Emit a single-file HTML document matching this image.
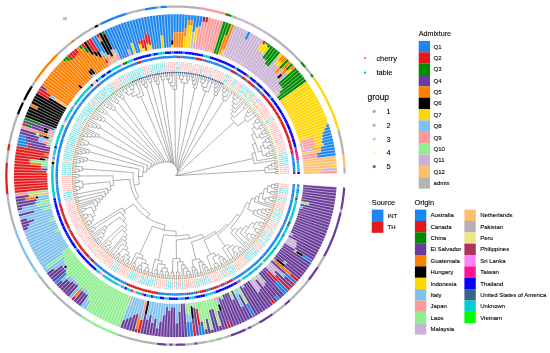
<!DOCTYPE html>
<html><head><meta charset="utf-8"><title>Circular tree with admixture</title>
<style>html,body{margin:0;padding:0;background:#fff;overflow:hidden}svg{display:block}.lg text{stroke:#000;stroke-width:.1px}</style></head>
<body>
<svg width="550" height="353" viewBox="0 0 550 353" font-family="Liberation Sans, sans-serif">
<rect width="550" height="353" fill="#fff"/>
<path fill="#FDBF6F" d="M303.69 174.03L319.67 173.83L319.61 171.13L303.64 171.63ZM303.64 171.66L324.27 171.01L324.16 168.23L303.54 169.26ZM303.54 169.29L331.15 167.91L330.98 165.01L303.4 166.89ZM303.4 166.92L336.62 164.65L336.39 161.64L303.22 164.53ZM303.22 164.55L336.39 161.67L336.1 158.67L302.99 162.17ZM302.99 162.19L336.11 158.69L335.76 155.7L302.72 159.81ZM302.05 155.14L312.9 153.38L312.46 150.81L301.64 152.78ZM301.2 150.47L304.47 149.81L303.96 147.41L300.71 148.12ZM299.61 143.53L301.22 143.12L300.59 140.77L298.99 141.22ZM275.28 95.15L277.87 93.06L276.31 91.16L273.76 93.3ZM241.45 65.71L243.16 62.86L241.04 61.61L239.38 64.5ZM224.51 57.19L225.27 55.34L223.02 54.43L222.29 56.29ZM222.31 56.3L224.74 50.1L222.39 49.2L220.07 55.45ZM220.09 55.46L220.67 53.89L218.39 53.07L217.84 54.64ZM211.08 52.49L211.82 49.93L209.47 49.27L208.77 51.84ZM118.7 60.72L115.02 53.25L112.74 54.41L116.57 61.8ZM114.49 62.9L112.11 58.51L109.93 59.71L112.39 64.06ZM67.93 105.91L55.35 97.76L53.92 100.02L66.64 107.94ZM46.04 192.32L28.53 194.57L28.91 197.32L46.37 194.74ZM145.04 300.18L144.65 301.8L147.01 302.35L147.38 300.73ZM271.98 260.07L273.23 261.17L274.82 259.32L273.54 258.25Z"/>
<path fill="#CAB2D6" d="M319.67 173.83L323 173.78L322.94 171.03L319.61 171.13ZM324.27 171.01L336.92 170.62L336.8 167.6L324.16 168.23ZM301.65 152.8L311.48 151.02L310.99 148.48L301.2 150.45ZM300.72 148.15L303.32 147.58L302.77 145.19L300.18 145.81ZM300.18 145.83L302.78 145.21L302.18 142.84L299.61 143.51ZM276.75 97.01L280.69 93.95L279.15 92L275.26 95.13ZM277.87 93.06L283.05 88.88L281.41 86.89L276.31 91.16ZM273.77 93.32L281.43 86.9L279.75 84.94L272.21 91.5ZM272.23 91.52L279.77 84.96L278.05 83.03L270.64 89.72ZM270.66 89.74L287.96 74.12L286.04 72.04L269.03 87.98ZM269.05 87.99L278.77 78.89L276.94 76.97L267.4 86.26ZM267.41 86.28L284.12 70.03L282.13 68.02L265.73 84.58ZM265.74 84.59L276.29 73.95L274.37 72.08L264.03 82.92ZM264.04 82.94L278.99 67.29L276.95 65.37L262.29 81.3ZM262.31 81.32L276.97 65.39L274.89 63.51L260.53 79.71ZM260.55 79.73L279.33 58.55L277.12 56.63L258.74 78.15ZM258.76 78.17L268.49 66.77L266.44 65.05L256.93 76.63ZM256.94 76.64L266.46 65.07L264.38 63.39L255.08 75.14ZM255.1 75.15L266.47 60.8L264.31 59.12L253.21 73.68ZM253.22 73.7L264.33 59.13L262.13 57.49L251.31 72.26ZM251.32 72.28L264.13 54.82L261.85 53.19L249.38 70.88ZM249.4 70.89L262.84 51.84L260.51 50.23L247.43 69.53ZM247.45 69.54L259.59 51.63L257.26 50.08L245.45 68.22ZM245.47 68.23L263.65 40.33L261.1 38.7L243.45 66.94ZM243.47 66.95L261.13 38.72L258.55 37.14L241.43 65.7ZM243.16 62.86L258.58 37.16L255.98 35.63L241.04 61.61ZM239.4 64.51L256 35.64L253.37 34.16L237.31 63.34ZM237.34 63.35L253.4 34.18L250.74 32.75L235.23 62.21ZM235.25 62.22L246.89 40.13L244.34 38.82L233.12 61.13ZM233.14 61.14L248.11 31.39L245.4 30.06L230.99 60.08ZM231.01 60.09L245.43 30.07L242.69 28.79L228.84 59.07ZM228.86 59.08L242.72 28.8L239.97 27.57L226.67 58.11ZM226.69 58.12L239.99 27.59L237.21 26.41L224.49 57.18ZM225.27 55.34L237.24 26.42L234.44 25.29L223.02 54.43ZM204.19 50.7L205.09 46.81L202.68 46.28L201.85 50.19ZM201.88 50.19L202.56 46.93L200.15 46.45L199.53 49.72ZM194.87 48.92L195.88 42.34L193.39 41.98L192.5 48.58ZM192.53 48.59L194.74 32.08L192.05 31.75L190.15 48.29ZM131.79 55.13L129.52 48.87L127.16 49.75L129.54 55.97ZM52.26 140.34L44.26 138.04L43.58 140.5L51.62 142.65ZM131.43 296.04L128 305.42L130.43 306.28L133.69 296.84ZM249.09 280.63L257.69 292.9L259.87 291.34L251.04 279.23ZM251.02 279.25L258.86 290.01L260.99 288.43L252.94 277.82ZM254.8 276.38L263.04 286.85L265.1 285.19L256.67 274.88ZM258.76 277.47L264.03 283.92L266.04 282.25L260.65 275.9ZM265.47 266.97L274.82 276.46L276.69 274.59L267.16 265.28ZM267.15 265.29L274.29 272.28L276.08 270.42L268.81 263.56ZM268.79 263.58L280.91 275L282.75 273.01L270.42 261.82ZM284.64 242.91L294.56 249.02L295.91 246.78L285.88 240.86ZM285.87 240.88L295.9 246.81L297.21 244.54L287.07 238.8ZM287.06 238.82L295.75 243.74L297 241.49L288.22 236.73Z"/>
<path fill="#FB9A99" d="M323 173.78L336.99 173.61L336.92 170.59L322.94 171.03ZM302.72 159.83L317.59 157.99L317.24 155.33L302.4 157.46ZM302.41 157.48L317.24 155.36L316.84 152.71L302.04 155.11ZM311.48 151.02L321.31 149.24L320.79 146.52L310.99 148.48ZM304.47 149.81L313.28 148.05L312.74 145.48L303.96 147.41ZM303.32 147.58L315.03 145L314.43 142.4L302.77 145.19ZM302.78 145.21L315.08 142.27L314.43 139.67L302.18 142.84ZM301.22 143.12L314.12 139.78L313.42 137.19L300.59 140.77ZM213.36 53.17L223.19 21.35L220.3 20.49L211.06 52.48ZM211.82 49.93L220.33 20.5L217.42 19.68L209.47 49.27ZM208.8 51.85L217.45 19.69L214.52 18.94L206.48 51.25ZM206.5 51.25L214.55 18.94L211.62 18.24L204.17 50.7ZM205.09 46.81L211.65 18.25L208.7 17.6L202.68 46.28ZM202.56 46.93L207.7 22.49L204.83 21.92L200.15 46.45ZM199.55 49.73L204.86 21.92L201.98 21.4L197.19 49.3ZM197.22 49.3L201.17 26.33L198.37 25.88L194.85 48.92ZM120.84 59.69L118 53.66L115.73 54.76L118.68 60.73ZM115.02 53.25L112.8 48.78L110.44 49.97L112.74 54.41ZM115.06 58.83L113.53 55.87L111.3 57.05L112.88 59.98ZM112.11 58.51L109.74 54.11L107.48 55.36L109.93 59.71ZM112.41 64.05L109.96 59.7L107.8 60.94L110.34 65.25ZM110.36 65.23L108.67 62.36L106.56 63.63L108.31 66.47ZM52.08 130.17L48.96 129.02L48.11 131.39L51.26 132.48ZM54.41 133.55L48.12 131.37L47.31 133.75L53.64 135.82ZM53.65 135.8L50.21 134.68L49.47 137.02L52.93 138.08ZM39.2 131.08L22 125.45L21.09 128.33L38.39 133.63ZM48.41 141.77L43.58 140.48L42.95 142.95L47.8 144.15ZM51.04 144.92L46.19 143.72L45.61 146.15L50.48 147.25ZM28.21 191.85L17.29 193.05L17.64 196.01L28.54 194.6ZM48.35 192.02L46.04 192.32L46.37 194.74L48.68 194.4ZM144.65 301.8L141.88 313.12L144.45 313.72L147.01 302.35ZM192.15 302.76L192.37 304.41L194.77 304.08L194.52 302.43ZM212.99 298.24L213.97 301.43L216.31 300.69L215.28 297.52ZM215.26 297.53L216.08 300.06L218.4 299.28L217.53 296.77Z"/>
<path fill="#FFD700" d="M331.15 167.91L336.8 167.63L336.62 164.62L330.98 165.01ZM312.9 153.38L321.11 152.05L320.65 149.33L312.46 150.81ZM313.28 148.05L324.06 145.89L323.48 143.12L312.74 145.48ZM315.03 145L322.18 143.43L321.55 140.7L314.43 142.4ZM315.08 142.27L322.86 140.41L322.17 137.67L314.43 139.67ZM314.12 139.78L322.82 137.53L322.08 134.78L313.42 137.19ZM299 141.24L323.38 134.45L322.58 131.69L298.33 138.94ZM298.34 138.96L325.14 130.96L324.28 128.17L297.63 136.67ZM297.64 136.7L326.83 127.39L325.9 124.57L296.89 134.42ZM296.9 134.44L328.43 123.74L327.43 120.89L296.11 132.18ZM296.11 132.2L327.44 120.92L326.39 118.09L295.28 129.96ZM295.29 129.98L326.4 118.11L325.3 115.3L294.41 127.75ZM294.42 127.77L325.31 115.33L324.16 112.54L293.51 125.55ZM293.52 125.58L324.17 112.57L322.97 109.8L292.56 123.38ZM292.57 123.4L322.98 109.83L321.72 107.08L291.57 121.22ZM291.58 121.24L321.74 107.11L320.43 104.39L290.55 119.08ZM290.56 119.11L320.44 104.42L319.09 101.72L289.48 116.96ZM289.49 116.99L319.1 101.75L317.69 99.08L288.37 114.87ZM288.39 114.89L317.71 99.1L316.25 96.46L287.23 112.79ZM287.24 112.81L316.27 96.48L314.76 93.87L286.05 110.73ZM286.06 110.75L314.78 93.89L313.22 91.3L284.83 108.7ZM284.84 108.72L313.24 91.33L311.64 88.77L283.57 106.68ZM283.58 106.7L311.66 88.8L310.01 86.27L282.27 104.7ZM282.29 104.72L310.03 86.29L308.33 83.79L280.94 102.73ZM280.96 102.75L308.35 83.82L306.61 81.35L279.58 100.79ZM287.96 74.12L291.67 70.77L289.69 68.62L286.04 72.04ZM278.99 67.29L282.44 63.67L280.33 61.69L276.95 65.37ZM276.97 65.39L280.35 61.71L278.2 59.77L274.89 63.51ZM279.33 58.55L282.64 54.81L280.37 52.83L277.12 56.63ZM264.13 54.82L269.05 48.11L266.65 46.39L261.85 53.19ZM262.84 51.84L267.63 45.04L265.18 43.34L260.51 50.23ZM259.59 51.63L264.27 44.74L261.8 43.1L257.26 50.08ZM195.88 42.34L198.15 27.53L195.37 27.13L193.39 41.98ZM190.17 48.29L192.76 25.8L189.96 25.5L187.79 48.04ZM187.81 48.04L189.99 25.5L187.18 25.26L185.43 47.83ZM185.45 47.84L186.35 36.22L183.75 36.04L183.06 47.67ZM173.6 47.46L173.56 44.8L171.11 44.86L171.2 47.52ZM164.12 47.96L163 35.35L160.38 35.61L161.74 48.19ZM152.37 49.55L151.47 44.64L149.03 45.11L150.02 50.01ZM150.04 50L148.72 43.48L146.26 44L147.7 50.5ZM145.41 51.03L144.63 47.79L142.25 48.39L143.09 51.61ZM143.11 51.61L141.01 43.55L138.54 44.22L140.8 52.24ZM136.28 53.6L132.71 42.5L130.23 43.32L134 54.35ZM295.15 252.47L295.99 253.01L297.41 250.75L296.56 250.22Z"/>
<path fill="#1C86EE" d="M317.59 157.99L335.77 155.73L335.37 152.73L317.24 155.33ZM317.24 155.36L335.37 152.76L334.91 149.78L316.84 152.71ZM321.11 152.05L334.92 149.81L334.41 146.83L320.65 149.33ZM321.31 149.24L334.41 146.86L333.85 143.9L320.79 146.52ZM324.06 145.89L333.85 143.93L333.23 140.97L323.48 143.12ZM322.18 143.43L333.24 141L332.56 138.06L321.55 140.7ZM322.86 140.41L332.57 138.09L331.84 135.16L322.17 137.67ZM322.82 137.53L331.85 135.19L331.07 132.27L322.08 134.78ZM323.38 134.45L331.07 132.3L330.24 129.4L322.58 131.69ZM325.14 130.96L330.25 129.43L329.35 126.55L324.28 128.17ZM326.83 127.39L329.36 126.58L328.42 123.71L325.9 124.57ZM246.89 40.13L250.77 32.76L248.08 31.38L244.34 38.82ZM201.17 26.33L202.86 16.48L199.88 16L198.37 25.88ZM198.15 27.53L199.91 16.01L196.92 15.58L195.37 27.13ZM194.74 32.08L196.95 15.58L193.95 15.21L192.05 31.75ZM193.34 20.84L193.98 15.21L190.98 14.89L190.44 20.53ZM190.47 20.53L191.01 14.9L188 14.63L187.57 20.28ZM187 27.92L188.03 14.64L185.02 14.43L184.24 27.73ZM183.99 32.38L185.05 14.43L182.04 14.28L181.31 32.25ZM181.34 32.25L182.07 14.28L179.05 14.19L178.66 32.17ZM178.68 32.17L179.08 14.19L176.06 14.15L176 32.13ZM176.03 32.13L176.09 14.15L173.07 14.17L173.34 32.15ZM173.49 40.14L173.1 14.17L170.09 14.24L170.96 40.2ZM171.23 47.52L170.12 14.24L167.1 14.37L168.83 47.62ZM168.86 47.62L167.13 14.37L164.12 14.55L166.46 47.77ZM166.49 47.77L164.15 14.55L161.14 14.79L164.1 47.96ZM163 35.35L161.17 14.79L158.16 15.08L160.38 35.61ZM161.76 48.19L158.19 15.08L155.2 15.43L159.38 48.47ZM159.41 48.46L155.23 15.43L152.23 15.83L157.03 48.79ZM157.05 48.78L152.26 15.83L149.28 16.29L154.69 49.15ZM154.71 49.15L149.31 16.29L146.34 16.8L152.35 49.56ZM149.67 34.81L146.37 16.8L143.4 17.37L147.04 35.32ZM146.74 33.68L143.43 17.37L140.48 17.99L144.09 34.25ZM145.2 39.12L140.51 17.99L137.57 18.67L142.65 39.71ZM142.68 39.7L137.6 18.66L134.67 19.4L140.14 40.34ZM140.17 40.33L134.7 19.39L131.78 20.18L137.64 41.02ZM140.82 52.23L131.81 20.17L128.92 21.01L138.52 52.9ZM138.54 52.89L128.94 21.01L126.06 21.9L136.26 53.6ZM132.71 42.5L126.09 21.89L123.22 22.84L130.23 43.32ZM134.03 54.34L123.25 22.83L120.41 23.84L131.77 55.14ZM129.52 48.87L120.43 23.83L117.61 24.88L127.16 49.75ZM129.57 55.96L117.63 24.87L114.83 25.98L127.34 56.84ZM126.73 55.29L114.85 25.97L112.07 27.13L124.49 56.22ZM125.17 57.74L112.09 27.12L109.33 28.33L122.97 58.7ZM123 58.69L109.36 28.32L106.62 29.58L120.82 59.7ZM115.87 49.14L106.64 29.56L103.92 30.88L113.52 50.28ZM105.86 52.45L96.03 35.06L93.41 36.57L103.57 53.77ZM101.9 50.89L93.44 36.55L90.85 38.11L99.58 52.29ZM25.89 135.76L19.45 134.04L18.7 136.97L25.17 138.56ZM25.82 138.7L18.71 136.94L18.01 139.88L25.16 141.5ZM28.41 142.21L18.02 139.85L17.38 142.8L27.81 144.96ZM27.82 144.94L17.38 142.77L16.8 145.73L27.27 147.7ZM65.37 272.29L54.11 282.17L56.12 284.42L67.2 274.33ZM186.44 321.76L187.56 336.7L190.57 336.45L189.17 321.53ZM189.2 322.19L190.54 336.45L193.54 336.14L191.94 321.91ZM197.95 325.49L199.44 335.37L202.42 334.89L200.75 325.04ZM201 326.69L202.39 334.9L205.36 334.37L203.82 326.18ZM245.79 304.2L252.18 315.89L254.79 314.43L248.18 302.87ZM274.57 296.81L277.73 300.68L280.05 298.74L276.81 294.94ZM274.39 283.75L284.51 294.81L286.72 292.75L276.4 281.89ZM276.38 281.91L286.7 292.77L288.87 290.67L278.35 280ZM283.96 274.15L295.05 284.23L297.06 281.98L285.78 272.11ZM301.59 256.61L311.4 262.91L313.01 260.35L303.08 254.24Z"/>
<path fill="#008B00" d="M279.59 100.81L306.63 81.37L304.84 78.94L278.17 98.88ZM278.19 98.9L304.86 78.96L303.03 76.56L276.73 96.99ZM280.69 93.95L303.05 76.59L301.18 74.22L279.15 92ZM283.05 88.88L301.19 74.24L299.28 71.91L281.41 86.89ZM281.43 86.9L299.3 71.94L297.34 69.64L279.75 84.94ZM279.77 84.96L297.36 69.66L295.35 67.4L278.05 83.03ZM287.28 70.92L293.35 65.23L291.27 63.04L285.3 68.85ZM280.98 69.22L289.18 60.94L287.02 58.84L278.97 67.27ZM268.49 66.77L280.39 52.85L278.08 50.91L266.44 65.05ZM266.46 65.07L278.1 50.93L275.75 49.03L264.38 63.39ZM266.47 60.8L275.77 49.05L273.39 47.2L264.31 59.12ZM264.33 59.13L273.41 47.22L271 45.41L262.13 57.49ZM269.05 48.11L271.02 45.43L268.57 43.66L266.65 46.39ZM267.63 45.04L268.59 43.68L266.11 41.96L265.18 43.34ZM227.28 36.1L231.68 24.24L228.84 23.21L224.66 35.16ZM217.86 54.65L228.87 23.22L226.01 22.25L215.59 53.88ZM215.62 53.89L226.04 22.26L223.16 21.34L213.33 53.16ZM105.43 33.85L103.95 30.86L101.26 32.23L102.79 35.18ZM89.46 51.75L85.66 46.28L83.25 47.99L87.15 53.38ZM83.28 47.97L80.94 44.73L78.51 46.52L80.91 49.71ZM73.63 59.04L71.44 56.53L69.23 58.5L71.47 60.97ZM70.37 59.71L67.01 56.01L64.8 58.06L68.22 61.7ZM66.64 59.98L64.82 58.04L62.64 60.13L64.5 62.04ZM42.09 123.66L25.02 117.01L23.95 119.83L41.14 126.16ZM31.76 125.68L26.1 123.71L25.16 126.51L30.85 128.37ZM17.84 201.91L16.2 202.19L16.72 205.16L18.36 204.86Z"/>
<path fill="#FF7F00" d="M291.67 70.77L295.37 67.43L293.33 65.2L289.69 68.62ZM282.42 75.47L287.28 70.92L285.3 68.85L280.52 73.49ZM284.12 70.03L291.29 63.06L289.16 60.92L282.13 68.02ZM276.29 73.95L280.98 69.22L278.97 67.27L274.37 72.08ZM282.44 63.67L287.04 58.86L284.84 56.79L280.33 61.69ZM280.35 61.71L284.86 56.81L282.62 54.79L278.2 59.77ZM224.74 50.1L234.47 25.3L231.65 24.23L222.39 49.2ZM220.67 53.89L227.28 36.1L224.66 35.16L218.39 53.07ZM192.76 25.8L193.34 20.84L190.44 20.53L189.96 25.5ZM189.99 25.5L190.47 20.53L187.57 20.28L187.18 25.26ZM186.35 36.22L187 27.92L184.24 27.73L183.75 36.04ZM183.08 47.67L183.99 32.38L181.31 32.25L180.69 47.56ZM180.71 47.56L181.34 32.25L178.66 32.17L178.32 47.48ZM178.34 47.48L178.68 32.17L176 32.13L175.95 47.45ZM175.97 47.45L176.03 32.13L173.34 32.15L173.57 47.46ZM102.6 40.93L100.23 36.54L97.64 37.97L100.1 42.32ZM109.96 59.7L108.32 56.8L106.11 58.08L107.8 60.94ZM106.98 59.5L104.44 55.19L102.2 56.54L104.82 60.8ZM108.33 66.46L102.22 56.53L100.01 57.92L106.3 67.73ZM106.32 67.72L98.23 55.1L95.99 56.57L104.31 69.03ZM104.33 69.02L94.17 53.78L91.9 55.33L102.35 70.37ZM102.37 70.35L89.46 51.75L87.15 53.38L100.42 71.74ZM100.44 71.72L83.28 47.97L80.91 49.71L98.51 73.15ZM98.53 73.13L78.53 46.5L76.13 48.34L96.62 74.59ZM91.52 68.01L79.23 52.26L76.94 54.08L89.52 69.6ZM89.96 70.1L77.38 54.58L75.14 56.43L88 71.72ZM92.96 77.56L75.8 57.18L73.61 59.06L91.14 79.12ZM91.15 79.1L73.63 59.04L71.47 60.97L89.36 80.7ZM89.38 80.68L70.37 59.71L68.22 61.7L87.62 82.31ZM87.64 82.29L66.64 59.98L64.5 62.04L85.91 83.95ZM85.93 83.93L62.66 60.11L60.52 62.24L84.23 85.62ZM84.25 85.61L60.54 62.22L58.44 64.39L82.58 87.33ZM79.7 84.56L58.46 64.36L56.4 66.57L78.01 86.36ZM80.98 89.04L56.42 66.55L54.41 68.79L79.37 90.83ZM79.39 90.81L54.42 68.77L52.45 71.05L77.82 92.62ZM77.84 92.6L52.47 71.03L50.53 73.35L76.3 94.44ZM76.32 94.42L50.55 73.32L48.66 75.68L74.82 96.29ZM74.83 96.27L48.68 75.65L46.83 78.04L73.36 98.17ZM73.38 98.15L46.85 78.02L45.05 80.44L71.95 100.07ZM71.96 100.05L45.07 80.42L43.31 82.87L70.57 102ZM70.58 101.98L43.33 82.85L41.62 85.33L69.22 103.95ZM69.24 103.94L47.15 89.03L45.56 91.45L67.91 105.93ZM38.53 107.08L31.08 103.36L29.76 106.07L37.27 109.66ZM47.8 133.89L39.2 131.08L38.39 133.63L47.04 136.28ZM49.11 154.21L44.84 153.49L44.45 155.93L48.73 156.58ZM41.24 162.99L30.29 161.96L30.06 164.68L41.02 165.5ZM35.83 196.27L25.29 197.83L25.73 200.63L36.24 198.88ZM80.19 288.24L73.73 295.86L76 297.74L82.31 290ZM138.49 315.69L135.09 328.57L137.95 329.3L141.11 316.36ZM273.23 261.17L289.52 275.42L291.37 273.27L274.82 259.32ZM291.68 235.88L292.57 236.34L293.68 234.14L292.79 233.7Z"/>
<path fill="#000000" d="M278.77 78.89L282.42 75.47L280.52 73.49L276.94 76.97ZM173.56 44.8L173.49 40.14L170.96 40.2L171.11 44.86ZM112.8 48.78L105.43 33.85L102.79 35.18L110.44 49.97ZM113.53 55.87L101.28 32.21L98.62 33.63L111.3 57.05ZM109.74 54.11L102.6 40.93L100.1 42.32L107.48 55.36ZM102.22 56.53L98.73 50.86L96.41 52.31L100.01 57.92ZM98.23 55.1L95.54 50.9L93.22 52.41L95.99 56.57ZM94.17 53.78L85.85 41.32L83.35 43.02L91.9 55.33ZM95.62 73.26L91.52 68.01L89.52 69.6L93.72 74.77ZM93.11 73.98L89.96 70.1L88 71.72L91.22 75.54ZM82.59 87.31L79.7 84.56L78.01 86.36L80.96 89.06ZM66.65 107.92L49.69 97.36L48.25 99.72L65.41 109.96ZM65.42 109.94L36.83 92.87L35.3 95.48L64.21 112.01ZM64.22 111.99L35.32 95.45L33.84 98.09L63.05 114.08ZM63.06 114.06L33.86 98.06L32.43 100.72L61.93 116.17ZM61.94 116.15L32.45 100.7L31.07 103.38L60.85 118.28ZM60.86 118.26L38.53 107.08L37.27 109.66L59.81 120.42ZM59.82 120.39L29.77 106.04L28.5 108.78L58.81 122.57ZM58.82 122.54L28.51 108.75L27.28 111.51L57.84 124.73ZM57.85 124.71L27.3 111.48L26.12 114.26L56.92 126.92ZM56.93 126.9L26.13 114.23L25.01 117.04L56.04 129.12ZM48.96 129.02L44.27 127.29L43.39 129.75L48.11 131.39ZM48.12 131.37L44.34 130.05L43.51 132.51L47.31 133.75ZM49.11 136.89L44.34 135.43L43.61 137.88L48.41 139.26ZM45.1 158.47L39.48 157.73L39.17 160.27L44.8 160.91ZM37.8 195.98L35.83 196.27L36.24 198.88L38.21 198.55ZM65.75 264.99L63.68 266.67L65.4 268.75L67.44 267.03ZM147.35 300.72L144.43 313.72L147.01 314.27L149.7 301.23ZM190.17 306.36L191.58 318.93L194.25 318.61L192.61 306.06ZM217.63 304.81L219.7 311.14L222.22 310.29L220.04 304ZM276.07 260.42L283.71 266.85L285.4 264.82L277.64 258.52ZM295.99 253.01L301.59 256.61L303.08 254.24L297.41 250.75Z"/>
<path fill="#E31A1C" d="M264.27 44.74L266.14 41.98L263.62 40.31L261.8 43.1ZM207.7 22.49L208.73 17.61L205.77 17.01L204.83 21.92ZM151.47 44.64L149.67 34.81L147.04 35.32L149.03 45.11ZM148.72 43.48L146.74 33.68L144.09 34.25L146.26 44ZM147.72 50.5L145.2 39.12L142.65 39.71L145.39 51.04ZM144.63 47.79L142.68 39.7L140.14 40.34L142.25 48.39ZM141.01 43.55L140.17 40.33L137.64 41.02L138.54 44.22ZM100.23 36.54L98.64 33.61L96 35.07L97.64 37.97ZM108.67 62.36L106.98 59.5L104.82 60.8L106.56 63.63ZM98.73 50.86L90.88 38.09L88.32 39.7L96.41 52.31ZM95.54 50.9L88.35 39.68L85.82 41.34L93.22 52.41ZM85.66 46.28L83.38 43L80.91 44.75L83.25 47.99ZM79.23 52.26L76.16 48.32L73.8 50.2L76.94 54.08ZM77.38 54.58L73.82 50.18L71.49 52.1L75.14 56.43ZM75.8 57.18L71.51 52.08L69.22 54.05L73.61 59.06ZM71.44 56.53L69.25 54.03L66.99 56.03L69.23 58.5ZM51.16 95.05L39.98 87.8L38.37 90.35L49.68 97.38ZM49.69 97.36L38.38 90.32L36.81 92.9L48.25 99.72ZM26.1 123.71L22.96 122.62L21.99 125.48L25.16 126.51ZM31.01 142.8L28.41 142.21L27.81 144.96L30.42 145.51ZM30.42 145.48L27.82 144.94L27.27 147.7L29.89 148.2ZM49.52 151.87L16.8 145.7L16.27 148.67L49.1 154.23ZM44.84 153.49L16.27 148.64L15.8 151.62L44.45 155.93ZM48.73 156.55L15.8 151.59L15.38 154.58L48.4 158.92ZM39.48 157.73L15.38 154.55L15.02 157.55L39.17 160.27ZM29.91 159.2L15.02 157.52L14.71 160.52L29.63 161.92ZM30.29 161.96L14.71 160.49L14.46 163.5L30.06 164.68ZM41.02 165.48L14.46 163.47L14.26 166.48L40.86 167.99ZM41.52 168.01L14.26 166.45L14.12 169.47L41.4 170.51ZM46.4 170.68L14.12 169.44L14.03 172.45L46.33 173.09ZM47.33 173.09L14.03 172.42L14 175.44L47.3 175.48ZM47.3 175.46L14 175.41L14.02 178.43L47.32 177.86ZM47.32 177.83L14.02 178.4L14.1 181.42L47.38 180.23ZM47.38 180.2L14.1 181.39L14.24 184.4L47.49 182.6ZM47.49 182.57L14.24 184.37L14.43 187.39L47.64 184.97ZM47.64 184.94L14.42 187.36L14.67 190.36L47.83 187.33ZM47.83 187.31L14.67 190.33L14.97 193.34L48.07 189.69ZM73.73 295.86L71.15 298.91L73.47 300.84L76 297.74ZM140.3 319.59L137.13 332.53L140.07 333.22L142.99 320.22ZM192.21 324.56L193.51 336.14L196.51 335.78L194.99 324.22ZM195.49 309.02L197.95 325.49L200.75 325.04L197.98 308.62ZM226.01 321.31L228.42 328.24L231.26 327.22L228.73 320.34ZM269.41 299.6L273.03 304.37L275.42 302.53L271.71 297.82ZM267.21 272.25L276.38 281.91L278.35 280L269 270.51ZM277.16 278.83L288.84 290.7L290.97 288.56L279.07 276.92ZM288.66 282.31L293.02 286.42L295.07 284.21L290.64 280.18ZM289.52 275.42L297.04 282L299.01 279.71L291.37 273.27Z"/>
<path fill="#6A3D9A" d="M204.86 21.92L205.8 17.02L202.83 16.48L201.98 21.4ZM127.36 56.83L126.73 55.29L124.49 56.22L125.15 57.75ZM47.15 89.03L41.63 85.31L39.97 87.82L45.56 91.45ZM54.5 128.5L42.09 123.66L41.14 126.16L53.64 130.77ZM44.27 127.29L23.96 119.8L22.95 122.65L43.39 129.75ZM44.34 130.05L31.76 125.68L30.85 128.37L43.51 132.51ZM44.34 135.43L39.56 133.96L38.81 136.51L43.61 137.88ZM36.38 132.99L21.1 128.3L20.24 131.19L35.61 135.59ZM39.45 136.67L20.25 131.16L19.44 134.07L38.75 139.22ZM38.76 139.19L25.89 135.76L25.17 138.56L38.1 141.75ZM46.19 143.72L25.82 138.7L25.16 141.5L45.61 146.15ZM50.49 147.23L31.01 142.8L30.42 145.51L49.98 149.57ZM49.99 149.55L30.42 145.48L29.89 148.2L49.52 151.9ZM47.51 168.35L41.52 168.01L41.4 170.51L47.39 170.74ZM28.53 194.57L15.32 196.28L15.74 199.27L28.91 197.32ZM25.29 197.83L15.73 199.24L16.2 202.22L25.73 200.63ZM36.56 198.8L17.84 201.91L18.36 204.86L37.02 201.39ZM35.38 201.67L16.71 205.13L17.29 208.09L35.89 204.28ZM22.18 207.06L17.29 208.06L17.92 211.02L22.79 209.92ZM34.12 210.11L18.59 213.9L19.34 216.82L34.79 212.75ZM26.52 217.86L20.12 219.68L20.97 222.57L27.34 220.64ZM33.7 218.68L20.96 222.54L21.86 225.42L34.53 221.32ZM28.82 223.14L21.85 225.4L22.81 228.26L29.74 225.87ZM27.52 226.6L22.8 228.23L23.81 231.08L28.5 229.36ZM53.21 267.89L46.56 272.9L48.4 275.29L54.96 270.16ZM61.49 265L48.39 275.27L50.27 277.63L63.18 267.12ZM63.16 267.09L50.25 277.61L52.18 279.93L64.89 269.18ZM64.87 269.16L52.16 279.91L54.13 282.19L66.64 271.21ZM61.03 279.91L56.1 284.4L58.15 286.61L62.99 282.03ZM66.6 278.58L58.13 286.59L60.23 288.76L68.55 280.6ZM68.53 280.58L60.21 288.74L62.34 290.88L70.51 282.56ZM72.12 280.88L62.32 290.86L64.49 292.95L74.11 282.79ZM74.09 282.77L64.47 292.93L66.68 294.99L76.11 284.65ZM76.76 283.89L66.66 294.97L68.91 296.98L78.8 285.72ZM81.87 290.5L73.45 300.82L75.81 302.71L84.03 292.23ZM84.01 292.21L75.78 302.69L78.17 304.53L86.2 293.9ZM86.18 293.88L78.15 304.51L80.58 306.31L88.4 295.53ZM122.85 319.49L119.99 327.31L122.83 328.32L125.54 320.45ZM126.39 317.92L122.8 328.31L125.66 329.27L129.05 318.82ZM129.75 316.59L125.64 329.26L128.52 330.16L132.39 317.42ZM133.33 314.23L128.49 330.16L131.38 331.01L135.93 314.99ZM136.36 313.38L131.35 331L134.26 331.8L138.94 314.09ZM135.09 328.57L134.24 331.79L137.16 332.53L137.95 329.3ZM144.43 313.72L140.04 333.21L142.99 333.84L147.01 314.27ZM145.98 319.16L142.96 333.84L145.93 334.42L148.67 319.69ZM149.56 314.77L145.9 334.41L148.87 334.94L152.16 315.23ZM150.93 322.45L148.84 334.93L151.82 335.4L153.68 322.89ZM154.33 318.27L151.79 335.4L154.78 335.82L157 318.64ZM155.78 327.89L154.75 335.81L157.75 336.17L158.63 328.23ZM159.37 321.27L157.72 336.17L160.72 336.47L162.09 321.55ZM162.68 314.92L160.69 336.47L163.7 336.72L165.28 315.13ZM165.87 306.83L163.67 336.72L166.68 336.91L168.32 306.98ZM168.11 310.31L166.65 336.91L169.67 337.04L170.63 310.42ZM170.73 307.09L169.64 337.04L172.66 337.12L173.18 307.16ZM173.16 307.16L172.63 337.12L175.64 337.15L175.62 307.18ZM175.6 323.16L175.61 337.15L178.63 337.12L178.36 323.14ZM178.11 311.48L178.6 337.12L181.62 337.03L180.65 311.41ZM180.33 303.76L181.59 337.04L184.61 336.89L182.73 303.65ZM182.7 303.65L184.58 336.89L187.59 336.7L185.1 303.49ZM191.58 318.93L192.21 324.56L194.99 324.22L194.25 318.61ZM192.8 307.72L196.48 335.78L199.47 335.36L195.26 307.37ZM200.17 321.76L201 326.69L203.82 326.18L202.9 321.28ZM204.41 329.46L205.33 334.37L208.29 333.79L207.28 328.9ZM205.22 319.12L208.26 333.79L211.21 333.15L207.9 318.54ZM210.45 329.91L211.18 333.16L214.12 332.46L213.32 329.23ZM208.52 309.84L214.09 332.47L217.01 331.72L211.02 309.2ZM211 309.2L216.99 331.73L219.9 330.93L213.49 308.52ZM218.49 326.13L219.87 330.94L222.76 330.08L221.3 325.3ZM216.89 310.98L222.73 330.09L225.61 329.18L219.41 310.19ZM219.7 311.14L225.58 329.19L228.44 328.23L222.22 310.29ZM218.05 298.35L226.01 321.31L228.73 320.34L220.34 297.53ZM221.12 299.73L231.23 327.23L234.05 326.16L223.43 298.85ZM221.96 295.14L234.02 326.17L236.83 325.05L224.18 294.25ZM224.16 294.26L236.8 325.06L239.58 323.89L226.37 293.33ZM226.35 293.34L239.55 323.9L242.31 322.68L228.54 292.36ZM231.96 299.95L242.29 322.69L245.02 321.42L234.27 298.88ZM230.67 291.37L245 321.43L247.71 320.11L232.82 290.32ZM241.28 307.31L247.68 320.12L250.37 318.75L243.73 306.06ZM238 295.15L250.34 318.76L253 317.34L240.22 293.97ZM252.18 315.89L252.98 317.35L255.61 315.88L254.79 314.43ZM239.07 286.98L255.59 315.89L258.19 314.37L241.14 285.77ZM242.49 288.07L258.17 314.39L260.75 312.82L244.58 286.8ZM243.15 284.55L260.72 312.83L263.27 311.22L245.17 283.26ZM245.15 283.28L263.25 311.23L265.76 309.57L247.15 281.96ZM247.13 281.97L265.74 309.59L268.23 307.88L249.11 280.61ZM257.69 292.9L268.2 307.89L270.66 306.14L259.87 291.34ZM258.86 290.01L270.63 306.16L273.06 304.35L260.99 288.43ZM254.93 280.49L269.41 299.6L271.71 297.82L256.88 278.98ZM263.04 286.85L275.4 302.55L277.75 300.66L265.1 285.19ZM264.03 283.92L274.57 296.81L276.81 294.94L266.04 282.25ZM258.47 273.38L280.03 298.76L282.31 296.79L260.29 271.81ZM260.27 271.83L282.29 296.81L284.53 294.79L262.05 270.22ZM262.03 270.24L274.39 283.75L276.4 281.89L263.79 268.61ZM263.77 268.62L267.21 272.25L269 270.51L265.49 266.96ZM274.82 276.46L277.16 278.83L279.07 276.92L276.69 274.59ZM274.29 272.28L290.95 288.58L293.04 286.4L276.08 270.42ZM283.82 277.74L288.66 282.31L290.64 280.18L285.7 275.7ZM270.4 261.84L283.96 274.15L285.78 272.11L272 260.05ZM273.53 258.27L276.07 260.42L277.64 258.52L275.05 256.42ZM283.71 266.85L298.99 279.73L300.91 277.4L285.4 264.82ZM275.04 256.44L282.8 262.74L284.4 260.72L276.53 254.57ZM285.38 264.84L300.89 277.43L302.77 275.07L287.03 262.77ZM276.52 254.59L302.76 275.09L304.59 272.69L277.97 252.68ZM277.96 252.7L304.57 272.72L306.37 270.29L279.38 250.77ZM279.37 250.79L306.35 270.31L308.09 267.85L280.75 248.84ZM280.74 248.86L308.08 267.88L309.78 265.38L282.09 246.88ZM282.08 246.9L309.76 265.41L311.42 262.88L283.39 244.89ZM283.38 244.91L293.75 251.57L295.14 249.35L284.65 242.89ZM294.56 249.02L312.99 260.38L314.55 257.79L295.91 246.78ZM295.9 246.81L314.53 257.82L316.05 255.21L297.21 244.54ZM295.75 243.74L316.03 255.23L317.49 252.59L297 241.49ZM288.2 236.75L317.48 252.62L318.89 249.95L289.33 234.63ZM292.57 236.34L318.88 249.98L320.24 247.28L293.68 234.14ZM290.39 232.53L320.23 247.31L321.54 244.59L291.43 230.38ZM291.42 230.4L321.53 244.62L322.8 241.88L292.42 228.22ZM292.41 228.24L322.78 241.91L324 239.14L293.38 226.05ZM293.37 226.07L323.98 239.17L325.15 236.38L294.29 223.86ZM294.28 223.88L325.13 236.41L326.24 233.6L295.16 221.65ZM295.15 221.68L326.23 233.63L327.29 230.8L295.99 219.43ZM295.98 219.45L327.28 230.83L328.28 227.99L296.78 217.19ZM296.77 217.22L328.28 228.01L329.23 225.15L297.53 214.94ZM297.52 214.97L329.22 225.18L330.12 222.3L298.24 212.68ZM298.23 212.7L330.11 222.33L330.95 219.43L298.9 210.4ZM298.89 210.42L330.95 219.46L331.74 216.54L299.52 208.11ZM302.09 208.81L331.73 216.57L332.47 213.65L302.69 206.44ZM300.1 205.83L332.46 213.67L333.14 210.73L300.64 203.5ZM308.76 205.33L333.14 210.76L333.77 207.81L309.29 202.84ZM301.13 201.2L333.76 207.84L334.33 204.88L301.58 198.85ZM301.58 198.87L334.33 204.91L334.85 201.93L301.99 196.51ZM301.99 196.54L334.84 201.96L335.31 198.98L302.36 194.17ZM302.35 194.19L335.3 199.01L335.71 196.02L302.68 191.82ZM302.67 191.84L335.71 196.05L336.06 193.05L302.95 189.46ZM302.95 189.49L336.06 193.08L336.35 190.08L303.19 187.1ZM303.19 187.13L336.35 190.11L336.59 187.1L303.38 184.74Z"/>
<path fill="#7EC0EE" d="M118 53.66L115.87 49.14L113.52 50.28L115.73 54.76ZM116.59 61.79L115.06 58.83L112.88 59.98L114.47 62.91ZM108.32 56.8L105.86 52.45L103.57 53.77L106.11 58.08ZM104.44 55.19L101.9 50.89L99.58 52.29L102.2 56.54ZM96.64 74.57L95.62 73.26L93.72 74.77L94.77 76.06ZM94.78 76.05L93.11 73.98L91.22 75.54L92.94 77.58ZM55.35 97.76L51.16 95.05L49.68 97.38L53.92 100.02ZM56.05 129.1L54.5 128.5L53.64 130.77L55.2 131.34ZM55.21 131.32L52.08 130.17L51.26 132.48L54.4 133.57ZM50.21 134.68L47.8 133.89L47.04 136.28L49.47 137.02ZM44.26 138.04L39.45 136.67L38.75 139.22L43.58 140.5ZM43.58 140.48L38.76 139.19L38.1 141.75L42.95 142.95ZM48.4 158.9L45.1 158.47L44.8 160.91L48.11 161.28ZM32.23 159.46L29.91 159.2L29.63 161.92L31.95 162.14ZM47.67 165.98L41.02 165.48L40.86 167.99L47.51 168.37ZM17.29 193.05L14.97 193.31L15.33 196.31L17.64 196.01ZM48.67 194.37L37.8 195.98L38.21 198.55L49.05 196.74ZM49.04 196.72L36.56 198.8L37.02 201.39L49.46 199.08ZM40.29 200.75L35.38 201.67L35.89 204.28L40.78 203.28ZM36.86 204.05L22.18 207.06L22.79 209.92L37.41 206.64ZM50.41 203.7L17.91 210.99L18.6 213.93L50.95 206.03ZM42.21 208.14L34.12 210.11L34.79 212.75L42.84 210.63ZM51.53 208.31L19.33 216.79L20.13 219.71L52.16 210.62ZM52.16 210.6L26.52 217.86L27.34 220.64L52.83 212.9ZM52.82 212.88L33.7 218.68L34.53 221.32L53.54 215.16ZM53.53 215.14L28.82 223.14L29.74 225.87L54.29 217.41ZM49.56 219.02L27.52 226.6L28.5 229.36L50.39 221.36ZM55.08 219.63L23.8 231.05L24.86 233.87L55.92 221.87ZM55.91 221.85L24.85 233.85L25.96 236.65L56.8 224.07ZM56.79 224.05L25.95 236.62L27.12 239.41L57.71 226.26ZM57.7 226.24L27.11 239.38L28.32 242.14L58.67 228.43ZM55.02 230.06L28.31 242.12L29.58 244.85L56.06 232.3ZM59.66 230.56L29.57 244.83L30.88 247.54L60.7 232.72ZM60.69 232.7L30.87 247.52L32.24 250.21L61.78 234.83ZM61.77 234.81L32.23 250.18L33.64 252.84L62.89 236.93ZM62.88 236.91L33.63 252.82L35.1 255.46L64.05 239ZM64.03 238.98L35.08 255.43L36.6 258.04L65.24 241.05ZM65.23 241.03L36.58 258.02L38.15 260.6L66.47 243.08ZM66.45 243.06L38.13 260.57L39.74 263.12L67.73 245.09ZM67.72 245.07L39.72 263.1L41.38 265.62L69.04 247.07ZM62.11 251.69L41.37 265.6L43.07 268.09L63.55 253.79ZM45.78 266.16L43.05 268.06L44.8 270.52L47.5 268.57ZM63.65 256.81L44.79 270.5L46.58 272.92L65.19 258.88ZM63.84 259.87L53.21 267.89L54.96 270.16L65.44 261.94ZM64.11 262.95L61.49 265L63.18 267.12L65.76 265.01ZM63.68 266.67L63.16 267.09L64.89 269.18L65.4 268.75ZM66.15 268.08L64.87 269.16L66.64 271.21L67.89 270.11ZM64.72 276.55L61.03 279.91L62.99 282.03L66.62 278.6ZM70.23 275.15L66.6 278.58L68.55 280.6L72.11 277.1ZM72.09 277.08L68.53 280.58L70.51 282.56L74.01 279ZM73.99 278.98L72.12 280.88L74.11 282.79L75.94 280.86ZM75.92 280.84L74.09 282.77L76.11 284.65L77.9 282.68ZM78.33 282.17L76.76 283.89L78.8 285.72L80.34 283.97ZM77.68 286.95L68.89 296.96L71.17 298.93L79.78 288.76ZM81.91 286.2L80.19 288.24L82.31 290L83.99 287.93ZM83.97 287.92L81.87 290.5L84.03 292.23L86.08 289.61ZM86.06 289.59L84.01 292.21L86.2 293.9L88.21 291.24ZM87.18 292.55L86.18 293.88L88.4 295.53L89.38 294.18ZM86.42 298.21L80.55 306.29L83.01 308.04L88.73 299.85ZM88.71 299.84L82.98 308.03L85.47 309.73L91.04 301.44ZM128 305.42L122.85 319.49L125.54 320.45L130.43 306.28ZM133.67 296.83L126.39 317.92L129.05 318.82L135.94 297.59ZM135.92 297.59L129.75 316.59L132.39 317.42L138.2 298.3ZM138.18 298.3L133.33 314.23L135.93 314.99L140.48 298.97ZM140.46 298.97L136.36 313.38L138.94 314.09L142.77 299.6ZM142.74 299.59L138.49 315.69L141.11 316.36L145.07 300.19ZM141.88 313.12L140.3 319.59L142.99 320.22L144.45 313.72ZM149.67 301.22L145.98 319.16L148.67 319.69L152.02 301.68ZM152 301.68L149.56 314.77L152.16 315.23L154.36 302.09ZM154.34 302.09L150.93 322.45L153.68 322.89L156.7 302.46ZM156.68 302.46L154.33 318.27L157 318.64L159.05 302.79ZM159.03 302.79L155.78 327.89L158.63 328.23L161.41 303.07ZM161.39 303.07L159.37 321.27L162.09 321.55L163.77 303.31ZM163.75 303.31L162.68 314.92L165.28 315.13L166.13 303.51ZM166.11 303.51L165.87 306.83L168.32 306.98L168.5 303.66ZM168.48 303.66L168.11 310.31L170.63 310.42L170.87 303.77ZM170.85 303.77L170.73 307.09L173.18 307.16L173.24 303.83ZM173.22 303.83L173.16 307.16L175.62 307.18L175.61 303.85ZM175.59 303.85L175.6 323.16L178.36 323.14L177.99 303.83ZM177.96 303.83L178.11 311.48L180.65 311.41L180.36 303.76ZM185.82 313.45L186.44 321.76L189.17 321.53L188.39 313.24ZM188.52 314.9L189.2 322.19L191.94 321.91L191.12 314.63ZM216.08 300.06L217.63 304.81L220.04 304L218.4 299.28ZM234.58 293.91L241.28 307.31L243.73 306.06L236.78 292.78ZM234.91 289.25L238 295.15L240.22 293.97L237.02 288.12ZM241.12 285.78L242.49 288.07L244.58 286.8L243.17 284.54ZM280.91 275L283.82 277.74L285.7 275.7L282.75 273.01ZM282.8 262.74L285.38 264.84L287.03 262.77L284.4 260.72ZM293.75 251.57L295.15 252.47L296.56 250.22L295.14 249.35ZM289.32 234.65L291.68 235.88L292.79 233.7L290.4 232.51ZM299.52 208.13L302.09 208.81L302.69 206.44L300.1 205.81Z"/>
<path fill="#90EE90" d="M52.93 138.06L49.11 136.89L48.41 139.26L52.25 140.36ZM39.56 133.96L36.38 132.99L35.61 135.59L38.81 136.51ZM51.63 142.62L48.41 141.77L47.8 144.15L51.03 144.94ZM48.11 161.26L32.23 159.46L31.95 162.14L47.86 163.64ZM47.87 163.62L41.24 162.99L41.02 165.5L47.66 166ZM47.39 170.72L46.4 170.68L46.33 173.09L47.33 173.11ZM48.07 189.67L28.21 191.85L28.54 194.6L48.35 192.05ZM49.45 199.05L40.29 200.75L40.78 203.28L49.91 201.4ZM49.91 201.38L36.86 204.05L37.41 206.64L50.41 203.72ZM50.95 206.01L42.21 208.14L42.84 210.63L51.54 208.33ZM54.29 217.39L49.56 219.02L50.39 221.36L55.09 219.65ZM58.66 228.41L55.02 230.06L56.06 232.3L59.67 230.59ZM69.02 247.05L62.11 251.69L63.55 253.79L70.38 249.03ZM70.36 249.01L45.78 266.16L47.5 268.57L71.75 250.96ZM71.74 250.94L63.65 256.81L65.19 258.88L73.16 252.87ZM73.15 252.85L63.84 259.87L65.44 261.94L74.61 254.75ZM74.6 254.73L64.11 262.95L65.76 265.01L76.09 256.6ZM76.08 256.58L65.75 264.99L67.44 267.03L77.61 258.43ZM77.59 258.41L66.15 268.08L67.89 270.11L79.15 260.22ZM79.14 260.21L65.37 272.29L67.2 274.33L80.74 261.99ZM80.72 261.98L64.72 276.55L66.62 278.6L82.35 263.73ZM82.33 263.71L70.23 275.15L72.11 277.1L84 265.44ZM83.98 265.42L72.09 277.08L74.01 279L85.67 267.12ZM85.66 267.1L73.99 278.98L75.94 280.86L87.38 268.76ZM87.36 268.75L75.92 280.84L77.9 282.68L89.12 270.38ZM89.1 270.36L78.33 282.17L80.34 283.97L90.89 271.96ZM90.87 271.95L77.68 286.95L79.78 288.76L92.68 273.51ZM92.67 273.5L81.91 286.2L83.99 287.93L94.51 275.03ZM94.49 275.01L83.97 287.92L86.08 289.61L96.36 276.51ZM96.34 276.49L86.06 289.59L88.21 291.24L98.24 277.96ZM98.22 277.94L87.18 292.55L89.38 294.18L100.15 279.37ZM100.13 279.35L86.42 298.21L88.73 299.85L102.08 280.74ZM102.06 280.73L88.71 299.84L91.04 301.44L104.04 282.08ZM104.02 282.07L85.45 309.71L87.97 311.37L106.02 283.39ZM106 283.38L87.95 311.36L90.5 312.97L108.02 284.66ZM108 284.64L90.47 312.95L93.05 314.52L110.05 285.89ZM110.03 285.87L93.03 314.5L95.64 316.02L112.1 287.08ZM112.08 287.07L95.61 316.01L98.25 317.48L114.18 288.23ZM114.16 288.22L98.22 317.46L100.89 318.88L116.27 289.35ZM116.25 289.34L100.86 318.87L103.55 320.24L118.39 290.42ZM118.36 290.41L103.52 320.22L106.24 321.54L120.52 291.46ZM120.5 291.45L106.21 321.53L108.95 322.8L122.67 292.46ZM122.65 292.45L108.92 322.79L111.68 324.01L124.84 293.42ZM124.82 293.41L111.66 323.99L114.44 325.16L127.03 294.33ZM127.01 294.32L114.41 325.15L117.22 326.27L129.23 295.21ZM129.21 295.2L117.19 326.26L120.01 327.32L131.45 296.05ZM185.07 303.49L185.82 313.45L188.39 313.24L187.46 303.29ZM187.44 303.29L188.52 314.9L191.12 314.63L189.82 303.05ZM189.8 303.05L190.17 306.36L192.61 306.06L192.17 302.76ZM192.37 304.41L192.8 307.72L195.26 307.37L194.77 304.08ZM194.5 302.43L195.49 309.02L197.98 308.62L196.87 302.06ZM196.84 302.06L200.17 321.76L202.9 321.28L199.2 301.64ZM199.18 301.64L204.41 329.46L207.28 328.9L201.53 301.18ZM201.51 301.18L205.22 319.12L207.9 318.54L203.85 300.68ZM203.82 300.68L210.45 329.91L213.32 329.23L206.16 300.13ZM206.13 300.14L208.52 309.84L211.02 309.2L208.45 299.54ZM208.43 299.55L211 309.2L213.49 308.52L210.74 298.91ZM210.72 298.92L218.49 326.13L221.3 325.3L213.02 298.24ZM213.97 301.43L216.89 310.98L219.41 310.19L216.31 300.69ZM217.5 296.77L218.05 298.35L220.34 297.53L219.76 295.97ZM219.74 295.98L221.12 299.73L223.43 298.85L221.98 295.13ZM228.52 292.37L231.96 299.95L234.27 298.88L230.69 291.36ZM232.8 290.33L234.58 293.91L236.78 292.78L234.93 289.24ZM237 288.13L245.79 304.2L248.18 302.87L239.09 286.96ZM252.92 277.83L254.93 280.49L256.88 278.98L254.82 276.37ZM256.65 274.9L258.76 277.47L260.65 275.9L258.49 273.36ZM300.63 203.52L308.76 205.33L309.29 202.84L301.13 201.18Z"/>
<path d="M303.39 174.02L337.29 173.59M303.34 171.65L337.22 170.59M303.24 169.29L337.1 167.6M303.1 166.93L336.92 164.61M302.92 164.57L336.69 161.63M302.69 162.21L336.4 158.65M302.42 159.86L336.06 155.67M302.11 157.51L335.66 152.71M301.75 155.17L335.21 149.75M301.35 152.84L334.71 146.8M300.91 150.52L334.15 143.85M300.42 148.2L333.53 140.92M299.89 145.89L332.86 138.01M299.32 143.6L332.14 135.1M298.7 141.31L331.36 132.21M298.05 139.04L330.53 129.33M297.35 136.77L329.64 126.47M296.61 134.53L328.71 123.63M295.83 132.29L327.72 120.8M295 130.07L326.68 117.99M294.14 127.87L325.59 115.21M293.24 125.68L324.44 112.44M292.29 123.51L323.25 109.69M291.31 121.36L322 106.97M290.28 119.23L320.7 104.27M289.22 117.11L319.36 101.6M288.12 115.02L317.96 98.95M286.97 112.94L316.52 96.32M285.79 110.89L315.03 93.73M284.58 108.86L313.49 91.16M283.32 106.86L311.9 88.62M282.03 104.87L310.27 86.11M280.7 102.91L308.59 83.63M279.34 100.98L306.86 81.19M277.94 99.07L305.09 78.77M276.51 97.19L303.28 76.39M275.04 95.33L301.42 74.04M273.53 93.5L299.52 71.73M272 91.7L297.57 69.45M270.43 89.93L295.59 67.21M268.82 88.19L293.56 65.01M267.19 86.48L291.49 62.84M265.52 84.8L289.38 60.72M263.83 83.15L287.24 58.63M262.1 81.53L285.05 56.58M260.34 79.94L282.83 54.57M258.56 78.39L280.57 52.61M256.74 76.87L278.28 50.69M254.9 75.38L275.95 48.81M253.03 73.93L273.58 46.97M251.14 72.51L271.19 45.18M249.22 71.13L268.75 43.43M247.27 69.78L266.29 41.72M245.3 68.47L263.8 40.07M243.3 67.2L261.27 38.46M241.28 65.96L258.72 36.89M239.24 64.77L256.14 35.38M237.18 63.61L253.53 33.91M235.1 62.48L250.89 32.49M232.99 61.4L248.23 31.12M230.87 60.36L245.54 29.8M228.73 59.35L242.83 28.53M226.56 58.39L240.1 27.3M224.39 57.46L237.34 26.14M222.19 56.58L234.57 25.02M219.98 55.73L231.77 23.95M217.75 54.93L228.95 22.93M215.51 54.17L226.12 21.97M213.26 53.45L223.26 21.06M210.99 52.77L220.39 20.2M208.71 52.14L217.51 19.4M206.42 51.54L214.61 18.65M204.12 50.99L211.7 17.95M201.8 50.48L208.78 17.31M199.48 50.02L205.84 16.72M197.15 49.6L202.89 16.19M194.82 49.22L199.94 15.71M192.48 48.88L196.97 15.28M190.13 48.59L194 14.91M187.77 48.34L191.03 14.6M185.41 48.13L188.04 14.34M183.05 47.97L185.06 14.13M180.69 47.86L182.06 13.98M178.32 47.78L179.07 13.89M175.96 47.75L176.08 13.85M173.59 47.76L173.08 13.87M171.22 47.82L170.09 13.94M168.86 47.92L167.1 14.07M166.5 48.07L164.11 14.25M164.14 48.26L161.13 14.49M161.78 48.49L158.15 14.78M159.43 48.76L155.17 15.13M157.09 49.08L152.21 15.54M154.75 49.44L149.25 15.99M152.42 49.85L146.3 16.51M150.09 50.3L143.36 17.07M147.78 50.79L140.43 17.7M145.47 51.33L137.51 18.37M143.18 51.9L134.61 19.1M140.89 52.52L131.72 19.89M138.62 53.18L128.84 20.72M136.36 53.89L125.98 21.61M134.11 54.63L123.14 22.56M131.88 55.42L120.32 23.55M129.66 56.25L117.51 24.6M127.46 57.11L114.73 25.7M125.28 58.02L111.96 26.85M123.11 58.97L109.22 28.05M120.96 59.96L106.5 29.3M118.83 60.99L103.8 30.6M116.71 62.06L101.13 31.95M114.62 63.17L98.49 33.35M112.55 64.31L95.87 34.8M110.5 65.5L93.27 36.3M108.47 66.72L90.71 37.85M106.47 67.98L88.17 39.44M104.49 69.27L85.67 41.08M102.53 70.61L83.19 42.76M100.6 71.97L80.75 44.49M98.7 73.38L78.34 46.27M96.82 74.82L75.96 48.09M94.96 76.29L73.62 49.95M93.14 77.8L71.31 51.86M91.34 79.34L69.04 53.81M89.58 80.91L66.8 55.8M87.84 82.52L64.6 57.83M86.13 84.16L62.44 59.91M84.45 85.83L60.32 62.02M82.8 87.53L58.23 64.17M81.19 89.26L56.19 66.36M79.61 91.02L54.19 68.58M78.06 92.81L52.23 70.85M76.54 94.62L50.31 73.15M75.06 96.47L48.44 75.48M73.61 98.34L46.6 77.85M72.2 100.24L44.82 80.25M70.82 102.16L43.07 82.69M69.48 104.11L41.38 85.15M68.17 106.09L39.72 87.65M66.9 108.08L38.12 90.18M65.67 110.11L36.56 92.73M64.48 112.15L35.05 95.32M63.32 114.21L33.59 97.93M62.2 116.3L32.17 100.57M61.12 118.41L30.81 103.24M60.08 120.53L29.49 105.93M59.08 122.68L28.23 108.64M58.12 124.84L27.01 111.38M57.2 127.02L25.85 114.13M56.32 129.22L24.74 116.91M55.49 131.43L23.68 119.71M54.69 133.66L22.67 122.53M53.93 135.9L21.71 125.37M53.22 138.16L20.81 128.22M52.54 140.43L19.96 131.1M51.91 142.71L19.16 133.98M51.33 145L18.41 136.88M50.78 147.31L17.72 139.8M50.28 149.62L17.09 142.72M49.82 151.94L16.5 145.66M49.4 154.27L15.98 148.61M49.03 156.61L15.5 151.56M48.69 158.95L15.08 154.53M48.41 161.3L14.72 157.5M48.16 163.66L14.41 160.48M47.96 166.01L14.16 163.46M47.81 168.38L13.96 166.45M47.69 170.74L13.82 169.44M47.63 173.11L13.73 172.43M47.6 175.47L13.7 175.43M47.62 177.84L13.72 178.42M47.68 180.21L13.8 181.41M47.79 182.57L13.94 184.4M47.94 184.93L14.13 187.39M48.13 187.29L14.37 190.38M48.37 189.65L14.67 193.36M48.65 192L15.03 196.33M48.97 194.34L15.44 199.29M49.34 196.68L15.9 202.25M49.75 199.01L16.42 205.2M50.21 201.33L17 208.14M50.7 203.65L17.62 211.07M51.24 205.95L18.31 213.98M51.82 208.25L19.04 216.88M52.45 210.53L19.83 219.77M53.11 212.8L20.68 222.65M53.82 215.06L21.57 225.5M54.57 217.3L22.52 228.34M55.36 219.53L23.52 231.16M56.2 221.75L24.58 233.97M57.07 223.95L25.68 236.75M57.98 226.13L26.84 239.51M58.94 228.3L28.04 242.25M59.93 230.45L29.3 244.97M60.97 232.57L30.61 247.66M62.04 234.68L31.97 250.33M63.15 236.77L33.37 252.98M64.3 238.84L34.83 255.59M65.49 240.89L36.33 258.18M66.72 242.91L37.88 260.74M67.98 244.92L39.48 263.27M69.28 246.89L41.13 265.78M70.62 248.85L42.82 268.25M71.99 250.77L44.55 270.69M73.4 252.68L46.33 273.09M74.84 254.55L48.16 275.47M76.32 256.4L50.03 277.81M77.83 258.22L51.94 280.11M79.37 260.02L53.89 282.38M80.95 261.78L55.89 284.61M82.56 263.52L57.93 286.81M84.2 265.22L60 288.96M85.88 266.9L62.12 291.08M87.58 268.54L64.28 293.16M89.31 270.15L66.47 295.2M91.08 271.73L68.7 297.19M92.87 273.27L70.97 299.15M94.69 274.79L73.27 301.06M96.54 276.26L75.61 302.93M98.41 277.71L77.98 304.76M100.31 279.12L80.39 306.54M102.24 280.49L82.83 308.28M104.19 281.83L85.3 309.97M106.17 283.13L87.8 311.62M108.17 284.39L90.33 313.22M110.2 285.62L92.89 314.77M112.24 286.81L95.48 316.28M114.31 287.96L98.09 317.73M116.4 289.08L100.73 319.14M118.51 290.15L103.4 320.5M120.64 291.19L106.1 321.81M122.78 292.18L108.81 323.07M124.95 293.14L111.55 324.28M127.13 294.05L114.31 325.43M129.33 294.93L117.09 326.54M131.55 295.76L119.9 327.6M133.78 296.55L122.72 328.6M136.02 297.3L125.56 329.55M138.28 298.01L128.41 330.45M140.55 298.68L131.29 331.29M142.83 299.31L134.17 332.08M145.13 299.89L137.08 332.82M147.43 300.43L139.99 333.51M149.74 300.93L142.92 334.14M152.07 301.39L145.86 334.71M154.4 301.8L148.8 335.23M156.74 302.17L151.76 335.7M159.08 302.49L154.73 336.11M161.43 302.77L157.7 336.47M163.78 303.01L160.68 336.77M166.14 303.21L163.66 337.02M168.51 303.36L166.65 337.21M170.87 303.47L169.64 337.34M173.24 303.53L172.64 337.42M175.6 303.55L175.63 337.45M177.97 303.53L178.62 337.42M180.34 303.46L181.62 337.33M182.7 303.35L184.61 337.19M185.06 303.19L187.6 337M187.42 302.99L190.58 336.75M189.77 302.75L193.56 336.44M192.12 302.47L196.53 336.08M194.47 302.14L199.49 335.66M196.8 301.76L202.45 335.19M199.13 301.35L205.4 334.66M201.46 300.89L208.34 334.08M203.77 300.39L211.26 333.45M206.07 299.84L214.18 332.76M208.37 299.26L217.08 332.02M210.65 298.63L219.96 331.22M212.92 297.95L222.83 330.37M215.17 297.24L225.69 329.47M217.42 296.49L228.53 328.51M219.65 295.69L231.35 327.51M221.86 294.85L234.15 326.45M224.06 293.97L236.93 325.34M226.24 293.06L239.69 324.17M228.4 292.1L242.42 322.96M230.55 291.1L245.14 321.7M232.68 290.06L247.83 320.38M234.78 288.98L250.5 319.02M236.87 287.86L253.14 317.61M238.94 286.71L255.75 316.15M240.98 285.52L258.34 314.64M243 284.29L260.89 313.08M245 283.02L263.42 311.48M246.98 281.71L265.92 309.83M248.93 280.37L268.39 308.13M250.85 279L270.82 306.39M252.75 277.58L273.23 304.6M254.62 276.14L275.6 302.77M256.47 274.66L277.93 300.9M258.29 273.14L280.23 298.98M260.08 271.59L282.5 297.02M261.84 270.01L284.72 295.02M263.57 268.4L286.91 292.98M265.27 266.75L289.07 290.9M266.94 265.08L291.18 288.78M268.58 263.37L293.25 286.62M270.19 261.63L295.29 284.42M271.76 259.86L297.28 282.18M273.3 258.07L299.23 279.91M274.81 256.24L301.14 277.61M276.29 254.39L303 275.26M277.73 252.51L304.82 272.89M279.13 250.61L306.6 270.48M280.5 248.68L308.33 268.03M281.83 246.72L310.02 265.56M283.13 244.74L311.66 263.06M284.39 242.74L313.25 260.52M285.61 240.71L314.8 257.96M286.8 238.66L316.3 255.37M287.95 236.59L317.75 252.75M289.06 234.5L319.15 250.1M290.12 232.39L320.51 247.43M291.16 230.26L321.81 244.73M292.15 228.11L323.06 242.02M293.1 225.94L324.27 239.27M294.01 223.76L325.42 236.51M294.88 221.56L326.52 233.73M295.71 219.34L327.57 230.92M296.49 217.11L328.56 228.1M297.24 214.86L329.51 225.26M297.95 212.6L330.4 222.4M298.61 210.33L331.24 219.52M299.23 208.05L332.02 216.63M299.81 205.75L332.75 213.73M300.34 203.45L333.43 210.81M300.84 201.13L334.06 207.89M301.29 198.81L334.63 204.95M301.69 196.48L335.14 202M302.06 194.14L335.6 199.04M302.38 191.79L336.01 196.07M302.65 189.44L336.36 193.1M302.89 187.09L336.65 190.12M303.08 184.73L336.89 187.13" stroke="#fff" stroke-width="1" opacity="0.5" fill="none"/>
<path fill="#B3B3B3" d="M343.49 173.51L345.74 173.48L345.67 170.33L343.42 170.4ZM343.42 170.4L345.67 170.33L345.54 167.18L343.29 167.29ZM342.21 154.91L344.45 154.63L344.03 151.51L341.8 151.83ZM341.8 151.83L344.03 151.51L343.55 148.39L341.33 148.75ZM341.33 148.75L343.55 148.39L343.02 145.29L340.81 145.69ZM340.81 145.69L343.02 145.29L342.43 142.19L340.22 142.64ZM340.22 142.64L342.43 142.19L341.78 139.11L339.59 139.59ZM339.59 139.59L341.78 139.11L341.08 136.04L338.89 136.56ZM338.89 136.56L341.08 136.04L340.32 132.98L338.14 133.55ZM338.14 133.55L340.32 132.98L339.5 129.94L337.33 130.54ZM310.06 75.06L311.86 73.71L309.95 71.21L308.17 72.59ZM308.17 72.59L309.95 71.21L307.99 68.74L306.24 70.15ZM306.24 70.15L307.99 68.74L305.99 66.3L304.27 67.75ZM300.19 63.06L301.86 61.55L299.72 59.23L298.08 60.77ZM298.08 60.77L299.72 59.23L297.55 56.95L295.94 58.52ZM295.94 58.52L297.55 56.95L295.33 54.71L293.75 56.31ZM293.75 56.31L295.33 54.71L293.07 52.52L291.52 54.14ZM291.52 54.14L293.07 52.52L290.77 50.36L289.25 52.02ZM289.25 52.02L290.77 50.36L288.44 48.25L286.94 49.94ZM286.94 49.94L288.44 48.25L286.06 46.18L284.6 47.89ZM284.6 47.89L286.06 46.18L283.65 44.16L282.22 45.9ZM282.22 45.9L283.65 44.16L281.19 42.18L279.8 43.94ZM279.8 43.94L281.19 42.18L278.71 40.25L277.34 42.04ZM277.34 42.04L278.71 40.25L276.18 38.36L274.85 40.18ZM274.85 40.18L276.18 38.36L273.62 36.52L272.33 38.36ZM272.33 38.36L273.62 36.52L271.03 34.73L269.77 36.59ZM269.77 36.59L271.03 34.73L268.41 32.99L267.18 34.87ZM253.78 27L254.83 25.01L252.03 23.57L251.02 25.58ZM236.83 19.24L237.65 17.15L234.71 16.03L233.92 18.14ZM233.92 18.14L234.71 16.03L231.74 14.96L231 17.08ZM203.94 10.08L204.32 7.86L201.21 7.35L200.87 9.58ZM200.87 9.58L201.21 7.35L198.1 6.91L197.8 9.14ZM197.8 9.14L198.1 6.91L194.97 6.52L194.71 8.75ZM194.71 8.75L194.97 6.52L191.84 6.19L191.62 8.43ZM191.62 8.43L191.84 6.19L188.7 5.91L188.52 8.16ZM188.52 8.16L188.7 5.91L185.55 5.7L185.42 7.94ZM185.42 7.94L185.55 5.7L182.41 5.54L182.32 7.79ZM182.32 7.79L182.41 5.54L179.26 5.44L179.21 7.69ZM179.21 7.69L179.26 5.44L176.11 5.4L176.1 7.65ZM176.1 7.65L176.11 5.4L172.96 5.42L172.99 7.67ZM172.99 7.67L172.96 5.42L169.81 5.5L169.88 7.74ZM169.88 7.74L169.81 5.5L166.66 5.63L166.78 7.88ZM160.58 8.31L160.38 6.07L157.24 6.38L157.48 8.62ZM145.18 10.41L144.77 8.2L141.68 8.79L142.13 11ZM142.13 11L141.68 8.79L138.6 9.45L139.08 11.64ZM139.08 11.64L138.6 9.45L135.53 10.16L136.06 12.35ZM136.06 12.35L135.53 10.16L132.47 10.93L133.04 13.1ZM133.04 13.1L132.47 10.93L129.43 11.75L130.04 13.92ZM130.04 13.92L129.43 11.75L126.41 12.63L127.05 14.79ZM101.06 25.04L100.06 23.03L97.25 24.45L98.28 26.45ZM95.54 27.9L94.46 25.92L91.71 27.45L92.81 29.41ZM92.81 29.41L91.71 27.45L88.98 29.02L90.12 30.96ZM90.12 30.96L88.98 29.02L86.28 30.65L87.46 32.57ZM87.46 32.57L86.28 30.65L83.61 32.33L84.83 34.22ZM84.83 34.22L83.61 32.33L80.98 34.05L82.23 35.92ZM82.23 35.92L80.98 34.05L78.37 35.82L79.66 37.67ZM79.66 37.67L78.37 35.82L75.8 37.65L77.12 39.47ZM77.12 39.47L75.8 37.65L73.26 39.51L74.62 41.31ZM72.15 43.2L70.76 41.43L68.3 43.39L69.71 45.14ZM69.71 45.14L68.3 43.39L65.87 45.4L67.32 47.12ZM67.32 47.12L65.87 45.4L63.48 47.45L64.96 49.14ZM64.96 49.14L63.48 47.45L61.12 49.54L62.64 51.21ZM62.64 51.21L61.12 49.54L58.81 51.68L60.35 53.32ZM60.35 53.32L58.81 51.68L56.54 53.86L58.11 55.47ZM36.24 81.68L34.37 80.43L32.63 83.05L34.52 84.28ZM34.52 84.28L32.63 83.05L30.94 85.71L32.85 86.9ZM25.26 100.46L23.25 99.45L21.87 102.28L23.9 103.25ZM18.96 114.66L16.86 113.85L15.75 116.79L17.86 117.57ZM17.86 117.57L15.75 116.79L14.69 119.76L16.81 120.5ZM16.81 120.5L14.69 119.76L13.68 122.74L15.82 123.44ZM15.82 123.44L13.68 122.74L12.73 125.75L14.88 126.41ZM14.88 126.41L12.73 125.75L11.83 128.77L14 129.39ZM14 129.39L11.83 128.77L10.99 131.81L13.17 132.38ZM13.17 132.38L10.99 131.81L10.21 134.86L12.39 135.4ZM12.39 135.4L10.21 134.86L9.48 137.92L11.68 138.42ZM11.68 138.42L9.48 137.92L8.81 141L11.02 141.46ZM11.02 141.46L8.81 141L8.2 144.09L10.41 144.51ZM9.37 150.64L7.15 150.3L6.71 153.42L8.94 153.72ZM8.94 153.72L6.71 153.42L6.32 156.55L8.56 156.8ZM8.56 156.8L6.32 156.55L6 159.68L8.24 159.9ZM8.24 159.9L6 159.68L5.73 162.82L7.98 162.99ZM8.51 194.03L6.27 194.28L6.65 197.41L8.88 197.12ZM8.88 197.12L6.65 197.41L7.08 200.53L9.3 200.2ZM9.3 200.2L7.08 200.53L7.57 203.64L9.79 203.27ZM9.79 203.27L7.57 203.64L8.11 206.74L10.33 206.33ZM10.33 206.33L8.11 206.74L8.72 209.84L10.92 209.38ZM10.92 209.38L8.72 209.84L9.38 212.92L11.57 212.42ZM11.57 212.42L9.38 212.92L10.1 215.98L12.28 215.45ZM12.28 215.45L10.1 215.98L10.87 219.04L13.05 218.47ZM13.05 218.47L10.87 219.04L11.7 222.08L13.87 221.46ZM13.87 221.46L11.7 222.08L12.59 225.1L14.74 224.45ZM14.74 224.45L12.59 225.1L13.53 228.11L15.67 227.41ZM15.67 227.41L13.53 228.11L14.53 231.09L16.66 230.36ZM39.53 274.33L37.71 275.65L39.59 278.18L41.38 276.83ZM41.38 276.83L39.59 278.18L41.51 280.68L43.28 279.29ZM43.28 279.29L41.51 280.68L43.47 283.14L45.22 281.72ZM45.22 281.72L43.47 283.14L45.49 285.57L47.2 284.11ZM47.2 284.11L45.49 285.57L47.54 287.95L49.23 286.47ZM49.23 286.47L47.54 287.95L49.64 290.3L51.31 288.79ZM53.42 291.07L51.79 292.61L53.97 294.88L55.58 293.3ZM55.58 293.3L53.97 294.88L56.2 297.11L57.78 295.5ZM57.78 295.5L56.2 297.11L58.47 299.3L60.01 297.66ZM60.01 297.66L58.47 299.3L60.77 301.44L62.29 299.78ZM62.29 299.78L60.77 301.44L63.12 303.54L64.61 301.85ZM64.61 301.85L63.12 303.54L65.51 305.6L66.96 303.88ZM66.96 303.88L65.51 305.6L67.93 307.61L69.35 305.87ZM69.35 305.87L67.93 307.61L70.39 309.58L71.78 307.81ZM71.78 307.81L70.39 309.58L72.89 311.5L74.24 309.71ZM74.24 309.71L72.89 311.5L75.42 313.38L76.74 311.56ZM76.74 311.56L75.42 313.38L77.99 315.21L79.27 313.36ZM79.27 313.36L77.99 315.21L80.58 316.99L81.84 315.12ZM117.77 333.42L116.99 335.53L119.96 336.59L120.7 334.46ZM120.7 334.46L119.96 336.59L122.95 337.59L123.64 335.45ZM123.64 335.45L122.95 337.59L125.95 338.53L126.61 336.38ZM126.61 336.38L125.95 338.53L128.98 339.42L129.59 337.26ZM129.59 337.26L128.98 339.42L132.02 340.25L132.59 338.08ZM132.59 338.08L132.02 340.25L135.07 341.03L135.6 338.84ZM135.6 338.84L135.07 341.03L138.14 341.75L138.63 339.55ZM138.63 339.55L138.14 341.75L141.22 342.41L141.67 340.21ZM141.67 340.21L141.22 342.41L144.31 343.02L144.72 340.81ZM144.72 340.81L144.31 343.02L147.41 343.57L147.78 341.35ZM147.78 341.35L147.41 343.57L150.52 344.06L150.85 341.83ZM150.85 341.83L150.52 344.06L153.64 344.49L153.93 342.26ZM153.93 342.26L153.64 344.49L156.77 344.87L157.02 342.63ZM166.31 343.4L166.19 345.65L169.34 345.79L169.42 343.54ZM172.53 343.62L172.49 345.87L175.64 345.9L175.63 343.65ZM184.96 343.38L185.08 345.63L188.23 345.42L188.06 343.18ZM188.06 343.18L188.23 345.42L191.37 345.16L191.16 342.92ZM191.16 342.92L191.37 345.16L194.5 344.84L194.25 342.6ZM197.34 342.22L197.63 344.46L200.75 344.02L200.41 341.79ZM200.41 341.79L200.75 344.02L203.86 343.52L203.48 341.3ZM203.48 341.3L203.86 343.52L206.96 342.97L206.54 340.76ZM209.59 340.15L210.05 342.36L213.13 341.69L212.63 339.49ZM215.66 338.78L216.2 340.96L219.25 340.18L218.67 338.01ZM218.67 338.01L219.25 340.18L222.29 339.35L221.67 337.18ZM224.65 336.3L225.31 338.45L228.31 337.5L227.61 335.36ZM227.61 335.36L228.31 337.5L231.3 336.5L230.56 334.37ZM244.99 328.61L245.92 330.65L248.78 329.32L247.81 327.29ZM250.6 325.93L251.61 327.94L254.41 326.51L253.37 324.51ZM253.37 324.51L254.41 326.51L257.19 325.02L256.11 323.05ZM256.11 323.05L257.19 325.02L259.94 323.48L258.82 321.53ZM271.95 313.21L273.24 315.05L275.8 313.22L274.48 311.4ZM274.48 311.4L275.8 313.22L278.33 311.34L276.97 309.54ZM276.97 309.54L278.33 311.34L280.82 309.41L279.43 307.64ZM279.43 307.64L280.82 309.41L283.28 307.44L281.86 305.7ZM281.86 305.7L283.28 307.44L285.7 305.42L284.24 303.71ZM288.91 299.6L290.43 301.26L292.73 299.11L291.18 297.48ZM291.18 297.48L292.73 299.11L295 296.92L293.42 295.31ZM293.42 295.31L295 296.92L297.22 294.69L295.61 293.11ZM295.61 293.11L297.22 294.69L299.4 292.41L297.76 290.87ZM297.76 290.87L299.4 292.41L301.54 290.1L299.88 288.59ZM299.88 288.59L301.54 290.1L303.64 287.75L301.94 286.27ZM301.94 286.27L303.64 287.75L305.69 285.36L303.97 283.91ZM303.97 283.91L305.69 285.36L307.7 282.93L305.95 281.51ZM305.95 281.51L307.7 282.93L309.66 280.46L307.89 279.08ZM316.88 266.41L318.77 267.62L320.45 264.95L318.53 263.77ZM318.53 263.77L320.45 264.95L322.08 262.26L320.14 261.11ZM320.14 261.11L322.08 262.26L323.65 259.53L321.7 258.42ZM321.7 258.42L323.65 259.53L325.18 256.77L323.2 255.7ZM339.48 212.16L341.68 212.65L342.34 209.57L340.13 209.12Z"/>
<path fill="#FDBF6F" d="M343.29 167.29L345.54 167.18L345.35 164.04L343.11 164.19ZM343.11 164.19L345.35 164.04L345.11 160.9L342.87 161.09ZM342.87 161.09L345.11 160.9L344.81 157.76L342.57 158ZM342.57 158L344.81 157.76L344.45 154.63L342.21 154.91Z"/>
<path fill="#FFD700" d="M337.33 130.54L339.5 129.94L338.62 126.91L336.47 127.56ZM336.47 127.56L338.62 126.91L337.7 123.9L335.55 124.59ZM335.55 124.59L337.7 123.9L336.71 120.91L334.58 121.63ZM334.58 121.63L336.71 120.91L335.67 117.94L333.55 118.7ZM333.55 118.7L335.67 117.94L334.57 114.98L332.47 115.78ZM332.47 115.78L334.57 114.98L333.42 112.05L331.34 112.89ZM331.34 112.89L333.42 112.05L332.22 109.14L330.15 110.02ZM330.15 110.02L332.22 109.14L330.96 106.25L328.91 107.17ZM328.91 107.17L330.96 106.25L329.65 103.38L327.61 104.34ZM327.61 104.34L329.65 103.38L328.29 100.54L326.27 101.54ZM326.27 101.54L328.29 100.54L326.87 97.73L324.87 98.76ZM324.87 98.76L326.87 97.73L325.4 94.94L323.42 96.01ZM323.42 96.01L325.4 94.94L323.89 92.18L321.92 93.28ZM321.92 93.28L323.89 92.18L322.32 89.45L320.37 90.59ZM320.37 90.59L322.32 89.45L320.69 86.75L318.78 87.92ZM318.78 87.92L320.69 86.75L319.02 84.08L317.13 85.29ZM317.13 85.29L319.02 84.08L317.31 81.44L315.43 82.68ZM315.43 82.68L317.31 81.44L315.54 78.83L313.69 80.11ZM313.69 80.11L315.54 78.83L313.72 76.25L311.9 77.57Z"/>
<path fill="#008B00" d="M311.9 77.57L313.72 76.25L311.86 73.71L310.06 75.06ZM304.27 67.75L305.99 66.3L303.95 63.91L302.25 65.38ZM302.25 65.38L303.95 63.91L301.86 61.55L300.19 63.06ZM231 17.08L231.74 14.96L228.76 13.94L228.06 16.08ZM228.06 16.08L228.76 13.94L225.76 12.99L225.09 15.14Z"/>
<path fill="#CAB2D6" d="M267.18 34.87L268.41 32.99L265.75 31.29L264.56 33.2ZM264.56 33.2L265.75 31.29L263.07 29.65L261.91 31.58ZM261.91 31.58L263.07 29.65L260.35 28.05L259.23 30ZM259.23 30L260.35 28.05L257.6 26.51L256.52 28.48ZM256.52 28.48L257.6 26.51L254.83 25.01L253.78 27ZM251.02 25.58L252.03 23.57L249.2 22.18L248.23 24.21ZM248.23 24.21L249.2 22.18L246.35 20.84L245.41 22.89ZM245.41 22.89L246.35 20.84L243.47 19.56L242.57 21.62ZM242.57 21.62L243.47 19.56L240.57 18.33L239.71 20.41ZM239.71 20.41L240.57 18.33L237.65 17.15L236.83 19.24Z"/>
<path fill="#FB9A99" d="M225.09 15.14L225.76 12.99L222.74 12.08L222.11 14.25ZM222.11 14.25L222.74 12.08L219.7 11.24L219.12 13.41ZM219.12 13.41L219.7 11.24L216.65 10.45L216.11 12.63ZM216.11 12.63L216.65 10.45L213.59 9.72L213.09 11.91ZM213.09 11.91L213.59 9.72L210.51 9.04L210.05 11.24ZM210.05 11.24L210.51 9.04L207.42 8.42L207 10.63ZM207 10.63L207.42 8.42L204.32 7.86L203.94 10.08Z"/>
<path fill="#1C86EE" d="M166.78 7.88L166.66 5.63L163.52 5.82L163.67 8.07ZM163.67 8.07L163.52 5.82L160.38 6.07L160.58 8.31ZM157.48 8.62L157.24 6.38L154.11 6.75L154.39 8.98ZM154.39 8.98L154.11 6.75L150.99 7.17L151.31 9.4ZM151.31 9.4L150.99 7.17L147.88 7.66L148.24 9.88ZM148.24 9.88L147.88 7.66L144.77 8.2L145.18 10.41ZM127.05 14.79L126.41 12.63L123.4 13.57L124.09 15.71ZM124.09 15.71L123.4 13.57L120.41 14.56L121.14 16.69ZM121.14 16.69L120.41 14.56L117.44 15.61L118.2 17.72ZM118.2 17.72L117.44 15.61L114.48 16.71L115.29 18.81ZM115.29 18.81L114.48 16.71L111.55 17.87L112.4 19.95ZM112.4 19.95L111.55 17.87L108.65 19.08L109.53 21.15ZM109.53 21.15L108.65 19.08L105.76 20.34L106.68 22.39ZM106.68 22.39L105.76 20.34L102.9 21.66L103.86 23.69ZM103.86 23.69L102.9 21.66L100.06 23.03L101.06 25.04Z"/>
<path fill="#000000" d="M98.28 26.45L97.25 24.45L94.46 25.92L95.54 27.9ZM32.85 86.9L30.94 85.71L29.3 88.4L31.24 89.56ZM31.24 89.56L29.3 88.4L27.72 91.12L29.67 92.24ZM29.67 92.24L27.72 91.12L26.18 93.87L28.15 94.95ZM28.15 94.95L26.18 93.87L24.69 96.65L26.68 97.69ZM26.68 97.69L24.69 96.65L23.25 99.45L25.26 100.46ZM23.9 103.25L21.87 102.28L20.54 105.14L22.59 106.07ZM22.59 106.07L20.54 105.14L19.26 108.02L21.32 108.91ZM21.32 108.91L19.26 108.02L18.03 110.92L20.12 111.78ZM20.12 111.78L18.03 110.92L16.86 113.85L18.96 114.66Z"/>
<path fill="#FF7F00" d="M74.62 41.31L73.26 39.51L70.76 41.43L72.15 43.2ZM58.11 55.47L56.54 53.86L54.3 56.08L55.9 57.66ZM55.9 57.66L54.3 56.08L52.11 58.35L53.74 59.9ZM53.74 59.9L52.11 58.35L49.96 60.65L51.62 62.17ZM51.62 62.17L49.96 60.65L47.85 62.99L49.54 64.48ZM49.54 64.48L47.85 62.99L45.79 65.37L47.51 66.83ZM47.51 66.83L45.79 65.37L43.77 67.79L45.51 69.22ZM45.51 69.22L43.77 67.79L41.8 70.25L43.57 71.64ZM43.57 71.64L41.8 70.25L39.87 72.74L41.66 74.1ZM41.66 74.1L39.87 72.74L37.99 75.27L39.81 76.6ZM39.81 76.6L37.99 75.27L36.16 77.83L38 79.12ZM38 79.12L36.16 77.83L34.37 80.43L36.24 81.68Z"/>
<path fill="#E31A1C" d="M10.41 144.51L8.2 144.09L7.65 147.19L9.86 147.57ZM9.86 147.57L7.65 147.19L7.15 150.3L9.37 150.64ZM7.98 162.99L5.73 162.82L5.53 165.97L7.77 166.1ZM7.77 166.1L5.53 165.97L5.38 169.11L7.62 169.2ZM7.62 169.2L5.38 169.11L5.28 172.26L7.53 172.31ZM7.53 172.31L5.28 172.26L5.25 175.41L7.5 175.42ZM7.5 175.42L5.25 175.41L5.27 178.56L7.52 178.53ZM7.52 178.53L5.27 178.56L5.36 181.71L7.61 181.63ZM7.61 181.63L5.36 181.71L5.5 184.86L7.75 184.74ZM7.75 184.74L5.5 184.86L5.7 188.01L7.94 187.84ZM7.94 187.84L5.7 188.01L5.96 191.15L8.2 190.94ZM8.2 190.94L5.96 191.15L6.27 194.28L8.51 194.03Z"/>
<path fill="#7EC0EE" d="M16.66 230.36L14.53 231.09L15.58 234.06L17.7 233.29ZM17.7 233.29L15.58 234.06L16.69 237.01L18.79 236.2ZM18.79 236.2L16.69 237.01L17.86 239.94L19.94 239.09ZM19.94 239.09L17.86 239.94L19.07 242.85L21.14 241.96ZM21.14 241.96L19.07 242.85L20.34 245.73L22.39 244.8ZM22.39 244.8L20.34 245.73L21.67 248.59L23.7 247.63ZM23.7 247.63L21.67 248.59L23.04 251.42L25.06 250.42ZM25.06 250.42L23.04 251.42L24.47 254.23L26.47 253.19ZM26.47 253.19L24.47 254.23L25.95 257.01L27.93 255.94ZM27.93 255.94L25.95 257.01L27.48 259.77L29.44 258.66ZM29.44 258.66L27.48 259.77L29.06 262.49L31 261.34ZM31 261.34L29.06 262.49L30.7 265.19L32.61 264ZM32.61 264L30.7 265.19L32.38 267.85L34.27 266.63ZM34.27 266.63L32.38 267.85L34.11 270.48L35.98 269.23ZM35.98 269.23L34.11 270.48L35.89 273.08L37.73 271.8Z"/>
<path fill="#90EE90" d="M37.73 271.8L35.89 273.08L37.71 275.65L39.53 274.33ZM51.31 288.79L49.64 290.3L51.79 292.61L53.42 291.07ZM81.84 315.12L80.58 316.99L83.22 318.72L84.44 316.83ZM84.44 316.83L83.22 318.72L85.88 320.4L87.06 318.49ZM87.06 318.49L85.88 320.4L88.57 322.04L89.72 320.1ZM89.72 320.1L88.57 322.04L91.3 323.62L92.41 321.66ZM92.41 321.66L91.3 323.62L94.05 325.15L95.13 323.18ZM95.13 323.18L94.05 325.15L96.83 326.63L97.87 324.64ZM97.87 324.64L96.83 326.63L99.64 328.06L100.64 326.05ZM100.64 326.05L99.64 328.06L102.47 329.44L103.44 327.41ZM103.44 327.41L102.47 329.44L105.33 330.77L106.26 328.72ZM106.26 328.72L105.33 330.77L108.21 332.04L109.1 329.97ZM109.1 329.97L108.21 332.04L111.12 333.26L111.97 331.17ZM111.97 331.17L111.12 333.26L114.04 334.42L114.86 332.32ZM114.86 332.32L114.04 334.42L116.99 335.53L117.77 333.42ZM206.54 340.76L206.96 342.97L210.05 342.36L209.59 340.15ZM212.63 339.49L213.13 341.69L216.2 340.96L215.66 338.78ZM221.67 337.18L222.29 339.35L225.31 338.45L224.65 336.3Z"/>
<path fill="#6A3D9A" d="M157.02 342.63L156.77 344.87L159.91 345.18L160.11 342.94ZM160.11 342.94L159.91 345.18L163.05 345.44L163.21 343.2ZM163.21 343.2L163.05 345.44L166.19 345.65L166.31 343.4ZM169.42 343.54L169.34 345.79L172.49 345.87L172.53 343.62ZM175.63 343.65L175.64 345.9L178.79 345.87L178.74 343.62ZM178.74 343.62L178.79 345.87L181.94 345.78L181.85 343.53ZM181.85 343.53L181.94 345.78L185.08 345.63L184.96 343.38ZM194.25 342.6L194.5 344.84L197.63 344.46L197.34 342.22ZM230.56 334.37L231.3 336.5L234.26 335.44L233.49 333.33ZM233.49 333.33L234.26 335.44L237.21 334.32L236.39 332.23ZM236.39 332.23L237.21 334.32L240.14 333.15L239.28 331.07ZM239.28 331.07L240.14 333.15L243.04 331.93L242.15 329.86ZM242.15 329.86L243.04 331.93L245.92 330.65L244.99 328.61ZM247.81 327.29L248.78 329.32L251.61 327.94L250.6 325.93ZM258.82 321.53L259.94 323.48L262.66 321.9L261.51 319.96ZM261.51 319.96L262.66 321.9L265.35 320.26L264.17 318.35ZM264.17 318.35L265.35 320.26L268.01 318.57L266.79 316.68ZM266.79 316.68L268.01 318.57L270.64 316.83L269.38 314.97ZM269.38 314.97L270.64 316.83L273.24 315.05L271.95 313.21ZM284.24 303.71L285.7 305.42L288.08 303.36L286.6 301.67ZM286.6 301.67L288.08 303.36L290.43 301.26L288.91 299.6ZM307.89 279.08L309.66 280.46L311.58 277.96L309.78 276.61ZM309.78 276.61L311.58 277.96L313.45 275.43L311.62 274.11ZM311.62 274.11L313.45 275.43L315.27 272.86L313.42 271.57ZM313.42 271.57L315.27 272.86L317.04 270.26L315.17 269.01ZM315.17 269.01L317.04 270.26L318.77 267.62L316.88 266.41ZM323.2 255.7L325.18 256.77L326.66 253.99L324.66 252.95ZM324.66 252.95L326.66 253.99L328.08 251.18L326.06 250.18ZM326.06 250.18L328.08 251.18L329.45 248.34L327.42 247.38ZM327.42 247.38L329.45 248.34L330.77 245.48L328.72 244.56ZM328.72 244.56L330.77 245.48L332.04 242.6L329.97 241.71ZM329.97 241.71L332.04 242.6L333.25 239.69L331.16 238.84ZM331.16 238.84L333.25 239.69L334.41 236.76L332.31 235.95ZM332.31 235.95L334.41 236.76L335.51 233.81L333.39 233.04ZM333.39 233.04L335.51 233.81L336.56 230.84L334.43 230.11ZM334.43 230.11L336.56 230.84L337.55 227.85L335.41 227.16ZM335.41 227.16L337.55 227.85L338.49 224.84L336.34 224.19ZM336.34 224.19L338.49 224.84L339.37 221.81L337.21 221.2ZM337.21 221.2L339.37 221.81L340.2 218.77L338.02 218.2ZM338.02 218.2L340.2 218.77L340.97 215.72L338.78 215.19ZM338.78 215.19L340.97 215.72L341.68 212.65L339.48 212.16ZM340.13 209.12L342.34 209.57L342.94 206.48L340.72 206.07ZM340.72 206.07L342.94 206.48L343.48 203.37L341.26 203.01ZM341.26 203.01L343.48 203.37L343.96 200.26L341.74 199.93ZM341.74 199.93L343.96 200.26L344.39 197.14L342.16 196.85ZM342.16 196.85L344.39 197.14L344.76 194.01L342.52 193.77ZM342.52 193.77L344.76 194.01L345.07 190.87L342.83 190.67ZM342.83 190.67L345.07 190.87L345.32 187.73L343.08 187.57Z"/>
<path fill="#0000FF" d="M297.39 174.03L299.89 174L299.84 171.83L297.34 171.91ZM294.04 147.22L296.47 146.64L295.95 144.54L293.53 145.17ZM293.49 145.03L295.91 144.41L295.35 142.32L292.94 142.99ZM292.91 142.86L295.31 142.18L294.71 140.1L292.32 140.82ZM292.28 140.69L294.67 139.97L294.04 137.9L291.65 138.66ZM291.61 138.53L293.99 137.77L293.32 135.72L290.95 136.52ZM290.91 136.39L293.27 135.59L292.56 133.54L290.21 134.39ZM290.16 134.26L292.51 133.41L291.76 131.39L289.42 132.27ZM289.37 132.15L291.71 131.26L290.92 129.24L288.6 130.17ZM288.55 130.05L290.87 129.11L290.04 127.11L287.74 128.09ZM287.69 127.96L289.99 126.99L289.12 125L286.84 126.02ZM286.78 125.9L289.07 124.88L288.17 122.91L285.9 123.97ZM285.84 123.85L288.11 122.78L287.17 120.83L284.93 121.93ZM284.87 121.81L287.11 120.71L286.14 118.78L283.91 119.92ZM283.85 119.8L286.07 118.65L285.07 116.74L282.86 117.92ZM282.8 117.8L285 116.62L283.96 114.72L281.78 115.95ZM281.71 115.83L283.89 114.6L282.81 112.72L280.65 113.99ZM280.59 113.87L282.74 112.61L281.63 110.75L279.5 112.05ZM279.43 111.94L281.56 110.63L280.41 108.8L278.3 110.14ZM278.23 110.03L280.34 108.68L279.15 106.87L277.07 108.25ZM277 108.14L279.08 106.75L277.86 104.96L275.81 106.38ZM275.73 106.27L277.79 104.85L276.54 103.08L274.51 104.54ZM274.43 104.43L276.46 102.97L275.18 101.22L273.17 102.72ZM273.09 102.61L275.1 101.11L273.78 99.39L271.81 100.92ZM271.73 100.81L273.7 99.28L272.36 97.58L270.41 99.15ZM268.89 97.31L270.81 95.7L269.4 94.05L267.51 95.69ZM267.42 95.59L269.31 93.95L267.87 92.33L266.02 94ZM265.93 93.9L267.78 92.23L266.32 90.63L264.49 92.34ZM264.4 92.24L266.22 90.53L264.73 88.97L262.94 90.71ZM261.25 89.01L263.01 87.23L261.46 85.73L259.73 87.53ZM259.63 87.44L261.36 85.63L259.78 84.15L258.09 85.99ZM257.99 85.9L259.68 84.06L258.07 82.61L256.41 84.48ZM254.61 82.91L256.23 81.01L254.57 79.62L252.98 81.55ZM252.88 81.46L254.47 79.53L252.78 78.17L251.23 80.13ZM251.12 80.04L252.67 78.08L250.97 76.76L249.45 78.74ZM245.7 75.99L247.14 73.95L245.36 72.72L243.96 74.79ZM243.85 74.71L245.25 72.64L243.45 71.44L242.08 73.54ZM241.97 73.47L243.33 71.37L241.51 70.21L240.18 72.32ZM240.06 72.25L241.39 70.13L239.54 69L238.26 71.15ZM238.14 71.08L239.42 68.93L237.56 67.84L236.31 70ZM234.23 68.83L235.43 66.64L233.53 65.61L232.36 67.82ZM232.24 67.76L233.4 65.55L231.48 64.56L230.36 66.79ZM230.23 66.73L231.36 64.5L229.42 63.54L228.33 65.79ZM228.21 65.74L229.29 63.48L227.33 62.56L226.29 64.83ZM226.17 64.78L227.21 62.5L225.23 61.62L224.23 63.91ZM224.11 63.86L225.1 61.57L223.11 60.72L222.15 63.03ZM222.03 62.98L222.98 60.67L220.98 59.86L220.06 62.19ZM219.94 62.14L220.85 59.81L218.83 59.04L217.96 61.38ZM217.83 61.34L218.7 58.99L216.66 58.26L215.83 60.62ZM215.71 60.57L216.53 58.21L214.48 57.52L213.7 59.89ZM213.57 59.85L214.35 57.47L212.29 56.81L211.55 59.2ZM211.42 59.16L212.16 56.77L210.08 56.15L209.39 58.56ZM202.71 56.82L203.27 54.39L201.15 53.92L200.64 56.37ZM200.5 56.34L201.02 53.9L198.89 53.47L198.42 55.92ZM198.29 55.9L198.76 53.44L196.63 53.06L196.21 55.52ZM196.07 55.5L196.49 53.03L194.36 52.69L193.98 55.16ZM193.84 55.14L194.22 52.67L192.08 52.36L191.75 54.84ZM191.61 54.82L191.94 52.34L189.79 52.07L189.51 54.56ZM189.37 54.54L189.66 52.06L187.51 51.83L187.26 54.32ZM187.13 54.31L187.37 51.82L185.21 51.63L185.02 54.12ZM182.63 53.96L182.78 51.46L180.62 51.36L180.51 53.85ZM180.38 53.85L180.48 51.35L178.32 51.28L178.26 53.78ZM178.12 53.78L178.18 51.28L176.01 51.25L176 53.75ZM175.87 53.75L175.88 51.25L173.71 51.26L173.75 53.76ZM171.36 53.82L171.27 51.32L169.11 51.41L169.24 53.91ZM169.1 53.92L168.97 51.42L166.81 51.55L166.99 54.05ZM166.85 54.06L166.67 51.56L164.52 51.74L164.74 54.23ZM157.88 55.03L157.52 52.56L155.38 52.89L155.79 55.35ZM155.65 55.38L155.25 52.91L153.12 53.28L153.57 55.74ZM151.22 56.19L150.72 53.74L148.6 54.19L149.14 56.63ZM149.01 56.66L148.47 54.22L146.36 54.71L146.95 57.14ZM146.81 57.17L146.23 54.74L144.13 55.27L144.76 57.69ZM144.63 57.72L143.99 55.31L141.9 55.87L142.58 58.28ZM142.45 58.32L141.77 55.91L139.69 56.51L140.41 58.91ZM140.28 58.95L139.56 56.55L137.5 57.2L138.26 59.58ZM138.13 59.62L137.36 57.24L135.31 57.92L136.12 60.29ZM135.99 60.33L135.18 57.97L133.14 58.68L133.99 61.04ZM111.56 71.86L110.25 69.74L108.42 70.89L109.77 72.99ZM109.65 73.07L108.3 70.96L106.49 72.15L107.88 74.23ZM105.9 75.57L104.47 73.52L102.71 74.77L104.17 76.8ZM104.06 76.88L102.6 74.85L100.85 76.14L102.35 78.14ZM98.69 80.99L97.11 79.05L95.45 80.43L97.05 82.34ZM93.56 85.4L91.88 83.55L90.29 85.02L92 86.84ZM57.13 146.51L54.71 145.91L54.21 148.02L56.65 148.57ZM55.66 197.98L53.21 198.44L53.62 200.56L56.07 200.06ZM56.1 200.19L53.65 200.7L54.1 202.81L56.54 202.27ZM56.57 202.4L54.13 202.95L54.63 205.06L57.05 204.46ZM57.09 204.6L54.66 205.19L55.19 207.29L57.61 206.65ZM57.64 206.78L55.23 207.42L55.8 209.51L58.2 208.83ZM58.24 208.96L55.83 209.64L56.44 211.72L58.84 210.99ZM58.88 211.12L56.48 211.85L57.13 213.91L59.51 213.14ZM59.55 213.27L57.17 214.05L57.86 216.1L60.22 215.28ZM60.27 215.41L57.9 216.23L58.63 218.27L60.98 217.41ZM61.02 217.54L58.68 218.4L59.44 220.42L61.77 219.52ZM61.82 219.65L59.49 220.55L60.28 222.56L62.6 221.62ZM62.65 221.75L60.34 222.69L61.17 224.69L63.47 223.7ZM63.52 223.83L61.23 224.81L62.1 226.79L64.38 225.77ZM64.43 225.89L62.16 226.92L63.07 228.88L65.33 227.81ZM65.38 227.94L63.12 229.01L64.07 230.96L66.31 229.84ZM66.37 229.97L64.13 231.08L65.11 233.01L67.33 231.86ZM67.39 231.98L65.18 233.13L66.19 235.04L68.39 233.85ZM68.45 233.97L66.26 235.16L67.31 237.05L69.48 235.82ZM69.55 235.94L67.38 237.17L68.47 239.04L70.62 237.77ZM70.69 237.89L68.54 239.16L69.66 241.01L71.78 239.7ZM71.85 239.82L69.73 241.13L70.88 242.96L72.99 241.61ZM73.06 241.72L70.96 243.08L72.15 244.89L74.22 243.49ZM74.3 243.61L72.22 245L73.45 246.79L75.5 245.36ZM75.57 245.47L73.53 246.9L74.78 248.66L76.8 247.2ZM78.23 249.12L76.23 250.62L77.55 252.34L79.52 250.8ZM79.6 250.91L77.64 252.45L78.99 254.14L80.93 252.56ZM81.01 252.67L79.07 254.25L80.46 255.91L82.37 254.3ZM82.45 254.4L80.55 256.02L81.96 257.66L83.84 256.01ZM83.93 256.11L82.05 257.76L83.49 259.37L85.34 257.69ZM85.43 257.79L83.58 259.48L85.06 261.06L86.87 259.35ZM86.97 259.44L85.15 261.16L86.65 262.72L88.44 260.97ZM88.53 261.07L86.75 262.82L88.28 264.35L90.03 262.57ZM90.13 262.66L88.38 264.45L89.93 265.95L91.65 264.13ZM91.75 264.23L90.04 266.04L91.62 267.52L93.31 265.67ZM93.41 265.76L91.72 267.61L93.33 269.05L94.99 267.18ZM95.09 267.27L93.44 269.14L95.08 270.56L96.69 268.65ZM125.32 286.74L124.29 289.02L126.27 289.89L127.26 287.6ZM144.43 293.52L143.79 295.94L145.89 296.47L146.49 294.05ZM151.02 295.07L150.52 297.52L152.64 297.93L153.1 295.47ZM159.92 296.55L159.6 299.03L161.75 299.29L162.02 296.8ZM162.16 296.82L161.88 299.3L164.04 299.52L164.27 297.03ZM168.9 297.37L168.77 299.87L170.93 299.97L171.02 297.47ZM171.15 297.47L171.07 299.97L173.23 300.03L173.27 297.53ZM173.41 297.53L173.37 300.03L175.53 300.05L175.53 297.55ZM175.67 297.55L175.67 300.05L177.83 300.03L177.79 297.53ZM184.68 297.2L184.87 299.7L187.02 299.52L186.79 297.03ZM186.93 297.01L187.16 299.5L189.31 299.28L189.04 296.8ZM195.87 295.84L196.29 298.3L198.42 297.92L197.96 295.46ZM198.09 295.44L198.56 297.89L200.68 297.48L200.17 295.03ZM200.31 295L200.81 297.45L202.93 296.99L202.38 294.55ZM202.51 294.52L203.06 296.96L205.17 296.46L204.57 294.03ZM215.51 290.8L216.34 293.16L218.37 292.43L217.51 290.08ZM217.64 290.04L218.5 292.38L220.53 291.62L219.62 289.28ZM219.75 289.24L220.66 291.57L222.67 290.76L221.72 288.45ZM221.84 288.4L222.79 290.71L224.79 289.87L223.8 287.57ZM223.92 287.52L224.91 289.81L226.89 288.94L225.86 286.66ZM225.98 286.61L227.02 288.88L228.98 287.97L227.91 285.71ZM228.03 285.65L229.1 287.91L231.05 286.96L229.93 284.72ZM230.05 284.66L231.17 286.9L233.1 285.91L231.94 283.7ZM232.06 283.63L233.22 285.85L235.13 284.83L233.93 282.63ZM234.05 282.57L235.25 284.76L237.14 283.71L235.9 281.53Z"/>
<path fill="#00CED1" d="M297.34 171.77L299.84 171.69L299.75 169.53L297.25 169.65ZM297.25 169.52L299.74 169.39L299.61 167.23L297.12 167.4ZM297.11 167.27L299.61 167.1L299.44 164.94L296.95 165.15ZM296.94 165.02L299.43 164.8L299.22 162.65L296.73 162.91ZM236.19 69.93L237.44 67.77L235.55 66.71L234.35 68.89ZM209.26 58.52L209.95 56.12L207.87 55.53L207.22 57.95ZM207.09 57.91L207.73 55.5L205.64 54.96L205.03 57.38ZM204.9 57.35L205.5 54.92L203.4 54.42L202.84 56.86ZM164.6 54.24L164.38 51.75L162.23 51.96L162.49 54.45ZM162.36 54.46L162.09 51.98L159.94 52.23L160.25 54.71ZM160.12 54.72L159.8 52.24L157.66 52.54L158.02 55.01ZM153.43 55.76L152.98 53.31L150.85 53.72L151.35 56.17ZM133.86 61.08L133.01 58.73L130.98 59.49L131.88 61.82ZM131.75 61.87L130.85 59.54L128.84 60.33L129.78 62.65ZM129.65 62.7L128.71 60.38L126.71 61.22L127.69 63.52ZM121.42 66.4L120.31 64.16L118.38 65.14L119.53 67.36ZM119.41 67.42L118.26 65.2L116.35 66.21L117.54 68.41ZM117.42 68.48L116.23 66.28L114.33 67.33L115.56 69.5ZM115.45 69.57L114.21 67.39L112.34 68.48L113.61 70.63ZM113.49 70.7L112.22 68.55L110.37 69.66L111.68 71.79ZM107.76 74.3L106.38 72.22L104.59 73.44L106.01 75.5ZM102.25 78.22L100.74 76.22L99.02 77.53L100.56 79.51ZM100.45 79.59L98.92 77.62L97.22 78.97L98.8 80.91ZM91.9 86.93L90.19 85.11L88.62 86.61L90.37 88.4ZM90.27 88.5L88.52 86.71L86.99 88.23L88.77 89.99ZM88.67 90.09L86.89 88.33L85.39 89.89L87.2 91.61ZM87.11 91.71L85.29 89.99L83.82 91.57L85.66 93.26ZM85.57 93.36L83.72 91.67L82.28 93.28L84.15 94.94ZM84.06 95.04L82.19 93.38L80.77 95.02L82.67 96.64ZM82.58 96.74L80.68 95.12L79.29 96.79L81.23 98.37ZM81.14 98.48L79.2 96.89L77.85 98.58L79.81 100.13ZM79.73 100.24L77.76 98.69L76.44 100.4L78.43 101.91ZM78.35 102.02L76.36 100.51L75.06 102.25L77.08 103.72ZM77 103.83L74.98 102.36L73.72 104.12L75.77 105.56ZM74.41 107.52L72.34 106.13L71.15 107.93L73.24 109.29ZM73.17 109.41L71.07 108.05L69.91 109.88L72.03 111.2ZM71.96 111.31L69.84 109.99L68.71 111.84L70.86 113.12ZM70.79 113.24L68.64 111.96L67.55 113.83L69.72 115.07ZM69.65 115.19L67.48 113.95L66.42 115.84L68.62 117.04ZM68.55 117.16L66.36 115.96L65.34 117.86L67.55 119.03ZM67.49 119.15L65.27 117.99L64.29 119.91L66.52 121.03ZM64.52 125.23L62.24 124.19L61.36 126.17L63.66 127.16ZM63.6 127.29L61.31 126.3L60.47 128.29L62.78 129.24ZM62.73 129.37L60.42 128.42L59.61 130.43L61.94 131.34ZM61.89 131.46L59.56 130.56L58.79 132.58L61.14 133.44ZM61.09 133.57L58.75 132.71L58.02 134.75L60.38 135.57ZM60.33 135.7L57.97 134.88L57.28 136.93L59.66 137.71ZM59.61 137.83L57.24 137.06L56.58 139.12L58.97 139.86ZM58.93 139.98L56.54 139.25L55.93 141.33L58.33 142.02ZM58.29 142.15L55.89 141.46L55.31 143.55L57.73 144.19ZM57.69 144.32L55.28 143.68L54.74 145.78L57.17 146.38ZM56.62 148.7L54.18 148.15L53.72 150.26L56.16 150.78ZM56.14 150.91L53.69 150.4L53.27 152.52L55.73 152.99ZM55.7 153.12L53.24 152.66L52.86 154.79L55.33 155.21ZM54.13 164.29L51.64 164.05L51.46 166.21L53.95 166.4ZM53.94 166.53L51.45 166.35L51.31 168.51L53.8 168.65ZM53.79 168.78L51.3 168.64L51.19 170.81L53.69 170.9ZM53.69 171.04L51.19 170.94L51.13 173.11L53.63 173.16ZM53.62 173.29L51.12 173.24L51.1 175.41L53.6 175.41ZM53.6 175.55L51.1 175.55L51.12 177.71L53.62 177.67ZM53.62 177.8L51.12 177.85L51.18 180.01L53.67 179.92ZM53.68 180.06L51.18 180.15L51.28 182.31L53.77 182.18ZM53.78 182.31L51.29 182.45L51.42 184.61L53.92 184.43ZM53.93 184.56L51.43 184.75L51.61 186.9L54.1 186.68ZM54.11 186.81L51.62 187.04L51.84 189.19L54.32 188.92ZM54.34 189.06L51.85 189.33L52.11 191.48L54.59 191.16ZM54.61 191.3L52.13 191.62L52.43 193.76L54.9 193.4ZM54.92 193.53L52.45 193.9L52.78 196.04L55.25 195.63ZM55.27 195.76L52.8 196.17L53.18 198.3L55.64 197.85ZM76.88 247.31L74.86 248.77L76.15 250.51L78.15 249.01ZM96.8 268.74L95.18 270.65L96.85 272.03L98.43 270.09ZM98.53 270.18L96.95 272.12L98.64 273.47L100.19 271.5ZM103.9 274.3L102.43 276.33L104.19 277.58L105.62 275.53ZM105.73 275.61L104.3 277.66L106.09 278.88L107.48 276.81ZM107.6 276.89L106.2 278.96L108.01 280.15L109.37 278.05ZM109.48 278.12L108.13 280.23L109.96 281.38L111.27 279.26ZM111.39 279.33L110.07 281.46L111.92 282.58L113.2 280.43ZM113.32 280.5L112.04 282.65L113.91 283.74L115.15 281.56ZM115.27 281.63L114.03 283.8L115.92 284.86L117.12 282.66ZM117.24 282.73L116.05 284.92L117.96 285.94L119.11 283.72ZM121.24 284.81L120.13 287.05L122.08 287.99L123.15 285.74ZM123.27 285.79L122.2 288.05L124.16 288.96L125.2 286.69ZM127.38 287.65L126.4 289.95L128.39 290.79L129.34 288.47ZM129.46 288.52L128.52 290.84L130.53 291.64L131.43 289.31ZM135.8 290.9L134.98 293.27L137.04 293.95L137.81 291.58ZM137.94 291.62L137.17 294L139.23 294.65L139.96 292.25ZM140.09 292.29L139.36 294.69L141.44 295.3L142.12 292.89ZM146.62 294.08L146.02 296.51L148.13 297L148.68 294.56ZM148.81 294.59L148.27 297.03L150.38 297.49L150.89 295.04ZM153.23 295.5L152.78 297.96L154.91 298.33L155.32 295.87ZM157.68 296.24L157.32 298.71L159.46 299.01L159.78 296.53ZM164.4 297.04L164.17 299.53L166.33 299.71L166.51 297.22ZM166.65 297.23L166.47 299.72L168.63 299.86L168.77 297.36ZM177.92 297.53L177.97 300.03L180.13 299.96L180.04 297.47ZM189.17 296.78L189.45 299.27L191.6 299L191.28 296.52ZM191.41 296.51L191.74 298.99L193.88 298.68L193.51 296.21ZM204.7 294L205.3 296.43L207.4 295.89L206.76 293.47ZM206.89 293.44L207.53 295.85L209.62 295.28L208.93 292.88ZM209.06 292.84L209.75 295.24L211.83 294.63L211.1 292.24ZM211.23 292.2L211.96 294.59L214.02 293.94L213.25 291.56ZM241.8 277.95L243.16 280.04L244.96 278.85L243.57 276.78ZM243.68 276.7L245.08 278.77L246.86 277.55L245.43 275.5ZM245.54 275.42L246.97 277.47L248.73 276.21L247.26 274.19ZM247.37 274.11L248.85 276.13L250.58 274.84L249.07 272.84ZM250.97 271.38L252.51 273.35L254.2 271.99L252.62 270.05ZM252.72 269.97L254.31 271.9L255.97 270.52L254.35 268.61ZM256.16 267.05L257.82 268.92L259.43 267.48L257.74 265.63ZM257.84 265.54L259.53 267.38L261.11 265.91L259.39 264.09ZM259.49 264L261.21 265.81L262.77 264.31L261.01 262.53ZM262.7 260.83L264.49 262.58L265.99 261.02L264.17 259.3ZM264.26 259.2L266.08 260.92L267.55 259.33L265.7 257.65ZM265.79 257.55L267.64 259.23L269.08 257.61L267.2 255.96ZM267.29 255.86L269.17 257.51L270.58 255.86L268.67 254.25ZM268.76 254.15L270.67 255.76L272.05 254.09L270.11 252.52ZM270.2 252.41L272.14 253.98L273.49 252.29L271.52 250.75ZM271.6 250.64L273.57 252.18L274.89 250.47L272.89 248.96ZM274.31 247.04L276.34 248.5L277.59 246.74L275.54 245.31ZM275.61 245.2L277.67 246.62L278.89 244.84L276.81 243.44ZM276.88 243.33L278.96 244.72L280.15 242.91L278.05 241.56ZM278.12 241.44L280.22 242.79L281.38 240.96L279.25 239.65ZM279.32 239.53L281.45 240.84L282.57 238.99L280.41 237.72ZM280.48 237.6L282.64 238.87L283.72 237L281.55 235.77ZM282.7 233.68L284.9 234.87L285.92 232.95L283.7 231.8ZM283.76 231.68L285.98 232.83L286.96 230.9L284.72 229.79ZM284.78 229.67L287.02 230.78L287.96 228.83L285.7 227.76ZM285.76 227.64L288.02 228.7L288.93 226.74L286.65 225.71ZM288.47 221.44L290.79 222.38L291.59 220.37L289.25 219.47ZM289.3 219.34L291.64 220.24L292.39 218.21L290.04 217.35ZM290.09 217.23L292.44 218.08L293.16 216.04L290.8 215.23ZM290.84 215.1L293.21 215.91L293.89 213.86L291.51 213.09ZM291.55 212.96L293.93 213.72L294.57 211.66L292.18 210.93ZM292.22 210.8L294.61 211.53L295.22 209.45L292.81 208.77ZM292.85 208.64L295.26 209.32L295.83 207.23L293.41 206.59ZM293.44 206.46L295.86 207.09L296.39 205L293.96 204.41ZM293.99 204.27L296.42 204.86L296.91 202.75L294.47 202.21ZM294.5 202.08L296.94 202.62L297.39 200.5L294.94 200ZM295.4 197.65L297.86 198.11L298.23 195.97L295.76 195.57ZM295.78 195.43L298.25 195.84L298.58 193.7L296.11 193.34ZM296.7 188.73L299.18 189L299.4 186.84L296.91 186.62Z"/>
<path fill="#1C86EE" d="M296.72 162.77L299.2 162.51L298.96 160.36L296.48 160.67ZM294.54 149.42L296.99 148.88L296.5 146.77L294.07 147.35ZM270.32 99.05L272.27 97.48L270.89 95.8L268.98 97.41ZM184.88 54.11L185.07 51.62L182.92 51.47L182.77 53.97ZM173.61 53.76L173.57 51.26L171.41 51.32L171.49 53.82ZM54.95 157.57L52.48 157.2L52.17 159.34L54.65 159.67ZM155.45 295.89L155.04 298.36L157.18 298.69L157.55 296.22ZM180.18 297.46L180.27 299.96L182.43 299.86L182.29 297.36ZM182.43 297.35L182.57 299.85L184.73 299.71L184.55 297.21ZM193.64 296.19L194.02 298.66L196.15 298.32L195.74 295.86ZM213.38 291.52L214.15 293.89L216.2 293.2L215.39 290.84ZM237.97 280.33L239.25 282.48L241.1 281.35L239.78 279.23ZM249.18 272.76L250.69 274.75L252.4 273.43L250.86 271.47ZM254.46 268.52L256.08 270.43L257.71 269.01L256.06 267.14ZM272.97 248.85L274.97 250.35L276.26 248.61L274.23 247.15ZM281.61 235.65L283.79 236.88L284.84 234.99L282.64 233.79ZM296.13 193.2L298.6 193.56L298.9 191.42L296.42 191.1ZM296.43 190.97L298.91 191.28L299.17 189.13L296.68 188.86ZM296.92 186.48L299.41 186.7L299.58 184.55L297.09 184.37Z"/>
<path fill="#FF1493" d="M296.46 160.53L298.94 160.22L298.65 158.08L296.18 158.43ZM296.16 158.3L298.63 157.94L298.31 155.8L295.84 156.2ZM295.82 156.07L298.28 155.67L297.92 153.53L295.46 153.98ZM295.43 153.84L297.89 153.4L297.49 151.27L295.04 151.76ZM295.01 151.63L297.46 151.14L297.02 149.02L294.57 149.55ZM247.53 77.31L249.01 75.29L247.26 74.03L245.81 76.07ZM131.56 289.36L130.66 291.69L132.68 292.45L133.54 290.1ZM142.25 292.93L141.57 295.33L143.66 295.91L144.3 293.49ZM236.02 281.47L237.26 283.64L239.13 282.55L237.85 280.4Z"/>
<path fill="#36648B" d="M262.84 90.61L264.63 88.87L263.11 87.33L261.35 89.11ZM256.31 84.39L257.97 82.52L256.34 81.09L254.71 83ZM286.7 225.59L288.98 226.61L289.85 224.63L287.55 223.65ZM287.61 223.52L289.91 224.5L290.74 222.51L288.42 221.56Z"/>
<path fill="#00FF00" d="M249.34 78.66L250.86 76.67L249.12 75.38L247.64 77.39Z"/>
<path fill="#008B00" d="M127.57 63.57L126.59 61.27L124.6 62.14L125.63 64.42ZM125.5 64.47L124.48 62.19L122.51 63.1L123.58 65.36Z"/>
<path fill="#FF83FA" d="M123.45 65.42L122.39 63.16L120.44 64.1L121.55 66.34ZM75.69 105.67L73.64 104.23L72.42 106.01L74.49 107.41ZM66.46 121.15L64.22 120.04L63.27 121.98L65.53 123.06ZM55.3 155.34L52.84 154.92L52.5 157.06L54.97 157.44ZM100.3 271.59L98.75 273.55L100.47 274.87L101.98 272.88ZM119.23 283.79L118.08 286L120.01 286.99L121.12 284.75Z"/>
<path fill="#FDBF6F" d="M96.95 82.43L95.34 80.52L93.7 81.93L95.34 83.81ZM95.24 83.9L93.59 82.02L91.98 83.46L93.66 85.31ZM54.63 159.8L52.16 159.48L51.89 161.63L54.38 161.91ZM102.08 272.96L100.58 274.96L102.32 276.25L103.79 274.22ZM133.67 290.15L132.81 292.5L134.85 293.22L135.67 290.86ZM239.89 279.15L241.21 281.28L243.04 280.12L241.68 278.02ZM261.11 262.43L262.86 264.21L264.39 262.68L262.6 260.93Z"/>
<path fill="#EEE685" d="M65.47 123.18L63.21 122.1L62.3 124.07L64.57 125.1Z"/>
<path fill="#000000" d="M54.36 162.04L51.88 161.76L51.65 163.92L54.14 164.15Z"/>
<path fill="#E31A1C" d="M294.97 199.87L297.42 200.37L297.83 198.24L295.37 197.79Z"/>
<path fill="#E31A1C" d="M293.04 174.09L295.54 174.05L295.49 171.97L292.99 172.04ZM291.15 154.62L293.61 154.18L293.22 152.12L290.77 152.61ZM290.75 152.49L293.2 151.99L292.77 149.95L290.32 150.48ZM290.3 150.36L292.74 149.82L292.27 147.78L289.84 148.36ZM289.81 148.24L292.24 147.65L291.74 145.63L289.31 146.25ZM289.28 146.13L291.7 145.5L291.16 143.48L288.75 144.15ZM288.72 144.03L291.12 143.35L290.54 141.35L288.15 142.06ZM288.11 141.94L290.51 141.22L289.89 139.22L287.51 139.98ZM287.47 139.86L289.85 139.1L289.2 137.11L286.83 137.92ZM286.79 137.79L289.15 136.99L288.46 135.02L286.11 135.86ZM286.07 135.74L288.42 134.89L287.69 132.93L285.36 133.82ZM285.31 133.7L287.65 132.81L286.88 130.86L284.56 131.8ZM284.52 131.68L286.83 130.74L286.04 128.81L283.73 129.79ZM283.68 129.67L285.98 128.69L285.15 126.77L282.87 127.79ZM282.81 127.67L285.1 126.65L284.23 124.75L281.96 125.81ZM281.91 125.69L284.17 124.63L283.27 122.75L281.02 123.85ZM280.96 123.73L283.21 122.63L282.27 120.76L280.05 121.91ZM279.99 121.79L282.21 120.65L281.23 118.8L279.03 119.98ZM278.97 119.87L281.17 118.68L280.16 116.85L277.99 118.08ZM277.92 117.96L280.1 116.74L279.06 114.92L276.9 116.19ZM276.84 116.08L278.99 114.81L277.92 113.02L275.78 114.32ZM275.72 114.21L277.85 112.91L276.74 111.13L274.63 112.48ZM274.56 112.37L276.67 111.02L275.53 109.27L273.45 110.65ZM273.37 110.55L275.46 109.16L274.28 107.43L272.23 108.85ZM272.15 108.75L274.21 107.32L273.01 105.62L270.97 107.07ZM270.9 106.97L272.93 105.51L271.69 103.82L269.69 105.32ZM269.61 105.21L271.61 103.72L270.35 102.06L268.37 103.59ZM268.29 103.49L270.27 101.95L268.97 100.31L267.02 101.88ZM266.94 101.78L268.89 100.21L267.56 98.6L265.64 100.2ZM265.56 100.1L267.47 98.49L266.12 96.91L264.23 98.55ZM264.14 98.45L266.03 96.81L264.64 95.24L262.79 96.92ZM262.7 96.82L264.56 95.14L263.14 93.61L261.32 95.32ZM258.19 92.1L259.95 90.33L258.45 88.87L256.73 90.68ZM253.43 87.64L255.09 85.77L253.51 84.4L251.89 86.3ZM251.79 86.22L253.41 84.31L251.81 82.97L250.22 84.9ZM250.12 84.82L251.71 82.89L250.08 81.58L248.53 83.54ZM248.43 83.46L249.98 81.49L248.33 80.21L246.81 82.2ZM244.96 80.82L246.44 78.8L244.75 77.58L243.3 79.63ZM243.2 79.55L244.64 77.51L242.92 76.32L241.52 78.39ZM235.9 74.81L237.19 72.66L235.39 71.61L234.14 73.77ZM234.03 73.71L235.27 71.54L233.45 70.51L232.25 72.7ZM232.13 72.64L233.34 70.45L231.5 69.46L230.33 71.67ZM205.96 62.11L206.61 59.7L204.58 59.18L203.98 61.6ZM201.74 61.07L202.29 58.63L200.25 58.18L199.74 60.63ZM199.61 60.6L200.12 58.15L198.08 57.74L197.61 60.2ZM197.48 60.17L197.95 57.72L195.89 57.34L195.47 59.81ZM180.2 58.19L180.3 55.7L178.22 55.63L178.16 58.13ZM141.54 63.11L140.82 60.72L138.82 61.34L139.59 63.72ZM139.46 63.76L138.7 61.38L136.72 62.04L137.52 64.4ZM99.75 85.76L98.14 83.85L96.56 85.21L98.2 87.09ZM61.31 203.56L58.88 204.16L59.4 206.18L61.81 205.54ZM61.85 205.67L59.43 206.31L59.98 208.32L62.39 207.64ZM62.42 207.77L60.02 208.45L60.61 210.46L63 209.73ZM63.04 209.86L60.64 210.58L61.27 212.58L63.65 211.81ZM63.69 211.93L61.31 212.7L61.97 214.68L64.34 213.87ZM64.38 213.99L62.02 214.81L62.71 216.78L65.06 215.92ZM65.11 216.04L62.76 216.9L63.49 218.86L65.83 217.96ZM65.87 218.08L63.54 218.98L64.31 220.92L66.63 219.98ZM66.68 220.1L64.36 221.05L65.17 222.97L67.47 221.99ZM67.52 222.11L65.22 223.09L66.07 225.01L68.34 223.98ZM68.4 224.1L66.12 225.13L67 227.02L69.26 225.95ZM69.31 226.07L67.05 227.14L67.97 229.02L70.21 227.91ZM71.25 229.97L69.03 231.12L70.01 232.96L72.21 231.77ZM72.27 231.89L70.08 233.08L71.09 234.91L73.27 233.67ZM73.33 233.79L71.16 235.02L72.21 236.83L74.36 235.55ZM74.43 235.67L72.28 236.94L73.36 238.73L75.48 237.42ZM75.55 237.53L73.43 238.84L74.54 240.61L76.64 239.26ZM76.72 239.37L74.61 240.72L75.76 242.47L77.84 241.07ZM77.91 241.18L75.84 242.58L77.02 244.3L79.07 242.87ZM79.14 242.98L77.09 244.41L78.3 246.11L80.33 244.64ZM80.4 244.75L78.38 246.22L79.62 247.9L81.62 246.39ZM81.7 246.5L79.7 248L80.98 249.66L82.94 248.12ZM83.03 248.22L81.06 249.76L82.36 251.39L84.3 249.82ZM84.38 249.92L82.45 251.5L83.78 253.11L85.69 251.49ZM85.77 251.59L83.87 253.21L85.23 254.79L87.11 253.14ZM87.19 253.24L85.32 254.89L86.71 256.45L88.56 254.76ZM88.65 254.86L86.8 256.54L88.22 258.08L90.04 256.36ZM91.64 258.02L89.85 259.77L91.33 261.25L93.08 259.47ZM93.17 259.56L91.42 261.34L92.93 262.79L94.65 260.98ZM127.11 282.78L126.08 285.06L127.99 285.9L128.98 283.6ZM129.1 283.65L128.11 285.95L130.04 286.76L130.99 284.45ZM131.11 284.5L130.16 286.81L132.1 287.58L133.01 285.25ZM133.13 285.3L132.23 287.63L134.18 288.37L135.04 286.02ZM135.16 286.06L134.31 288.41L136.27 289.11L137.09 286.75ZM137.21 286.79L136.4 289.15L138.38 289.82L139.15 287.44ZM139.28 287.48L138.51 289.86L140.5 290.48L141.23 288.09ZM141.35 288.13L140.63 290.52L142.63 291.11L143.32 288.71ZM143.44 288.74L142.76 291.15L144.77 291.7L145.41 289.28ZM145.54 289.32L144.9 291.74L146.93 292.25L147.52 289.82ZM147.65 289.85L147.06 292.28L149.09 292.76L149.64 290.32ZM149.77 290.35L149.22 292.79L151.26 293.23L151.76 290.78ZM151.89 290.81L151.39 293.25L153.44 293.66L153.9 291.2ZM154.03 291.22L153.57 293.68L155.63 294.04L156.04 291.58ZM156.17 291.6L155.76 294.07L157.82 294.39L158.19 291.92ZM186.52 292.68L186.75 295.17L188.83 294.96L188.55 292.47ZM195.15 291.55L195.56 294.01L197.62 293.64L197.16 291.19ZM199.42 290.74L199.93 293.19L201.97 292.75L201.42 290.31ZM201.55 290.28L202.1 292.72L204.13 292.24L203.54 289.81ZM203.66 289.78L204.26 292.2L206.28 291.69L205.64 289.27ZM209.95 288.04L210.68 290.43L212.68 289.8L211.9 287.42ZM212.03 287.38L212.8 289.76L214.78 289.09L213.96 286.73ZM214.09 286.69L214.91 289.05L216.87 288.35L216.01 286ZM216.13 285.95L217 288.3L218.95 287.56L218.05 285.23ZM220.19 284.37L221.14 286.69L223.06 285.88L222.07 283.58ZM222.19 283.53L223.19 285.82L225.1 284.98L224.06 282.7ZM226.15 281.73L227.23 283.98L229.11 283.07L227.99 280.83ZM228.11 280.77L229.23 283.01L231.09 282.06L229.93 279.84ZM230.04 279.78L231.2 281.99L233.04 281.01L231.85 278.82Z"/>
<path fill="#1C86EE" d="M292.99 171.91L295.49 171.83L295.4 169.75L292.91 169.87ZM292.9 169.74L295.4 169.61L295.27 167.53L292.78 167.7ZM292.77 167.57L295.27 167.4L295.1 165.31L292.61 165.53ZM292.6 165.4L295.09 165.18L294.89 163.1L292.41 163.36ZM292.39 163.23L294.88 162.97L294.64 160.89L292.16 161.2ZM292.14 161.07L294.62 160.76L294.35 158.69L291.87 159.05ZM291.85 158.92L294.33 158.56L294.01 156.5L291.54 156.89ZM291.52 156.77L293.99 156.36L293.64 154.31L291.18 154.75ZM261.23 95.22L263.05 93.51L261.61 92L259.81 93.74ZM259.72 93.65L261.52 91.9L260.05 90.42L258.28 92.2ZM256.63 90.59L258.36 88.78L256.83 87.35L255.14 89.19ZM255.04 89.1L256.74 87.26L255.19 85.86L253.53 87.73ZM246.71 82.12L248.22 80.13L246.55 78.88L245.07 80.9ZM241.41 78.31L242.81 76.24L241.07 75.09L239.7 77.18ZM239.59 77.11L240.96 75.02L239.2 73.89L237.87 76.01ZM237.76 75.94L239.08 73.82L237.3 72.73L236.02 74.87ZM230.22 71.61L231.38 69.4L229.52 68.44L228.4 70.67ZM228.28 70.62L229.4 68.38L227.53 67.46L226.45 69.71ZM226.33 69.66L227.41 67.4L225.52 66.52L224.48 68.79ZM224.36 68.74L225.4 66.46L223.49 65.61L222.49 67.9ZM222.37 67.85L223.37 65.56L221.45 64.74L220.49 67.05ZM220.37 67L221.32 64.69L219.39 63.91L218.47 66.24ZM218.35 66.19L219.26 63.86L217.31 63.12L216.44 65.46ZM216.32 65.41L217.19 63.07L215.22 62.36L214.39 64.72ZM214.27 64.68L215.1 62.32L213.12 61.65L212.34 64.02ZM212.21 63.98L212.99 61.6L211 60.97L210.26 63.36ZM210.14 63.32L210.88 60.93L208.87 60.33L208.18 62.73ZM208.05 62.7L208.75 60.3L206.73 59.73L206.08 62.15ZM203.85 61.57L204.45 59.14L202.42 58.66L201.86 61.09ZM195.34 59.79L195.76 57.32L193.7 56.99L193.32 59.46ZM193.19 59.44L193.57 56.97L191.5 56.67L191.17 59.15ZM191.04 59.13L191.37 56.65L189.29 56.4L189.01 58.88ZM188.88 58.86L189.16 56.38L187.09 56.16L186.84 58.65ZM186.71 58.64L186.95 56.15L184.87 55.97L184.68 58.46ZM184.55 58.45L184.74 55.96L182.66 55.81L182.51 58.31ZM182.38 58.3L182.52 55.81L180.44 55.7L180.33 58.2ZM178.03 58.13L178.08 55.63L176 55.6L175.99 58.1ZM175.85 58.1L175.86 55.6L173.77 55.61L173.81 58.11ZM173.68 58.11L173.64 55.61L171.55 55.66L171.64 58.16ZM171.5 58.17L171.42 55.67L169.33 55.76L169.46 58.26ZM169.33 58.26L169.2 55.77L167.12 55.89L167.29 58.39ZM167.16 58.4L166.98 55.9L164.9 56.07L165.12 58.56ZM164.99 58.57L164.77 56.08L162.69 56.29L162.96 58.77ZM162.83 58.79L162.56 56.3L160.48 56.54L160.8 59.02ZM160.67 59.04L160.35 56.56L158.28 56.84L158.64 59.32ZM158.51 59.33L158.15 56.86L156.09 57.18L156.49 59.65ZM156.36 59.67L155.96 57.2L153.9 57.56L154.35 60.02ZM154.22 60.04L153.77 57.58L151.72 57.98L152.21 60.43ZM152.08 60.46L151.59 58.01L149.54 58.44L150.08 60.88ZM149.96 60.91L149.41 58.47L147.38 58.94L147.96 61.37ZM147.84 61.4L147.25 58.97L145.22 59.48L145.85 61.9ZM145.73 61.93L145.09 59.51L143.08 60.06L143.75 62.47ZM143.63 62.5L142.95 60.1L140.95 60.68L141.67 63.07ZM137.4 64.45L136.59 62.08L134.62 62.77L135.47 65.13ZM135.35 65.17L134.49 62.82L132.54 63.55L133.43 65.89ZM133.31 65.93L132.41 63.6L130.47 64.36L131.41 66.68ZM131.29 66.73L130.35 64.41L128.42 65.22L129.4 67.52ZM129.28 67.57L128.3 65.27L126.38 66.11L127.41 68.39ZM127.29 68.44L126.26 66.16L124.37 67.03L125.43 69.3ZM125.31 69.35L124.24 67.09L122.36 68L123.47 70.24ZM123.35 70.3L122.24 68.06L120.38 69L121.53 71.22ZM121.41 71.28L120.26 69.06L118.42 70.04L119.61 72.24ZM119.49 72.3L118.3 70.1L116.47 71.11L117.7 73.29ZM117.59 73.36L116.36 71.18L114.55 72.22L115.82 74.38ZM115.71 74.44L114.43 72.29L112.64 73.37L113.95 75.5ZM113.84 75.57L112.53 73.44L110.76 74.55L112.11 76.66ZM112 76.73L110.65 74.62L108.9 75.77L110.29 77.85ZM110.18 77.92L108.79 75.84L107.07 77.02L108.49 79.07ZM108.38 79.14L106.96 77.09L105.25 78.3L106.72 80.33ZM106.61 80.4L105.14 78.38L103.46 79.61L104.96 81.61ZM104.86 81.69L103.36 79.7L101.7 80.96L103.24 82.94ZM103.13 83.02L101.59 81.05L99.96 82.35L101.53 84.29ZM101.43 84.37L99.86 82.43L98.25 83.76L99.85 85.67ZM98.1 87.17L96.46 85.29L94.9 86.68L96.58 88.53ZM96.48 88.62L94.8 86.77L93.27 88.19L94.98 90.01ZM94.88 90.1L93.17 88.28L91.66 89.73L93.41 91.51ZM93.31 91.61L91.57 89.82L90.09 91.29L91.86 93.05ZM91.77 93.14L89.99 91.39L88.54 92.89L90.35 94.61ZM90.26 94.7L88.45 92.98L87.02 94.51L88.87 96.2ZM88.78 96.3L86.93 94.61L85.54 96.16L87.41 97.82ZM87.32 97.91L85.45 96.26L84.08 97.84L85.98 99.46ZM85.9 99.56L83.99 97.94L82.66 99.54L84.59 101.13ZM84.51 101.23L82.57 99.65L81.26 101.28L83.23 102.82ZM83.15 102.93L81.18 101.38L79.9 103.03L81.89 104.54ZM81.82 104.65L79.82 103.14L78.58 104.81L80.6 106.29ZM80.52 106.39L78.5 104.92L77.28 106.62L79.33 108.06ZM79.25 108.16L77.21 106.73L76.02 108.45L78.09 109.85ZM78.02 109.96L75.95 108.56L74.8 110.3L76.89 111.66ZM76.82 111.77L74.72 110.41L73.6 112.18L75.73 113.5ZM75.66 113.61L73.53 112.29L72.45 114.07L74.59 115.35ZM74.53 115.47L72.38 114.19L71.32 115.99L73.49 117.23ZM73.43 117.34L71.26 116.1L70.24 117.93L72.43 119.13ZM72.37 119.24L70.17 118.04L69.19 119.88L71.4 121.05ZM71.34 121.16L69.13 120L68.17 121.86L70.41 122.98ZM70.35 123.1L68.11 121.98L67.2 123.86L69.45 124.94ZM69.4 125.05L67.14 123.98L66.26 125.87L68.53 126.91ZM68.48 127.03L66.2 125.99L65.36 127.9L67.65 128.89ZM67.6 129.01L65.3 128.02L64.49 129.95L66.8 130.9ZM66.75 131.02L64.44 130.07L63.66 132.01L65.99 132.92ZM65.95 133.04L63.62 132.13L62.88 134.09L65.22 134.95ZM65.18 135.07L62.83 134.21L62.13 136.18L64.49 137ZM64.44 137.12L62.08 136.3L61.41 138.28L63.79 139.06ZM63.75 139.18L61.37 138.41L60.74 140.4L63.13 141.13ZM63.09 141.26L60.7 140.53L60.11 142.53L62.51 143.22ZM62.48 143.34L60.07 142.66L59.52 144.67L61.93 145.31ZM61.9 145.44L59.48 144.8L58.96 146.82L61.39 147.42ZM61.36 147.55L58.93 146.95L58.45 148.98L60.89 149.54ZM60.86 149.66L58.42 149.11L57.98 151.15L60.42 151.66ZM60.4 151.79L57.95 151.28L57.54 153.33L60 153.8ZM59.98 153.92L57.52 153.46L57.15 155.52L59.61 155.94ZM59.59 156.07L57.13 155.65L56.8 157.71L59.27 158.09ZM59.25 158.21L56.78 157.84L56.49 159.91L58.96 160.24ZM58.95 160.37L56.47 160.04L56.22 162.12L58.7 162.4ZM58.68 162.53L56.2 162.25L55.99 164.33L58.47 164.56ZM58.46 164.69L55.97 164.46L55.8 166.54L58.29 166.73ZM58.28 166.86L55.79 166.67L55.65 168.76L58.14 168.9ZM58.14 169.03L55.64 168.89L55.54 170.97L58.04 171.07ZM58.03 171.2L55.54 171.11L55.48 173.2L57.97 173.25ZM57.97 173.38L55.47 173.33L55.45 175.42L57.95 175.42ZM57.95 175.55L55.45 175.55L55.47 177.64L57.97 177.6ZM57.97 177.73L55.47 177.77L55.52 179.86L58.02 179.77ZM58.03 179.9L55.53 179.99L55.62 182.08L58.12 181.94ZM58.13 182.08L55.63 182.21L55.76 184.3L58.26 184.12ZM58.26 184.25L55.77 184.43L55.94 186.51L58.43 186.28ZM58.44 186.41L55.95 186.64L56.16 188.72L58.65 188.45ZM58.66 188.58L56.18 188.85L56.43 190.93L58.91 190.61ZM58.92 190.74L56.44 191.06L56.73 193.13L59.2 192.76ZM59.22 192.89L56.75 193.26L57.07 195.32L59.54 194.91ZM59.56 195.04L57.09 195.45L57.46 197.51L59.92 197.06ZM59.94 197.18L57.48 197.64L57.88 199.69L60.33 199.19ZM60.36 199.32L57.91 199.82L58.35 201.86L60.79 201.32ZM60.82 201.44L58.38 201.99L58.85 204.03L61.28 203.44ZM70.26 228.03L68.03 229.14L68.97 231L71.19 229.85ZM90.13 256.45L88.31 258.17L89.76 259.68L91.54 257.93ZM94.74 261.07L93.02 262.88L94.55 264.3L96.24 262.46ZM96.34 262.55L94.65 264.39L96.21 265.79L97.86 263.91ZM97.96 264L96.31 265.88L97.89 267.24L99.51 265.33ZM99.61 265.42L97.99 267.33L99.6 268.66L101.18 266.72ZM101.28 266.81L99.7 268.74L101.33 270.05L102.88 268.08ZM102.98 268.16L101.44 270.13L103.09 271.4L104.6 269.41ZM104.7 269.49L103.2 271.48L104.88 272.73L106.35 270.71ZM106.45 270.78L104.98 272.81L106.68 274.02L108.12 271.97ZM108.22 272.04L106.79 274.09L108.52 275.27L109.91 273.2ZM110.02 273.27L108.63 275.35L110.37 276.5L111.73 274.4ZM111.84 274.47L110.48 276.57L112.25 277.69L113.57 275.56ZM113.68 275.63L112.36 277.76L114.15 278.84L115.42 276.69ZM115.54 276.76L114.26 278.91L116.07 279.96L117.3 277.78ZM117.42 277.85L116.18 280.02L118.01 281.04L119.2 278.84ZM119.32 278.91L118.12 281.1L119.97 282.08L121.12 279.87ZM121.24 279.93L120.09 282.15L121.95 283.09L123.06 280.86ZM123.18 280.91L122.07 283.15L123.94 284.07L125.02 281.81ZM125.14 281.86L124.06 284.12L125.96 285L126.99 282.72ZM158.32 291.94L157.95 294.41L160.02 294.7L160.34 292.22ZM160.47 292.24L160.15 294.72L162.23 294.96L162.5 292.48ZM162.63 292.49L162.36 294.98L164.44 295.19L164.67 292.7ZM164.8 292.71L164.57 295.2L166.65 295.37L166.84 292.88ZM166.97 292.89L166.78 295.38L168.87 295.52L169.01 293.02ZM169.14 293.03L169 295.52L171.09 295.62L171.18 293.12ZM171.31 293.13L171.22 295.62L173.31 295.68L173.35 293.18ZM173.48 293.18L173.44 295.68L175.53 295.7L175.53 293.2ZM175.66 293.2L175.66 295.7L177.75 295.68L177.7 293.18ZM177.83 293.18L177.88 295.68L179.97 295.62L179.88 293.12ZM180.01 293.11L180.11 295.61L182.19 295.51L182.05 293.02ZM182.18 293.01L182.32 295.51L184.41 295.37L184.22 292.88ZM184.35 292.87L184.54 295.36L186.62 295.18L186.39 292.69ZM188.68 292.46L188.96 294.94L191.04 294.69L190.71 292.21ZM190.84 292.19L191.17 294.67L193.24 294.38L192.87 291.91ZM193 291.89L193.37 294.36L195.43 294.03L195.02 291.57ZM197.29 291.16L197.75 293.62L199.8 293.22L199.29 290.77ZM205.77 289.24L206.41 291.65L208.43 291.1L207.74 288.69ZM207.87 288.66L208.55 291.06L210.56 290.47L209.83 288.08ZM218.17 285.18L219.08 287.51L221.02 286.74L220.07 284.42ZM224.18 282.65L225.22 284.92L227.11 284.04L226.03 281.78ZM231.96 278.75L233.16 280.95L234.98 279.93L233.75 277.76ZM233.86 277.69L235.1 279.86L236.9 278.81L235.63 276.66ZM235.74 276.59L237.02 278.74L238.8 277.65L237.48 275.53ZM237.59 275.46L238.92 277.58L240.68 276.47L239.32 274.37ZM239.43 274.29L240.79 276.39L242.53 275.24L241.14 273.17ZM241.25 273.09L242.64 275.17L244.36 273.98L242.93 271.94ZM243.04 271.86L244.47 273.91L246.17 272.69L244.7 270.67ZM244.81 270.6L246.28 272.61L247.96 271.37L246.45 269.38ZM246.55 269.3L248.06 271.29L249.72 270.01L248.17 268.05ZM248.27 267.97L249.82 269.93L251.45 268.62L249.87 266.69ZM249.97 266.6L251.55 268.54L253.16 267.2L251.54 265.29ZM251.64 265.21L253.26 267.11L254.84 265.75L253.18 263.87ZM253.28 263.79L254.94 265.66L256.49 264.26L254.8 262.42ZM254.9 262.33L256.59 264.17L258.12 262.75L256.4 260.94ZM256.49 260.85L258.21 262.66L259.71 261.21L257.96 259.43ZM258.05 259.33L259.81 261.11L261.28 259.63L259.5 257.89ZM259.59 257.79L261.38 259.54L262.82 258.03L261 256.32ZM261.09 256.22L262.91 257.94L264.33 256.4L262.48 254.72ZM262.57 254.62L264.42 256.3L265.81 254.74L263.93 253.1ZM264.02 253L265.9 254.64L267.26 253.06L265.35 251.45ZM265.43 251.35L267.34 252.96L268.68 251.35L266.74 249.77ZM266.82 249.67L268.76 251.25L270.06 249.61L268.09 248.07ZM268.17 247.97L270.14 249.51L271.41 247.85L269.42 246.35ZM269.49 246.24L271.49 247.74L272.73 246.06L270.71 244.6ZM270.78 244.49L272.81 245.95L274.02 244.25L271.97 242.82ZM272.04 242.71L274.09 244.14L275.27 242.42L273.19 241.03ZM273.27 240.92L275.35 242.31L276.49 240.56L274.39 239.21ZM274.46 239.1L276.56 240.45L277.67 238.68L275.55 237.37ZM275.61 237.25L277.74 238.56L278.82 236.78L276.67 235.5ZM276.74 235.39L278.89 236.66L279.94 234.85L277.76 233.62ZM277.83 233.51L280 234.74L281.01 232.91L278.82 231.72ZM278.88 231.6L281.08 232.79L282.06 230.95L279.84 229.8ZM279.9 229.68L282.12 230.83L283.06 228.97L280.82 227.86ZM280.88 227.74L283.12 228.85L284.03 226.97L281.77 225.9ZM281.82 225.78L284.09 226.85L284.96 224.95L282.68 223.93ZM282.73 223.81L285.01 224.83L285.85 222.92L283.55 221.93ZM283.61 221.81L285.91 222.8L286.71 220.87L284.39 219.93ZM284.44 219.81L286.76 220.74L287.53 218.8L285.19 217.9ZM285.24 217.78L287.57 218.68L288.31 216.72L285.96 215.87ZM286 215.74L288.35 216.6L289.05 214.63L286.68 213.82ZM286.72 213.69L289.09 214.5L289.75 212.52L287.37 211.75ZM287.41 211.63L289.79 212.39L290.41 210.4L288.02 209.68ZM288.06 209.55L290.45 210.27L291.03 208.27L288.63 207.59ZM288.66 207.46L291.07 208.14L291.62 206.12L289.2 205.49ZM289.23 205.36L291.65 205.99L292.16 203.97L289.73 203.38ZM289.76 203.25L292.19 203.84L292.67 201.81L290.23 201.26ZM290.25 201.13L292.7 201.68L293.13 199.63L290.68 199.13ZM290.71 199.01L293.16 199.5L293.55 197.45L291.1 197ZM291.12 196.87L293.58 197.32L293.94 195.26L291.47 194.86ZM291.49 194.73L293.96 195.13L294.28 193.07L291.81 192.71ZM291.82 192.58L294.3 192.94L294.58 190.87L292.1 190.55ZM292.12 190.42L294.6 190.74L294.84 188.66L292.36 188.39ZM292.37 188.26L294.86 188.53L295.06 186.45L292.57 186.23ZM292.58 186.1L295.08 186.32L295.24 184.24L292.75 184.06Z"/>
<g font-size="10" font-weight="bold" opacity="0.85">
<text transform="translate(279.97 173.35) rotate(-1.26) scale(0.18)" y="3.5" fill="#F8766D" textLength="52" lengthAdjust="spacingAndGlyphs">TH0037</text>
<text transform="translate(279.91 171.42) rotate(-2.32) scale(0.18)" y="3.5" fill="#F8766D" textLength="52" lengthAdjust="spacingAndGlyphs">TH0074</text>
<text transform="translate(279.82 169.49) rotate(-3.38) scale(0.18)" y="3.5" fill="#F8766D" textLength="52" lengthAdjust="spacingAndGlyphs">TH0111</text>
<text transform="translate(279.69 167.56) rotate(-4.44) scale(0.18)" y="3.5" fill="#F8766D" textLength="52" lengthAdjust="spacingAndGlyphs">TH0148</text>
<text transform="translate(279.52 165.63) rotate(-5.5) scale(0.18)" y="3.5" fill="#00BFC4" textLength="52" lengthAdjust="spacingAndGlyphs">IN0185</text>
<text transform="translate(279.32 163.71) rotate(-6.56) scale(0.18)" y="3.5" fill="#00BFC4" textLength="52" lengthAdjust="spacingAndGlyphs">IN0222</text>
<text transform="translate(279.08 161.79) rotate(-7.62) scale(0.18)" y="3.5" fill="#00BFC4" textLength="52" lengthAdjust="spacingAndGlyphs">IN0259</text>
<text transform="translate(278.8 159.87) rotate(-8.68) scale(0.18)" y="3.5" fill="#00BFC4" textLength="52" lengthAdjust="spacingAndGlyphs">IN0296</text>
<text transform="translate(278.49 157.97) rotate(-9.74) scale(0.18)" y="3.5" fill="#00BFC4" textLength="52" lengthAdjust="spacingAndGlyphs">IN0333</text>
<text transform="translate(278.15 156.06) rotate(-10.8) scale(0.18)" y="3.5" fill="#00BFC4" textLength="52" lengthAdjust="spacingAndGlyphs">IN0370</text>
<text transform="translate(277.77 154.17) rotate(-11.86) scale(0.18)" y="3.5" fill="#00BFC4" textLength="52" lengthAdjust="spacingAndGlyphs">IN0407</text>
<text transform="translate(277.35 152.28) rotate(-12.92) scale(0.18)" y="3.5" fill="#F8766D" textLength="52" lengthAdjust="spacingAndGlyphs">TH0444</text>
<text transform="translate(276.9 150.4) rotate(-13.98) scale(0.18)" y="3.5" fill="#F8766D" textLength="52" lengthAdjust="spacingAndGlyphs">TH0481</text>
<text transform="translate(276.42 148.53) rotate(-15.04) scale(0.18)" y="3.5" fill="#F8766D" textLength="52" lengthAdjust="spacingAndGlyphs">TH0518</text>
<text transform="translate(275.9 146.66) rotate(-16.1) scale(0.18)" y="3.5" fill="#F8766D" textLength="52" lengthAdjust="spacingAndGlyphs">TH0555</text>
<text transform="translate(275.35 144.81) rotate(-17.16) scale(0.18)" y="3.5" fill="#F8766D" textLength="52" lengthAdjust="spacingAndGlyphs">TH0592</text>
<text transform="translate(274.76 142.97) rotate(-18.23) scale(0.18)" y="3.5" fill="#F8766D" textLength="52" lengthAdjust="spacingAndGlyphs">TH0629</text>
<text transform="translate(274.14 141.14) rotate(-19.29) scale(0.18)" y="3.5" fill="#F8766D" textLength="52" lengthAdjust="spacingAndGlyphs">TH0666</text>
<text transform="translate(273.48 139.32) rotate(-20.35) scale(0.18)" y="3.5" fill="#F8766D" textLength="52" lengthAdjust="spacingAndGlyphs">TH0703</text>
<text transform="translate(272.79 137.51) rotate(-21.41) scale(0.18)" y="3.5" fill="#F8766D" textLength="52" lengthAdjust="spacingAndGlyphs">TH0740</text>
<text transform="translate(272.07 135.72) rotate(-22.47) scale(0.18)" y="3.5" fill="#F8766D" textLength="52" lengthAdjust="spacingAndGlyphs">TH0777</text>
<text transform="translate(271.31 133.94) rotate(-23.53) scale(0.18)" y="3.5" fill="#F8766D" textLength="52" lengthAdjust="spacingAndGlyphs">TH0814</text>
<text transform="translate(270.53 132.17) rotate(-24.59) scale(0.18)" y="3.5" fill="#F8766D" textLength="52" lengthAdjust="spacingAndGlyphs">TH0851</text>
<text transform="translate(269.7 130.42) rotate(-25.65) scale(0.18)" y="3.5" fill="#F8766D" textLength="52" lengthAdjust="spacingAndGlyphs">TH0888</text>
<text transform="translate(268.85 128.68) rotate(-26.71) scale(0.18)" y="3.5" fill="#F8766D" textLength="52" lengthAdjust="spacingAndGlyphs">TH0925</text>
<text transform="translate(267.97 126.96) rotate(-27.77) scale(0.18)" y="3.5" fill="#F8766D" textLength="52" lengthAdjust="spacingAndGlyphs">TH0962</text>
<text transform="translate(267.05 125.26) rotate(-28.83) scale(0.18)" y="3.5" fill="#F8766D" textLength="52" lengthAdjust="spacingAndGlyphs">TH0999</text>
<text transform="translate(266.1 123.58) rotate(-29.89) scale(0.18)" y="3.5" fill="#00BFC4" textLength="52" lengthAdjust="spacingAndGlyphs">IN1036</text>
<text transform="translate(265.12 121.91) rotate(-30.95) scale(0.18)" y="3.5" fill="#00BFC4" textLength="52" lengthAdjust="spacingAndGlyphs">IN1073</text>
<text transform="translate(264.11 120.26) rotate(-32.01) scale(0.18)" y="3.5" fill="#F8766D" textLength="52" lengthAdjust="spacingAndGlyphs">TH1110</text>
<text transform="translate(263.07 118.63) rotate(-33.07) scale(0.18)" y="3.5" fill="#F8766D" textLength="52" lengthAdjust="spacingAndGlyphs">TH1147</text>
<text transform="translate(262 117.02) rotate(-34.13) scale(0.18)" y="3.5" fill="#F8766D" textLength="52" lengthAdjust="spacingAndGlyphs">TH1184</text>
<text transform="translate(260.9 115.43) rotate(-35.19) scale(0.18)" y="3.5" fill="#F8766D" textLength="52" lengthAdjust="spacingAndGlyphs">TH1221</text>
<text transform="translate(259.77 113.86) rotate(-36.25) scale(0.18)" y="3.5" fill="#F8766D" textLength="52" lengthAdjust="spacingAndGlyphs">TH1258</text>
<text transform="translate(258.62 112.31) rotate(-37.31) scale(0.18)" y="3.5" fill="#F8766D" textLength="52" lengthAdjust="spacingAndGlyphs">TH1295</text>
<text transform="translate(257.43 110.78) rotate(-38.37) scale(0.18)" y="3.5" fill="#F8766D" textLength="52" lengthAdjust="spacingAndGlyphs">TH1332</text>
<text transform="translate(256.21 109.28) rotate(-39.43) scale(0.18)" y="3.5" fill="#F8766D" textLength="52" lengthAdjust="spacingAndGlyphs">TH1369</text>
<text transform="translate(254.97 107.79) rotate(-40.49) scale(0.18)" y="3.5" fill="#F8766D" textLength="52" lengthAdjust="spacingAndGlyphs">TH1406</text>
<text transform="translate(253.7 106.34) rotate(-41.55) scale(0.18)" y="3.5" fill="#F8766D" textLength="52" lengthAdjust="spacingAndGlyphs">TH1443</text>
<text transform="translate(252.41 104.9) rotate(-42.61) scale(0.18)" y="3.5" fill="#00BFC4" textLength="52" lengthAdjust="spacingAndGlyphs">IN1480</text>
<text transform="translate(251.09 103.49) rotate(-43.67) scale(0.18)" y="3.5" fill="#F8766D" textLength="52" lengthAdjust="spacingAndGlyphs">TH1517</text>
<text transform="translate(249.74 102.1) rotate(-44.73) scale(0.18)" y="3.5" fill="#F8766D" textLength="52" lengthAdjust="spacingAndGlyphs">TH1554</text>
<text transform="translate(248.36 100.74) rotate(-45.79) scale(0.18)" y="3.5" fill="#00BFC4" textLength="52" lengthAdjust="spacingAndGlyphs">IN1591</text>
<text transform="translate(246.96 99.41) rotate(-46.85) scale(0.18)" y="3.5" fill="#00BFC4" textLength="52" lengthAdjust="spacingAndGlyphs">IN1628</text>
<text transform="translate(245.54 98.1) rotate(-47.91) scale(0.18)" y="3.5" fill="#F8766D" textLength="52" lengthAdjust="spacingAndGlyphs">TH1665</text>
<text transform="translate(244.09 96.81) rotate(-48.97) scale(0.18)" y="3.5" fill="#00BFC4" textLength="52" lengthAdjust="spacingAndGlyphs">IN1702</text>
<text transform="translate(242.62 95.56) rotate(-50.03) scale(0.18)" y="3.5" fill="#00BFC4" textLength="52" lengthAdjust="spacingAndGlyphs">IN1739</text>
<text transform="translate(241.13 94.33) rotate(-51.09) scale(0.18)" y="3.5" fill="#00BFC4" textLength="52" lengthAdjust="spacingAndGlyphs">IN1776</text>
<text transform="translate(239.61 93.13) rotate(-52.15) scale(0.18)" y="3.5" fill="#00BFC4" textLength="52" lengthAdjust="spacingAndGlyphs">IN1813</text>
<text transform="translate(238.08 91.96) rotate(-53.21) scale(0.18)" y="3.5" fill="#00BFC4" textLength="52" lengthAdjust="spacingAndGlyphs">IN1850</text>
<text transform="translate(236.52 90.81) rotate(-54.28) scale(0.18)" y="3.5" fill="#F8766D" textLength="52" lengthAdjust="spacingAndGlyphs">TH1887</text>
<text transform="translate(234.94 89.7) rotate(-55.34) scale(0.18)" y="3.5" fill="#F8766D" textLength="52" lengthAdjust="spacingAndGlyphs">TH1924</text>
<text transform="translate(233.34 88.61) rotate(-56.4) scale(0.18)" y="3.5" fill="#F8766D" textLength="52" lengthAdjust="spacingAndGlyphs">TH1961</text>
<text transform="translate(231.72 87.56) rotate(-57.46) scale(0.18)" y="3.5" fill="#00BFC4" textLength="52" lengthAdjust="spacingAndGlyphs">IN1998</text>
<text transform="translate(230.08 86.53) rotate(-58.52) scale(0.18)" y="3.5" fill="#00BFC4" textLength="52" lengthAdjust="spacingAndGlyphs">IN2035</text>
<text transform="translate(228.42 85.54) rotate(-59.58) scale(0.18)" y="3.5" fill="#F8766D" textLength="52" lengthAdjust="spacingAndGlyphs">TH2072</text>
<text transform="translate(226.74 84.58) rotate(-60.64) scale(0.18)" y="3.5" fill="#F8766D" textLength="52" lengthAdjust="spacingAndGlyphs">TH2109</text>
<text transform="translate(225.05 83.64) rotate(-61.7) scale(0.18)" y="3.5" fill="#00BFC4" textLength="52" lengthAdjust="spacingAndGlyphs">IN2146</text>
<text transform="translate(223.34 82.74) rotate(-62.76) scale(0.18)" y="3.5" fill="#00BFC4" textLength="52" lengthAdjust="spacingAndGlyphs">IN2183</text>
<text transform="translate(221.61 81.87) rotate(-63.82) scale(0.18)" y="3.5" fill="#F8766D" textLength="52" lengthAdjust="spacingAndGlyphs">TH2220</text>
<text transform="translate(219.86 81.03) rotate(-64.88) scale(0.18)" y="3.5" fill="#F8766D" textLength="52" lengthAdjust="spacingAndGlyphs">TH2257</text>
<text transform="translate(218.11 80.23) rotate(-65.94) scale(0.18)" y="3.5" fill="#F8766D" textLength="52" lengthAdjust="spacingAndGlyphs">TH2294</text>
<text transform="translate(216.33 79.46) rotate(-67) scale(0.18)" y="3.5" fill="#F8766D" textLength="52" lengthAdjust="spacingAndGlyphs">TH2331</text>
<text transform="translate(214.55 78.72) rotate(-68.06) scale(0.18)" y="3.5" fill="#F8766D" textLength="52" lengthAdjust="spacingAndGlyphs">TH2368</text>
<text transform="translate(212.75 78.01) rotate(-69.12) scale(0.18)" y="3.5" fill="#F8766D" textLength="52" lengthAdjust="spacingAndGlyphs">TH2405</text>
<text transform="translate(210.93 77.34) rotate(-70.18) scale(0.18)" y="3.5" fill="#F8766D" textLength="52" lengthAdjust="spacingAndGlyphs">TH2442</text>
<text transform="translate(209.11 76.7) rotate(-71.24) scale(0.18)" y="3.5" fill="#00BFC4" textLength="52" lengthAdjust="spacingAndGlyphs">IN2479</text>
<text transform="translate(207.27 76.1) rotate(-72.3) scale(0.18)" y="3.5" fill="#F8766D" textLength="52" lengthAdjust="spacingAndGlyphs">TH2516</text>
<text transform="translate(205.42 75.53) rotate(-73.36) scale(0.18)" y="3.5" fill="#F8766D" textLength="52" lengthAdjust="spacingAndGlyphs">TH2553</text>
<text transform="translate(203.57 74.99) rotate(-74.42) scale(0.18)" y="3.5" fill="#F8766D" textLength="52" lengthAdjust="spacingAndGlyphs">TH2590</text>
<text transform="translate(201.7 74.49) rotate(-75.48) scale(0.18)" y="3.5" fill="#F8766D" textLength="52" lengthAdjust="spacingAndGlyphs">TH2627</text>
<text transform="translate(199.82 74.02) rotate(-76.54) scale(0.18)" y="3.5" fill="#00BFC4" textLength="52" lengthAdjust="spacingAndGlyphs">IN2664</text>
<text transform="translate(197.94 73.59) rotate(-77.6) scale(0.18)" y="3.5" fill="#F8766D" textLength="52" lengthAdjust="spacingAndGlyphs">TH2701</text>
<text transform="translate(196.04 73.19) rotate(-78.66) scale(0.18)" y="3.5" fill="#F8766D" textLength="52" lengthAdjust="spacingAndGlyphs">TH2738</text>
<text transform="translate(194.14 72.83) rotate(-79.72) scale(0.18)" y="3.5" fill="#F8766D" textLength="52" lengthAdjust="spacingAndGlyphs">TH2775</text>
<text transform="translate(192.24 72.5) rotate(-80.78) scale(0.18)" y="3.5" fill="#F8766D" textLength="52" lengthAdjust="spacingAndGlyphs">TH2812</text>
<text transform="translate(190.33 72.21) rotate(-81.84) scale(0.18)" y="3.5" fill="#F8766D" textLength="52" lengthAdjust="spacingAndGlyphs">TH2849</text>
<text transform="translate(188.41 71.95) rotate(-82.9) scale(0.18)" y="3.5" fill="#F8766D" textLength="52" lengthAdjust="spacingAndGlyphs">TH2886</text>
<text transform="translate(186.49 71.73) rotate(-83.96) scale(0.18)" y="3.5" fill="#F8766D" textLength="52" lengthAdjust="spacingAndGlyphs">TH2923</text>
<text transform="translate(184.56 71.54) rotate(-85.02) scale(0.18)" y="3.5" fill="#F8766D" textLength="52" lengthAdjust="spacingAndGlyphs">TH2960</text>
<text transform="translate(182.64 71.39) rotate(-86.08) scale(0.18)" y="3.5" fill="#F8766D" textLength="52" lengthAdjust="spacingAndGlyphs">TH2997</text>
<text transform="translate(180.71 71.28) rotate(-87.14) scale(0.18)" y="3.5" fill="#F8766D" textLength="52" lengthAdjust="spacingAndGlyphs">TH3034</text>
<text transform="translate(178.77 71.2) rotate(-88.2) scale(0.18)" y="3.5" fill="#00BFC4" textLength="52" lengthAdjust="spacingAndGlyphs">IN3071</text>
<text transform="translate(176.84 71.16) rotate(-89.27) scale(0.18)" y="3.5" fill="#00BFC4" textLength="52" lengthAdjust="spacingAndGlyphs">IN3108</text>
<text transform="translate(174.85 61.75) rotate(89.67) scale(0.18)" y="3.5" fill="#F8766D" textLength="52" lengthAdjust="spacingAndGlyphs">TH3145</text>
<text transform="translate(172.75 61.78) rotate(88.61) scale(0.18)" y="3.5" fill="#F8766D" textLength="52" lengthAdjust="spacingAndGlyphs">TH3182</text>
<text transform="translate(170.64 61.85) rotate(87.55) scale(0.18)" y="3.5" fill="#F8766D" textLength="52" lengthAdjust="spacingAndGlyphs">TH3219</text>
<text transform="translate(168.53 61.96) rotate(86.49) scale(0.18)" y="3.5" fill="#F8766D" textLength="52" lengthAdjust="spacingAndGlyphs">TH3256</text>
<text transform="translate(166.43 62.11) rotate(85.43) scale(0.18)" y="3.5" fill="#F8766D" textLength="52" lengthAdjust="spacingAndGlyphs">TH3293</text>
<text transform="translate(164.33 62.3) rotate(84.37) scale(0.18)" y="3.5" fill="#00BFC4" textLength="52" lengthAdjust="spacingAndGlyphs">IN3330</text>
<text transform="translate(162.24 62.52) rotate(83.31) scale(0.18)" y="3.5" fill="#00BFC4" textLength="52" lengthAdjust="spacingAndGlyphs">IN3367</text>
<text transform="translate(160.15 62.79) rotate(82.25) scale(0.18)" y="3.5" fill="#00BFC4" textLength="52" lengthAdjust="spacingAndGlyphs">IN3404</text>
<text transform="translate(158.06 63.09) rotate(81.19) scale(0.18)" y="3.5" fill="#00BFC4" textLength="52" lengthAdjust="spacingAndGlyphs">IN3441</text>
<text transform="translate(155.98 63.44) rotate(80.13) scale(0.18)" y="3.5" fill="#00BFC4" textLength="52" lengthAdjust="spacingAndGlyphs">IN3478</text>
<text transform="translate(153.91 63.82) rotate(79.07) scale(0.18)" y="3.5" fill="#00BFC4" textLength="52" lengthAdjust="spacingAndGlyphs">IN3515</text>
<text transform="translate(151.84 64.23) rotate(78.01) scale(0.18)" y="3.5" fill="#00BFC4" textLength="52" lengthAdjust="spacingAndGlyphs">IN3552</text>
<text transform="translate(149.78 64.69) rotate(76.95) scale(0.18)" y="3.5" fill="#00BFC4" textLength="52" lengthAdjust="spacingAndGlyphs">IN3589</text>
<text transform="translate(147.73 65.19) rotate(75.89) scale(0.18)" y="3.5" fill="#F8766D" textLength="52" lengthAdjust="spacingAndGlyphs">TH3626</text>
<text transform="translate(145.7 65.72) rotate(74.83) scale(0.18)" y="3.5" fill="#F8766D" textLength="52" lengthAdjust="spacingAndGlyphs">TH3663</text>
<text transform="translate(143.67 66.29) rotate(73.77) scale(0.18)" y="3.5" fill="#F8766D" textLength="52" lengthAdjust="spacingAndGlyphs">TH3700</text>
<text transform="translate(141.65 66.9) rotate(72.71) scale(0.18)" y="3.5" fill="#00BFC4" textLength="52" lengthAdjust="spacingAndGlyphs">IN3737</text>
<text transform="translate(139.64 67.54) rotate(71.65) scale(0.18)" y="3.5" fill="#00BFC4" textLength="52" lengthAdjust="spacingAndGlyphs">IN3774</text>
<text transform="translate(137.65 68.22) rotate(70.59) scale(0.18)" y="3.5" fill="#00BFC4" textLength="52" lengthAdjust="spacingAndGlyphs">IN3811</text>
<text transform="translate(135.67 68.94) rotate(69.53) scale(0.18)" y="3.5" fill="#00BFC4" textLength="52" lengthAdjust="spacingAndGlyphs">IN3848</text>
<text transform="translate(133.7 69.7) rotate(68.47) scale(0.18)" y="3.5" fill="#00BFC4" textLength="52" lengthAdjust="spacingAndGlyphs">IN3885</text>
<text transform="translate(131.74 70.49) rotate(67.41) scale(0.18)" y="3.5" fill="#00BFC4" textLength="52" lengthAdjust="spacingAndGlyphs">IN3922</text>
<text transform="translate(129.81 71.32) rotate(66.35) scale(0.18)" y="3.5" fill="#00BFC4" textLength="52" lengthAdjust="spacingAndGlyphs">IN3959</text>
<text transform="translate(127.88 72.18) rotate(65.29) scale(0.18)" y="3.5" fill="#00BFC4" textLength="52" lengthAdjust="spacingAndGlyphs">IN3996</text>
<text transform="translate(125.98 73.08) rotate(64.23) scale(0.18)" y="3.5" fill="#00BFC4" textLength="52" lengthAdjust="spacingAndGlyphs">IN4033</text>
<text transform="translate(124.09 74.01) rotate(63.17) scale(0.18)" y="3.5" fill="#F8766D" textLength="52" lengthAdjust="spacingAndGlyphs">TH4070</text>
<text transform="translate(122.21 74.98) rotate(62.11) scale(0.18)" y="3.5" fill="#00BFC4" textLength="52" lengthAdjust="spacingAndGlyphs">IN4107</text>
<text transform="translate(120.36 75.99) rotate(61.05) scale(0.18)" y="3.5" fill="#00BFC4" textLength="52" lengthAdjust="spacingAndGlyphs">IN4144</text>
<text transform="translate(118.53 77.02) rotate(59.99) scale(0.18)" y="3.5" fill="#00BFC4" textLength="52" lengthAdjust="spacingAndGlyphs">IN4181</text>
<text transform="translate(116.71 78.09) rotate(58.93) scale(0.18)" y="3.5" fill="#F8766D" textLength="52" lengthAdjust="spacingAndGlyphs">TH4218</text>
<text transform="translate(114.92 79.2) rotate(57.87) scale(0.18)" y="3.5" fill="#F8766D" textLength="52" lengthAdjust="spacingAndGlyphs">TH4255</text>
<text transform="translate(113.14 80.34) rotate(56.81) scale(0.18)" y="3.5" fill="#F8766D" textLength="52" lengthAdjust="spacingAndGlyphs">TH4292</text>
<text transform="translate(111.39 81.51) rotate(55.75) scale(0.18)" y="3.5" fill="#F8766D" textLength="52" lengthAdjust="spacingAndGlyphs">TH4329</text>
<text transform="translate(109.66 82.71) rotate(54.68) scale(0.18)" y="3.5" fill="#00BFC4" textLength="52" lengthAdjust="spacingAndGlyphs">IN4366</text>
<text transform="translate(107.95 83.94) rotate(53.62) scale(0.18)" y="3.5" fill="#00BFC4" textLength="52" lengthAdjust="spacingAndGlyphs">IN4403</text>
<text transform="translate(106.26 85.21) rotate(52.56) scale(0.18)" y="3.5" fill="#00BFC4" textLength="52" lengthAdjust="spacingAndGlyphs">IN4440</text>
<text transform="translate(104.6 86.51) rotate(51.5) scale(0.18)" y="3.5" fill="#00BFC4" textLength="52" lengthAdjust="spacingAndGlyphs">IN4477</text>
<text transform="translate(102.96 87.83) rotate(50.44) scale(0.18)" y="3.5" fill="#00BFC4" textLength="52" lengthAdjust="spacingAndGlyphs">IN4514</text>
<text transform="translate(101.35 89.19) rotate(49.38) scale(0.18)" y="3.5" fill="#00BFC4" textLength="52" lengthAdjust="spacingAndGlyphs">IN4551</text>
<text transform="translate(99.76 90.58) rotate(48.32) scale(0.18)" y="3.5" fill="#00BFC4" textLength="52" lengthAdjust="spacingAndGlyphs">IN4588</text>
<text transform="translate(98.2 91.99) rotate(47.26) scale(0.18)" y="3.5" fill="#00BFC4" textLength="52" lengthAdjust="spacingAndGlyphs">IN4625</text>
<text transform="translate(96.67 93.44) rotate(46.2) scale(0.18)" y="3.5" fill="#00BFC4" textLength="52" lengthAdjust="spacingAndGlyphs">IN4662</text>
<text transform="translate(95.16 94.91) rotate(45.14) scale(0.18)" y="3.5" fill="#00BFC4" textLength="52" lengthAdjust="spacingAndGlyphs">IN4699</text>
<text transform="translate(93.68 96.41) rotate(44.08) scale(0.18)" y="3.5" fill="#00BFC4" textLength="52" lengthAdjust="spacingAndGlyphs">IN4736</text>
<text transform="translate(92.23 97.94) rotate(43.02) scale(0.18)" y="3.5" fill="#F8766D" textLength="52" lengthAdjust="spacingAndGlyphs">TH4773</text>
<text transform="translate(90.8 99.49) rotate(41.96) scale(0.18)" y="3.5" fill="#00BFC4" textLength="52" lengthAdjust="spacingAndGlyphs">IN4810</text>
<text transform="translate(89.41 101.07) rotate(40.9) scale(0.18)" y="3.5" fill="#F8766D" textLength="52" lengthAdjust="spacingAndGlyphs">TH4847</text>
<text transform="translate(88.04 102.68) rotate(39.84) scale(0.18)" y="3.5" fill="#00BFC4" textLength="52" lengthAdjust="spacingAndGlyphs">IN4884</text>
<text transform="translate(86.71 104.31) rotate(38.78) scale(0.18)" y="3.5" fill="#00BFC4" textLength="52" lengthAdjust="spacingAndGlyphs">IN4921</text>
<text transform="translate(85.4 105.97) rotate(37.72) scale(0.18)" y="3.5" fill="#00BFC4" textLength="52" lengthAdjust="spacingAndGlyphs">IN4958</text>
<text transform="translate(84.13 107.64) rotate(36.66) scale(0.18)" y="3.5" fill="#00BFC4" textLength="52" lengthAdjust="spacingAndGlyphs">IN4995</text>
<text transform="translate(82.89 109.35) rotate(35.6) scale(0.18)" y="3.5" fill="#00BFC4" textLength="52" lengthAdjust="spacingAndGlyphs">IN5032</text>
<text transform="translate(81.68 111.07) rotate(34.54) scale(0.18)" y="3.5" fill="#00BFC4" textLength="52" lengthAdjust="spacingAndGlyphs">IN5069</text>
<text transform="translate(80.5 112.82) rotate(33.48) scale(0.18)" y="3.5" fill="#00BFC4" textLength="52" lengthAdjust="spacingAndGlyphs">IN5106</text>
<text transform="translate(79.35 114.59) rotate(32.42) scale(0.18)" y="3.5" fill="#00BFC4" textLength="52" lengthAdjust="spacingAndGlyphs">IN5143</text>
<text transform="translate(78.24 116.38) rotate(31.36) scale(0.18)" y="3.5" fill="#00BFC4" textLength="52" lengthAdjust="spacingAndGlyphs">IN5180</text>
<text transform="translate(77.16 118.19) rotate(30.3) scale(0.18)" y="3.5" fill="#00BFC4" textLength="52" lengthAdjust="spacingAndGlyphs">IN5217</text>
<text transform="translate(76.11 120.02) rotate(29.24) scale(0.18)" y="3.5" fill="#00BFC4" textLength="52" lengthAdjust="spacingAndGlyphs">IN5254</text>
<text transform="translate(75.1 121.87) rotate(28.18) scale(0.18)" y="3.5" fill="#F8766D" textLength="52" lengthAdjust="spacingAndGlyphs">TH5291</text>
<text transform="translate(74.12 123.73) rotate(27.12) scale(0.18)" y="3.5" fill="#00BFC4" textLength="52" lengthAdjust="spacingAndGlyphs">IN5328</text>
<text transform="translate(73.18 125.62) rotate(26.06) scale(0.18)" y="3.5" fill="#00BFC4" textLength="52" lengthAdjust="spacingAndGlyphs">IN5365</text>
<text transform="translate(72.27 127.52) rotate(25) scale(0.18)" y="3.5" fill="#00BFC4" textLength="52" lengthAdjust="spacingAndGlyphs">IN5402</text>
<text transform="translate(71.4 129.44) rotate(23.94) scale(0.18)" y="3.5" fill="#00BFC4" textLength="52" lengthAdjust="spacingAndGlyphs">IN5439</text>
<text transform="translate(70.56 131.37) rotate(22.88) scale(0.18)" y="3.5" fill="#00BFC4" textLength="52" lengthAdjust="spacingAndGlyphs">IN5476</text>
<text transform="translate(69.76 133.32) rotate(21.82) scale(0.18)" y="3.5" fill="#00BFC4" textLength="52" lengthAdjust="spacingAndGlyphs">IN5513</text>
<text transform="translate(68.99 135.29) rotate(20.76) scale(0.18)" y="3.5" fill="#00BFC4" textLength="52" lengthAdjust="spacingAndGlyphs">IN5550</text>
<text transform="translate(68.26 137.26) rotate(19.69) scale(0.18)" y="3.5" fill="#00BFC4" textLength="52" lengthAdjust="spacingAndGlyphs">IN5587</text>
<text transform="translate(67.57 139.26) rotate(18.63) scale(0.18)" y="3.5" fill="#00BFC4" textLength="52" lengthAdjust="spacingAndGlyphs">IN5624</text>
<text transform="translate(66.92 141.26) rotate(17.57) scale(0.18)" y="3.5" fill="#00BFC4" textLength="52" lengthAdjust="spacingAndGlyphs">IN5661</text>
<text transform="translate(66.3 143.27) rotate(16.51) scale(0.18)" y="3.5" fill="#00BFC4" textLength="52" lengthAdjust="spacingAndGlyphs">IN5698</text>
<text transform="translate(65.72 145.3) rotate(15.45) scale(0.18)" y="3.5" fill="#00BFC4" textLength="52" lengthAdjust="spacingAndGlyphs">IN5735</text>
<text transform="translate(65.18 147.34) rotate(14.39) scale(0.18)" y="3.5" fill="#00BFC4" textLength="52" lengthAdjust="spacingAndGlyphs">IN5772</text>
<text transform="translate(64.67 149.38) rotate(13.33) scale(0.18)" y="3.5" fill="#00BFC4" textLength="52" lengthAdjust="spacingAndGlyphs">IN5809</text>
<text transform="translate(64.2 151.44) rotate(12.27) scale(0.18)" y="3.5" fill="#00BFC4" textLength="52" lengthAdjust="spacingAndGlyphs">IN5846</text>
<text transform="translate(63.77 153.5) rotate(11.21) scale(0.18)" y="3.5" fill="#00BFC4" textLength="52" lengthAdjust="spacingAndGlyphs">IN5883</text>
<text transform="translate(63.38 155.57) rotate(10.15) scale(0.18)" y="3.5" fill="#00BFC4" textLength="52" lengthAdjust="spacingAndGlyphs">IN5920</text>
<text transform="translate(63.03 157.65) rotate(9.09) scale(0.18)" y="3.5" fill="#00BFC4" textLength="52" lengthAdjust="spacingAndGlyphs">IN5957</text>
<text transform="translate(62.72 159.74) rotate(8.03) scale(0.18)" y="3.5" fill="#F8766D" textLength="52" lengthAdjust="spacingAndGlyphs">TH5994</text>
<text transform="translate(62.44 161.83) rotate(6.97) scale(0.18)" y="3.5" fill="#00BFC4" textLength="52" lengthAdjust="spacingAndGlyphs">IN6031</text>
<text transform="translate(62.21 163.92) rotate(5.91) scale(0.18)" y="3.5" fill="#00BFC4" textLength="52" lengthAdjust="spacingAndGlyphs">IN6068</text>
<text transform="translate(62.01 166.02) rotate(4.85) scale(0.18)" y="3.5" fill="#00BFC4" textLength="52" lengthAdjust="spacingAndGlyphs">IN6105</text>
<text transform="translate(61.85 168.12) rotate(3.79) scale(0.18)" y="3.5" fill="#00BFC4" textLength="52" lengthAdjust="spacingAndGlyphs">IN6142</text>
<text transform="translate(61.73 170.22) rotate(2.73) scale(0.18)" y="3.5" fill="#00BFC4" textLength="52" lengthAdjust="spacingAndGlyphs">IN6179</text>
<text transform="translate(61.65 172.33) rotate(1.67) scale(0.18)" y="3.5" fill="#00BFC4" textLength="52" lengthAdjust="spacingAndGlyphs">IN6216</text>
<text transform="translate(61.61 174.44) rotate(0.61) scale(0.18)" y="3.5" fill="#00BFC4" textLength="52" lengthAdjust="spacingAndGlyphs">IN6253</text>
<text transform="translate(61.6 176.55) rotate(-0.45) scale(0.18)" y="3.5" fill="#F8766D" textLength="52" lengthAdjust="spacingAndGlyphs">TH6290</text>
<text transform="translate(61.64 178.65) rotate(-1.51) scale(0.18)" y="3.5" fill="#F8766D" textLength="52" lengthAdjust="spacingAndGlyphs">TH6327</text>
<text transform="translate(61.71 180.76) rotate(-2.57) scale(0.18)" y="3.5" fill="#F8766D" textLength="52" lengthAdjust="spacingAndGlyphs">TH6364</text>
<text transform="translate(61.83 182.86) rotate(-3.63) scale(0.18)" y="3.5" fill="#F8766D" textLength="52" lengthAdjust="spacingAndGlyphs">TH6401</text>
<text transform="translate(61.98 184.97) rotate(-4.69) scale(0.18)" y="3.5" fill="#F8766D" textLength="52" lengthAdjust="spacingAndGlyphs">TH6438</text>
<text transform="translate(62.17 187.07) rotate(-5.75) scale(0.18)" y="3.5" fill="#F8766D" textLength="52" lengthAdjust="spacingAndGlyphs">TH6475</text>
<text transform="translate(62.4 189.16) rotate(-6.81) scale(0.18)" y="3.5" fill="#F8766D" textLength="52" lengthAdjust="spacingAndGlyphs">TH6512</text>
<text transform="translate(62.67 191.25) rotate(-7.87) scale(0.18)" y="3.5" fill="#F8766D" textLength="52" lengthAdjust="spacingAndGlyphs">TH6549</text>
<text transform="translate(62.98 193.34) rotate(-8.93) scale(0.18)" y="3.5" fill="#00BFC4" textLength="52" lengthAdjust="spacingAndGlyphs">IN6586</text>
<text transform="translate(63.33 195.42) rotate(-9.99) scale(0.18)" y="3.5" fill="#00BFC4" textLength="52" lengthAdjust="spacingAndGlyphs">IN6623</text>
<text transform="translate(63.71 197.49) rotate(-11.05) scale(0.18)" y="3.5" fill="#00BFC4" textLength="52" lengthAdjust="spacingAndGlyphs">IN6660</text>
<text transform="translate(64.14 199.55) rotate(-12.11) scale(0.18)" y="3.5" fill="#00BFC4" textLength="52" lengthAdjust="spacingAndGlyphs">IN6697</text>
<text transform="translate(64.6 201.61) rotate(-13.17) scale(0.18)" y="3.5" fill="#F8766D" textLength="52" lengthAdjust="spacingAndGlyphs">TH6734</text>
<text transform="translate(65.1 203.66) rotate(-14.23) scale(0.18)" y="3.5" fill="#F8766D" textLength="52" lengthAdjust="spacingAndGlyphs">TH6771</text>
<text transform="translate(65.63 205.7) rotate(-15.29) scale(0.18)" y="3.5" fill="#F8766D" textLength="52" lengthAdjust="spacingAndGlyphs">TH6808</text>
<text transform="translate(66.21 207.72) rotate(-16.36) scale(0.18)" y="3.5" fill="#F8766D" textLength="52" lengthAdjust="spacingAndGlyphs">TH6845</text>
<text transform="translate(66.82 209.74) rotate(-17.42) scale(0.18)" y="3.5" fill="#F8766D" textLength="52" lengthAdjust="spacingAndGlyphs">TH6882</text>
<text transform="translate(67.47 211.75) rotate(-18.48) scale(0.18)" y="3.5" fill="#F8766D" textLength="52" lengthAdjust="spacingAndGlyphs">TH6919</text>
<text transform="translate(68.16 213.74) rotate(-19.54) scale(0.18)" y="3.5" fill="#F8766D" textLength="52" lengthAdjust="spacingAndGlyphs">TH6956</text>
<text transform="translate(68.88 215.72) rotate(-20.6) scale(0.18)" y="3.5" fill="#F8766D" textLength="52" lengthAdjust="spacingAndGlyphs">TH6993</text>
<text transform="translate(69.64 217.68) rotate(-21.66) scale(0.18)" y="3.5" fill="#F8766D" textLength="52" lengthAdjust="spacingAndGlyphs">TH7030</text>
<text transform="translate(70.44 219.64) rotate(-22.72) scale(0.18)" y="3.5" fill="#F8766D" textLength="52" lengthAdjust="spacingAndGlyphs">TH7067</text>
<text transform="translate(71.27 221.57) rotate(-23.78) scale(0.18)" y="3.5" fill="#F8766D" textLength="52" lengthAdjust="spacingAndGlyphs">TH7104</text>
<text transform="translate(72.14 223.49) rotate(-24.84) scale(0.18)" y="3.5" fill="#F8766D" textLength="52" lengthAdjust="spacingAndGlyphs">TH7141</text>
<text transform="translate(73.04 225.4) rotate(-25.9) scale(0.18)" y="3.5" fill="#F8766D" textLength="52" lengthAdjust="spacingAndGlyphs">TH7178</text>
<text transform="translate(73.98 227.29) rotate(-26.96) scale(0.18)" y="3.5" fill="#F8766D" textLength="52" lengthAdjust="spacingAndGlyphs">TH7215</text>
<text transform="translate(74.95 229.16) rotate(-28.02) scale(0.18)" y="3.5" fill="#F8766D" textLength="52" lengthAdjust="spacingAndGlyphs">TH7252</text>
<text transform="translate(75.96 231.01) rotate(-29.08) scale(0.18)" y="3.5" fill="#F8766D" textLength="52" lengthAdjust="spacingAndGlyphs">TH7289</text>
<text transform="translate(77 232.84) rotate(-30.14) scale(0.18)" y="3.5" fill="#F8766D" textLength="52" lengthAdjust="spacingAndGlyphs">TH7326</text>
<text transform="translate(78.07 234.65) rotate(-31.2) scale(0.18)" y="3.5" fill="#F8766D" textLength="52" lengthAdjust="spacingAndGlyphs">TH7363</text>
<text transform="translate(79.18 236.45) rotate(-32.26) scale(0.18)" y="3.5" fill="#F8766D" textLength="52" lengthAdjust="spacingAndGlyphs">TH7400</text>
<text transform="translate(80.32 238.22) rotate(-33.32) scale(0.18)" y="3.5" fill="#F8766D" textLength="52" lengthAdjust="spacingAndGlyphs">TH7437</text>
<text transform="translate(81.5 239.97) rotate(-34.38) scale(0.18)" y="3.5" fill="#F8766D" textLength="52" lengthAdjust="spacingAndGlyphs">TH7474</text>
<text transform="translate(82.7 241.7) rotate(-35.44) scale(0.18)" y="3.5" fill="#F8766D" textLength="52" lengthAdjust="spacingAndGlyphs">TH7511</text>
<text transform="translate(83.94 243.4) rotate(-36.5) scale(0.18)" y="3.5" fill="#F8766D" textLength="52" lengthAdjust="spacingAndGlyphs">TH7548</text>
<text transform="translate(85.21 245.08) rotate(-37.56) scale(0.18)" y="3.5" fill="#F8766D" textLength="52" lengthAdjust="spacingAndGlyphs">TH7585</text>
<text transform="translate(86.51 246.74) rotate(-38.62) scale(0.18)" y="3.5" fill="#F8766D" textLength="52" lengthAdjust="spacingAndGlyphs">TH7622</text>
<text transform="translate(87.84 248.38) rotate(-39.68) scale(0.18)" y="3.5" fill="#F8766D" textLength="52" lengthAdjust="spacingAndGlyphs">TH7659</text>
<text transform="translate(89.2 249.99) rotate(-40.74) scale(0.18)" y="3.5" fill="#F8766D" textLength="52" lengthAdjust="spacingAndGlyphs">TH7696</text>
<text transform="translate(90.59 251.57) rotate(-41.8) scale(0.18)" y="3.5" fill="#F8766D" textLength="52" lengthAdjust="spacingAndGlyphs">TH7733</text>
<text transform="translate(92.01 253.13) rotate(-42.86) scale(0.18)" y="3.5" fill="#F8766D" textLength="52" lengthAdjust="spacingAndGlyphs">TH7770</text>
<text transform="translate(93.46 254.66) rotate(-43.92) scale(0.18)" y="3.5" fill="#F8766D" textLength="52" lengthAdjust="spacingAndGlyphs">TH7807</text>
<text transform="translate(94.94 256.17) rotate(-44.98) scale(0.18)" y="3.5" fill="#F8766D" textLength="52" lengthAdjust="spacingAndGlyphs">TH7844</text>
<text transform="translate(96.44 257.64) rotate(-46.04) scale(0.18)" y="3.5" fill="#F8766D" textLength="52" lengthAdjust="spacingAndGlyphs">TH7881</text>
<text transform="translate(97.97 259.09) rotate(-47.1) scale(0.18)" y="3.5" fill="#F8766D" textLength="52" lengthAdjust="spacingAndGlyphs">TH7918</text>
<text transform="translate(99.53 260.51) rotate(-48.16) scale(0.18)" y="3.5" fill="#F8766D" textLength="52" lengthAdjust="spacingAndGlyphs">TH7955</text>
<text transform="translate(101.11 261.9) rotate(-49.22) scale(0.18)" y="3.5" fill="#F8766D" textLength="52" lengthAdjust="spacingAndGlyphs">TH7992</text>
<text transform="translate(102.72 263.27) rotate(-50.28) scale(0.18)" y="3.5" fill="#F8766D" textLength="52" lengthAdjust="spacingAndGlyphs">TH8029</text>
<text transform="translate(104.35 264.6) rotate(-51.35) scale(0.18)" y="3.5" fill="#F8766D" textLength="52" lengthAdjust="spacingAndGlyphs">TH8066</text>
<text transform="translate(106.01 265.9) rotate(-52.41) scale(0.18)" y="3.5" fill="#F8766D" textLength="52" lengthAdjust="spacingAndGlyphs">TH8103</text>
<text transform="translate(107.69 267.17) rotate(-53.47) scale(0.18)" y="3.5" fill="#F8766D" textLength="52" lengthAdjust="spacingAndGlyphs">TH8140</text>
<text transform="translate(109.4 268.41) rotate(-54.53) scale(0.18)" y="3.5" fill="#F8766D" textLength="52" lengthAdjust="spacingAndGlyphs">TH8177</text>
<text transform="translate(111.13 269.62) rotate(-55.59) scale(0.18)" y="3.5" fill="#00BFC4" textLength="52" lengthAdjust="spacingAndGlyphs">IN8214</text>
<text transform="translate(112.88 270.79) rotate(-56.65) scale(0.18)" y="3.5" fill="#00BFC4" textLength="52" lengthAdjust="spacingAndGlyphs">IN8251</text>
<text transform="translate(114.65 271.93) rotate(-57.71) scale(0.18)" y="3.5" fill="#00BFC4" textLength="52" lengthAdjust="spacingAndGlyphs">IN8288</text>
<text transform="translate(116.44 273.04) rotate(-58.77) scale(0.18)" y="3.5" fill="#F8766D" textLength="52" lengthAdjust="spacingAndGlyphs">TH8325</text>
<text transform="translate(118.25 274.12) rotate(-59.83) scale(0.18)" y="3.5" fill="#F8766D" textLength="52" lengthAdjust="spacingAndGlyphs">TH8362</text>
<text transform="translate(120.09 275.16) rotate(-60.89) scale(0.18)" y="3.5" fill="#F8766D" textLength="52" lengthAdjust="spacingAndGlyphs">TH8399</text>
<text transform="translate(121.94 276.17) rotate(-61.95) scale(0.18)" y="3.5" fill="#F8766D" textLength="52" lengthAdjust="spacingAndGlyphs">TH8436</text>
<text transform="translate(123.81 277.14) rotate(-63.01) scale(0.18)" y="3.5" fill="#F8766D" textLength="52" lengthAdjust="spacingAndGlyphs">TH8473</text>
<text transform="translate(125.69 278.08) rotate(-64.07) scale(0.18)" y="3.5" fill="#F8766D" textLength="52" lengthAdjust="spacingAndGlyphs">TH8510</text>
<text transform="translate(127.6 278.99) rotate(-65.13) scale(0.18)" y="3.5" fill="#00BFC4" textLength="52" lengthAdjust="spacingAndGlyphs">IN8547</text>
<text transform="translate(129.52 279.86) rotate(-66.19) scale(0.18)" y="3.5" fill="#00BFC4" textLength="52" lengthAdjust="spacingAndGlyphs">IN8584</text>
<text transform="translate(131.45 280.69) rotate(-67.25) scale(0.18)" y="3.5" fill="#00BFC4" textLength="52" lengthAdjust="spacingAndGlyphs">IN8621</text>
<text transform="translate(133.4 281.49) rotate(-68.31) scale(0.18)" y="3.5" fill="#00BFC4" textLength="52" lengthAdjust="spacingAndGlyphs">IN8658</text>
<text transform="translate(135.37 282.25) rotate(-69.37) scale(0.18)" y="3.5" fill="#F8766D" textLength="52" lengthAdjust="spacingAndGlyphs">TH8695</text>
<text transform="translate(137.35 282.97) rotate(-70.43) scale(0.18)" y="3.5" fill="#F8766D" textLength="52" lengthAdjust="spacingAndGlyphs">TH8732</text>
<text transform="translate(139.34 283.66) rotate(-71.49) scale(0.18)" y="3.5" fill="#00BFC4" textLength="52" lengthAdjust="spacingAndGlyphs">IN8769</text>
<text transform="translate(141.35 284.31) rotate(-72.55) scale(0.18)" y="3.5" fill="#00BFC4" textLength="52" lengthAdjust="spacingAndGlyphs">IN8806</text>
<text transform="translate(143.36 284.92) rotate(-73.61) scale(0.18)" y="3.5" fill="#00BFC4" textLength="52" lengthAdjust="spacingAndGlyphs">IN8843</text>
<text transform="translate(145.39 285.5) rotate(-74.67) scale(0.18)" y="3.5" fill="#00BFC4" textLength="52" lengthAdjust="spacingAndGlyphs">IN8880</text>
<text transform="translate(147.43 286.04) rotate(-75.73) scale(0.18)" y="3.5" fill="#00BFC4" textLength="52" lengthAdjust="spacingAndGlyphs">IN8917</text>
<text transform="translate(149.48 286.54) rotate(-76.79) scale(0.18)" y="3.5" fill="#00BFC4" textLength="52" lengthAdjust="spacingAndGlyphs">IN8954</text>
<text transform="translate(151.53 287) rotate(-77.85) scale(0.18)" y="3.5" fill="#00BFC4" textLength="52" lengthAdjust="spacingAndGlyphs">IN8991</text>
<text transform="translate(153.6 287.42) rotate(-78.91) scale(0.18)" y="3.5" fill="#00BFC4" textLength="52" lengthAdjust="spacingAndGlyphs">IN9028</text>
<text transform="translate(155.67 287.81) rotate(-79.97) scale(0.18)" y="3.5" fill="#F8766D" textLength="52" lengthAdjust="spacingAndGlyphs">TH9065</text>
<text transform="translate(157.75 288.16) rotate(-81.03) scale(0.18)" y="3.5" fill="#F8766D" textLength="52" lengthAdjust="spacingAndGlyphs">TH9102</text>
<text transform="translate(159.83 288.47) rotate(-82.09) scale(0.18)" y="3.5" fill="#F8766D" textLength="52" lengthAdjust="spacingAndGlyphs">TH9139</text>
<text transform="translate(161.92 288.74) rotate(-83.15) scale(0.18)" y="3.5" fill="#F8766D" textLength="52" lengthAdjust="spacingAndGlyphs">TH9176</text>
<text transform="translate(164.02 288.97) rotate(-84.21) scale(0.18)" y="3.5" fill="#F8766D" textLength="52" lengthAdjust="spacingAndGlyphs">TH9213</text>
<text transform="translate(166.12 289.16) rotate(-85.27) scale(0.18)" y="3.5" fill="#00BFC4" textLength="52" lengthAdjust="spacingAndGlyphs">IN9250</text>
<text transform="translate(168.22 289.32) rotate(-86.33) scale(0.18)" y="3.5" fill="#00BFC4" textLength="52" lengthAdjust="spacingAndGlyphs">IN9287</text>
<text transform="translate(170.32 289.43) rotate(-87.4) scale(0.18)" y="3.5" fill="#00BFC4" textLength="52" lengthAdjust="spacingAndGlyphs">IN9324</text>
<text transform="translate(172.43 289.51) rotate(-88.46) scale(0.18)" y="3.5" fill="#00BFC4" textLength="52" lengthAdjust="spacingAndGlyphs">IN9361</text>
<text transform="translate(174.54 289.55) rotate(-89.52) scale(0.18)" y="3.5" fill="#F8766D" textLength="52" lengthAdjust="spacingAndGlyphs">TH9398</text>
<text transform="translate(176.55 280.14) rotate(-270.58) scale(0.18)" y="3.5" fill="#00BFC4" textLength="52" lengthAdjust="spacingAndGlyphs">IN9435</text>
<text transform="translate(178.48 280.11) rotate(-271.64) scale(0.18)" y="3.5" fill="#F8766D" textLength="52" lengthAdjust="spacingAndGlyphs">TH9472</text>
<text transform="translate(180.42 280.03) rotate(-272.7) scale(0.18)" y="3.5" fill="#F8766D" textLength="52" lengthAdjust="spacingAndGlyphs">TH9509</text>
<text transform="translate(182.35 279.93) rotate(-273.76) scale(0.18)" y="3.5" fill="#00BFC4" textLength="52" lengthAdjust="spacingAndGlyphs">IN9546</text>
<text transform="translate(184.28 279.78) rotate(-274.82) scale(0.18)" y="3.5" fill="#F8766D" textLength="52" lengthAdjust="spacingAndGlyphs">TH9583</text>
<text transform="translate(186.2 279.6) rotate(-275.88) scale(0.18)" y="3.5" fill="#F8766D" textLength="52" lengthAdjust="spacingAndGlyphs">TH9620</text>
<text transform="translate(188.12 279.38) rotate(-276.94) scale(0.18)" y="3.5" fill="#F8766D" textLength="52" lengthAdjust="spacingAndGlyphs">TH9657</text>
<text transform="translate(190.04 279.13) rotate(-278) scale(0.18)" y="3.5" fill="#F8766D" textLength="52" lengthAdjust="spacingAndGlyphs">TH9694</text>
<text transform="translate(191.95 278.85) rotate(-279.06) scale(0.18)" y="3.5" fill="#F8766D" textLength="52" lengthAdjust="spacingAndGlyphs">TH9731</text>
<text transform="translate(193.86 278.52) rotate(-280.12) scale(0.18)" y="3.5" fill="#F8766D" textLength="52" lengthAdjust="spacingAndGlyphs">TH9768</text>
<text transform="translate(195.76 278.17) rotate(-281.18) scale(0.18)" y="3.5" fill="#00BFC4" textLength="52" lengthAdjust="spacingAndGlyphs">IN9805</text>
<text transform="translate(197.65 277.77) rotate(-282.24) scale(0.18)" y="3.5" fill="#00BFC4" textLength="52" lengthAdjust="spacingAndGlyphs">IN9842</text>
<text transform="translate(199.54 277.35) rotate(-283.3) scale(0.18)" y="3.5" fill="#F8766D" textLength="52" lengthAdjust="spacingAndGlyphs">TH9879</text>
<text transform="translate(201.42 276.89) rotate(-284.36) scale(0.18)" y="3.5" fill="#00BFC4" textLength="52" lengthAdjust="spacingAndGlyphs">IN9916</text>
<text transform="translate(203.29 276.39) rotate(-285.42) scale(0.18)" y="3.5" fill="#00BFC4" textLength="52" lengthAdjust="spacingAndGlyphs">IN9953</text>
<text transform="translate(205.15 275.86) rotate(-286.48) scale(0.18)" y="3.5" fill="#00BFC4" textLength="52" lengthAdjust="spacingAndGlyphs">IN0017</text>
<text transform="translate(206.99 275.29) rotate(-287.54) scale(0.18)" y="3.5" fill="#00BFC4" textLength="52" lengthAdjust="spacingAndGlyphs">IN0054</text>
<text transform="translate(208.83 274.69) rotate(-288.6) scale(0.18)" y="3.5" fill="#F8766D" textLength="52" lengthAdjust="spacingAndGlyphs">TH0091</text>
<text transform="translate(210.66 274.06) rotate(-289.66) scale(0.18)" y="3.5" fill="#F8766D" textLength="52" lengthAdjust="spacingAndGlyphs">TH0128</text>
<text transform="translate(212.48 273.39) rotate(-290.72) scale(0.18)" y="3.5" fill="#F8766D" textLength="52" lengthAdjust="spacingAndGlyphs">TH0165</text>
<text transform="translate(214.28 272.69) rotate(-291.78) scale(0.18)" y="3.5" fill="#F8766D" textLength="52" lengthAdjust="spacingAndGlyphs">TH0202</text>
<text transform="translate(216.07 271.95) rotate(-292.84) scale(0.18)" y="3.5" fill="#F8766D" textLength="52" lengthAdjust="spacingAndGlyphs">TH0239</text>
<text transform="translate(217.84 271.19) rotate(-293.9) scale(0.18)" y="3.5" fill="#F8766D" textLength="52" lengthAdjust="spacingAndGlyphs">TH0276</text>
<text transform="translate(219.6 270.39) rotate(-294.96) scale(0.18)" y="3.5" fill="#F8766D" textLength="52" lengthAdjust="spacingAndGlyphs">TH0313</text>
<text transform="translate(221.35 269.56) rotate(-296.02) scale(0.18)" y="3.5" fill="#00BFC4" textLength="52" lengthAdjust="spacingAndGlyphs">IN0350</text>
<text transform="translate(223.08 268.69) rotate(-297.08) scale(0.18)" y="3.5" fill="#F8766D" textLength="52" lengthAdjust="spacingAndGlyphs">TH0387</text>
<text transform="translate(224.79 267.79) rotate(-298.14) scale(0.18)" y="3.5" fill="#00BFC4" textLength="52" lengthAdjust="spacingAndGlyphs">IN0424</text>
<text transform="translate(226.49 266.87) rotate(-299.2) scale(0.18)" y="3.5" fill="#00BFC4" textLength="52" lengthAdjust="spacingAndGlyphs">IN0461</text>
<text transform="translate(228.17 265.91) rotate(-300.26) scale(0.18)" y="3.5" fill="#00BFC4" textLength="52" lengthAdjust="spacingAndGlyphs">IN0498</text>
<text transform="translate(229.83 264.92) rotate(-301.32) scale(0.18)" y="3.5" fill="#00BFC4" textLength="52" lengthAdjust="spacingAndGlyphs">IN0535</text>
<text transform="translate(231.47 263.9) rotate(-302.39) scale(0.18)" y="3.5" fill="#00BFC4" textLength="52" lengthAdjust="spacingAndGlyphs">IN0572</text>
<text transform="translate(233.09 262.85) rotate(-303.45) scale(0.18)" y="3.5" fill="#F8766D" textLength="52" lengthAdjust="spacingAndGlyphs">TH0609</text>
<text transform="translate(234.7 261.77) rotate(-304.51) scale(0.18)" y="3.5" fill="#F8766D" textLength="52" lengthAdjust="spacingAndGlyphs">TH0646</text>
<text transform="translate(236.28 260.66) rotate(-305.57) scale(0.18)" y="3.5" fill="#F8766D" textLength="52" lengthAdjust="spacingAndGlyphs">TH0683</text>
<text transform="translate(237.84 259.52) rotate(-306.63) scale(0.18)" y="3.5" fill="#F8766D" textLength="52" lengthAdjust="spacingAndGlyphs">TH0720</text>
<text transform="translate(239.39 258.35) rotate(-307.69) scale(0.18)" y="3.5" fill="#F8766D" textLength="52" lengthAdjust="spacingAndGlyphs">TH0757</text>
<text transform="translate(240.9 257.15) rotate(-308.75) scale(0.18)" y="3.5" fill="#F8766D" textLength="52" lengthAdjust="spacingAndGlyphs">TH0794</text>
<text transform="translate(242.4 255.93) rotate(-309.81) scale(0.18)" y="3.5" fill="#F8766D" textLength="52" lengthAdjust="spacingAndGlyphs">TH0831</text>
<text transform="translate(243.88 254.68) rotate(-310.87) scale(0.18)" y="3.5" fill="#00BFC4" textLength="52" lengthAdjust="spacingAndGlyphs">IN0868</text>
<text transform="translate(245.33 253.4) rotate(-311.93) scale(0.18)" y="3.5" fill="#00BFC4" textLength="52" lengthAdjust="spacingAndGlyphs">IN0905</text>
<text transform="translate(246.75 252.09) rotate(-312.99) scale(0.18)" y="3.5" fill="#00BFC4" textLength="52" lengthAdjust="spacingAndGlyphs">IN0942</text>
<text transform="translate(248.16 250.76) rotate(-314.05) scale(0.18)" y="3.5" fill="#00BFC4" textLength="52" lengthAdjust="spacingAndGlyphs">IN0979</text>
<text transform="translate(249.53 249.4) rotate(-315.11) scale(0.18)" y="3.5" fill="#00BFC4" textLength="52" lengthAdjust="spacingAndGlyphs">IN1016</text>
<text transform="translate(250.88 248.02) rotate(-316.17) scale(0.18)" y="3.5" fill="#00BFC4" textLength="52" lengthAdjust="spacingAndGlyphs">IN1053</text>
<text transform="translate(252.21 246.61) rotate(-317.23) scale(0.18)" y="3.5" fill="#00BFC4" textLength="52" lengthAdjust="spacingAndGlyphs">IN1090</text>
<text transform="translate(253.51 245.18) rotate(-318.29) scale(0.18)" y="3.5" fill="#F8766D" textLength="52" lengthAdjust="spacingAndGlyphs">TH1127</text>
<text transform="translate(254.78 243.73) rotate(-319.35) scale(0.18)" y="3.5" fill="#F8766D" textLength="52" lengthAdjust="spacingAndGlyphs">TH1164</text>
<text transform="translate(256.03 242.25) rotate(-320.41) scale(0.18)" y="3.5" fill="#F8766D" textLength="52" lengthAdjust="spacingAndGlyphs">TH1201</text>
<text transform="translate(257.25 240.74) rotate(-321.47) scale(0.18)" y="3.5" fill="#00BFC4" textLength="52" lengthAdjust="spacingAndGlyphs">IN1238</text>
<text transform="translate(258.44 239.22) rotate(-322.53) scale(0.18)" y="3.5" fill="#00BFC4" textLength="52" lengthAdjust="spacingAndGlyphs">IN1275</text>
<text transform="translate(259.6 237.68) rotate(-323.59) scale(0.18)" y="3.5" fill="#F8766D" textLength="52" lengthAdjust="spacingAndGlyphs">TH1312</text>
<text transform="translate(260.74 236.11) rotate(-324.65) scale(0.18)" y="3.5" fill="#00BFC4" textLength="52" lengthAdjust="spacingAndGlyphs">IN1349</text>
<text transform="translate(261.84 234.52) rotate(-325.71) scale(0.18)" y="3.5" fill="#00BFC4" textLength="52" lengthAdjust="spacingAndGlyphs">IN1386</text>
<text transform="translate(262.91 232.91) rotate(-326.77) scale(0.18)" y="3.5" fill="#00BFC4" textLength="52" lengthAdjust="spacingAndGlyphs">IN1423</text>
<text transform="translate(263.96 231.29) rotate(-327.83) scale(0.18)" y="3.5" fill="#00BFC4" textLength="52" lengthAdjust="spacingAndGlyphs">IN1460</text>
<text transform="translate(264.97 229.64) rotate(-328.89) scale(0.18)" y="3.5" fill="#F8766D" textLength="52" lengthAdjust="spacingAndGlyphs">TH1497</text>
<text transform="translate(265.96 227.97) rotate(-329.95) scale(0.18)" y="3.5" fill="#F8766D" textLength="52" lengthAdjust="spacingAndGlyphs">TH1534</text>
<text transform="translate(266.91 226.29) rotate(-331.01) scale(0.18)" y="3.5" fill="#00BFC4" textLength="52" lengthAdjust="spacingAndGlyphs">IN1571</text>
<text transform="translate(267.83 224.59) rotate(-332.07) scale(0.18)" y="3.5" fill="#F8766D" textLength="52" lengthAdjust="spacingAndGlyphs">TH1608</text>
<text transform="translate(268.72 222.87) rotate(-333.13) scale(0.18)" y="3.5" fill="#F8766D" textLength="52" lengthAdjust="spacingAndGlyphs">TH1645</text>
<text transform="translate(269.58 221.14) rotate(-334.19) scale(0.18)" y="3.5" fill="#F8766D" textLength="52" lengthAdjust="spacingAndGlyphs">TH1682</text>
<text transform="translate(270.4 219.39) rotate(-335.25) scale(0.18)" y="3.5" fill="#00BFC4" textLength="52" lengthAdjust="spacingAndGlyphs">IN1719</text>
<text transform="translate(271.2 217.63) rotate(-336.31) scale(0.18)" y="3.5" fill="#F8766D" textLength="52" lengthAdjust="spacingAndGlyphs">TH1756</text>
<text transform="translate(271.96 215.85) rotate(-337.37) scale(0.18)" y="3.5" fill="#00BFC4" textLength="52" lengthAdjust="spacingAndGlyphs">IN1793</text>
<text transform="translate(272.69 214.06) rotate(-338.44) scale(0.18)" y="3.5" fill="#00BFC4" textLength="52" lengthAdjust="spacingAndGlyphs">IN1830</text>
<text transform="translate(273.38 212.25) rotate(-339.5) scale(0.18)" y="3.5" fill="#00BFC4" textLength="52" lengthAdjust="spacingAndGlyphs">IN1867</text>
<text transform="translate(274.04 210.44) rotate(-340.56) scale(0.18)" y="3.5" fill="#F8766D" textLength="52" lengthAdjust="spacingAndGlyphs">TH1904</text>
<text transform="translate(274.67 208.61) rotate(-341.62) scale(0.18)" y="3.5" fill="#00BFC4" textLength="52" lengthAdjust="spacingAndGlyphs">IN1941</text>
<text transform="translate(275.26 206.77) rotate(-342.68) scale(0.18)" y="3.5" fill="#F8766D" textLength="52" lengthAdjust="spacingAndGlyphs">TH1978</text>
<text transform="translate(275.82 204.92) rotate(-343.74) scale(0.18)" y="3.5" fill="#F8766D" textLength="52" lengthAdjust="spacingAndGlyphs">TH2015</text>
<text transform="translate(276.34 203.05) rotate(-344.8) scale(0.18)" y="3.5" fill="#F8766D" textLength="52" lengthAdjust="spacingAndGlyphs">TH2052</text>
<text transform="translate(276.83 201.18) rotate(-345.86) scale(0.18)" y="3.5" fill="#F8766D" textLength="52" lengthAdjust="spacingAndGlyphs">TH2089</text>
<text transform="translate(277.29 199.3) rotate(-346.92) scale(0.18)" y="3.5" fill="#00BFC4" textLength="52" lengthAdjust="spacingAndGlyphs">IN2126</text>
<text transform="translate(277.71 197.42) rotate(-347.98) scale(0.18)" y="3.5" fill="#00BFC4" textLength="52" lengthAdjust="spacingAndGlyphs">IN2163</text>
<text transform="translate(278.09 195.52) rotate(-349.04) scale(0.18)" y="3.5" fill="#F8766D" textLength="52" lengthAdjust="spacingAndGlyphs">TH2200</text>
<text transform="translate(278.44 193.62) rotate(-350.1) scale(0.18)" y="3.5" fill="#F8766D" textLength="52" lengthAdjust="spacingAndGlyphs">TH2237</text>
<text transform="translate(278.76 191.71) rotate(-351.16) scale(0.18)" y="3.5" fill="#00BFC4" textLength="52" lengthAdjust="spacingAndGlyphs">IN2274</text>
<text transform="translate(279.04 189.8) rotate(-352.22) scale(0.18)" y="3.5" fill="#00BFC4" textLength="52" lengthAdjust="spacingAndGlyphs">IN2311</text>
<text transform="translate(279.28 187.88) rotate(-353.28) scale(0.18)" y="3.5" fill="#00BFC4" textLength="52" lengthAdjust="spacingAndGlyphs">IN2348</text>
<text transform="translate(279.49 185.96) rotate(-354.34) scale(0.18)" y="3.5" fill="#F8766D" textLength="52" lengthAdjust="spacingAndGlyphs">TH2385</text>
<text transform="translate(279.66 184.03) rotate(-355.4) scale(0.18)" y="3.5" fill="#F8766D" textLength="52" lengthAdjust="spacingAndGlyphs">TH2422</text>
</g>
<g fill="#7FC97F"><circle cx="130.59" cy="82.63" r="0.85"/><circle cx="128.87" cy="83.47" r="0.85"/><circle cx="127.17" cy="84.35" r="0.85"/><circle cx="125.49" cy="85.26" r="0.85"/><circle cx="123.83" cy="86.2" r="0.85"/><circle cx="122.18" cy="87.17" r="0.85"/><circle cx="120.55" cy="88.18" r="0.85"/><circle cx="118.94" cy="89.21" r="0.85"/><circle cx="117.35" cy="90.27" r="0.85"/><circle cx="115.78" cy="91.36" r="0.85"/><circle cx="114.24" cy="92.48" r="0.85"/><circle cx="112.71" cy="93.63" r="0.85"/><circle cx="111.2" cy="94.8" r="0.85"/><circle cx="109.71" cy="96.01" r="0.85"/><circle cx="108.25" cy="97.24" r="0.85"/><circle cx="106.81" cy="98.49" r="0.85"/><circle cx="105.4" cy="99.78" r="0.85"/><circle cx="104" cy="101.09" r="0.85"/><circle cx="102.64" cy="102.42" r="0.85"/><circle cx="101.29" cy="103.79" r="0.85"/><circle cx="99.98" cy="105.17" r="0.85"/><circle cx="98.69" cy="106.58" r="0.85"/><circle cx="97.42" cy="108.01" r="0.85"/><circle cx="96.18" cy="109.47" r="0.85"/></g>
<g fill="#BEAED4"><circle cx="93.61" cy="238.62" r="0.85"/><circle cx="94.79" cy="240.13" r="0.85"/><circle cx="96" cy="241.61" r="0.85"/><circle cx="97.23" cy="243.07" r="0.85"/></g>
<g fill="#FDC086"><circle cx="94.97" cy="110.95" r="0.85"/><circle cx="93.79" cy="112.45" r="0.85"/><circle cx="92.63" cy="113.97" r="0.85"/><circle cx="91.51" cy="115.52" r="0.85"/><circle cx="90.41" cy="117.08" r="0.85"/><circle cx="89.34" cy="118.67" r="0.85"/><circle cx="88.3" cy="120.27" r="0.85"/><circle cx="87.29" cy="121.89" r="0.85"/><circle cx="86.31" cy="123.54" r="0.85"/><circle cx="85.36" cy="125.19" r="0.85"/><circle cx="84.44" cy="126.87" r="0.85"/><circle cx="83.55" cy="128.56" r="0.85"/><circle cx="82.7" cy="130.27" r="0.85"/><circle cx="81.88" cy="132" r="0.85"/><circle cx="81.08" cy="133.74" r="0.85"/><circle cx="80.32" cy="135.49" r="0.85"/><circle cx="79.6" cy="137.26" r="0.85"/><circle cx="78.9" cy="139.04" r="0.85"/><circle cx="78.24" cy="140.84" r="0.85"/><circle cx="77.62" cy="142.64" r="0.85"/><circle cx="77.02" cy="144.46" r="0.85"/><circle cx="76.46" cy="146.29" r="0.85"/><circle cx="75.93" cy="148.12" r="0.85"/><circle cx="75.44" cy="149.97" r="0.85"/><circle cx="74.98" cy="151.83" r="0.85"/><circle cx="74.56" cy="153.69" r="0.85"/><circle cx="74.17" cy="155.56" r="0.85"/><circle cx="73.82" cy="157.44" r="0.85"/><circle cx="73.5" cy="159.33" r="0.85"/><circle cx="73.21" cy="161.22" r="0.85"/><circle cx="72.96" cy="163.11" r="0.85"/><circle cx="72.75" cy="165.01" r="0.85"/><circle cx="72.57" cy="166.91" r="0.85"/><circle cx="72.43" cy="168.82" r="0.85"/><circle cx="72.32" cy="170.73" r="0.85"/><circle cx="72.24" cy="172.64" r="0.85"/><circle cx="72.21" cy="174.55" r="0.85"/><circle cx="72.2" cy="176.46" r="0.85"/><circle cx="72.24" cy="178.37" r="0.85"/><circle cx="72.3" cy="180.28" r="0.85"/><circle cx="72.41" cy="182.19" r="0.85"/><circle cx="72.55" cy="184.1" r="0.85"/><circle cx="72.72" cy="186" r="0.85"/><circle cx="72.93" cy="187.9" r="0.85"/><circle cx="73.17" cy="189.8" r="0.85"/><circle cx="73.45" cy="191.69" r="0.85"/><circle cx="73.77" cy="193.58" r="0.85"/><circle cx="74.12" cy="195.46" r="0.85"/><circle cx="74.5" cy="197.33" r="0.85"/><circle cx="74.92" cy="199.19" r="0.85"/><circle cx="75.37" cy="201.05" r="0.85"/><circle cx="75.86" cy="202.9" r="0.85"/><circle cx="76.38" cy="204.74" r="0.85"/><circle cx="76.94" cy="206.57" r="0.85"/><circle cx="77.52" cy="208.39" r="0.85"/><circle cx="78.15" cy="210.19" r="0.85"/><circle cx="78.8" cy="211.99" r="0.85"/><circle cx="79.49" cy="213.77" r="0.85"/><circle cx="80.21" cy="215.54" r="0.85"/><circle cx="80.97" cy="217.3" r="0.85"/><circle cx="81.76" cy="219.04" r="0.85"/><circle cx="82.57" cy="220.77" r="0.85"/><circle cx="83.42" cy="222.48" r="0.85"/><circle cx="84.31" cy="224.18" r="0.85"/><circle cx="85.22" cy="225.86" r="0.85"/><circle cx="86.17" cy="227.52" r="0.85"/><circle cx="87.14" cy="229.16" r="0.85"/><circle cx="88.15" cy="230.79" r="0.85"/><circle cx="89.18" cy="232.39" r="0.85"/><circle cx="90.25" cy="233.98" r="0.85"/><circle cx="91.34" cy="235.55" r="0.85"/><circle cx="92.46" cy="237.1" r="0.85"/><circle cx="98.5" cy="244.51" r="0.85"/><circle cx="99.78" cy="245.92" r="0.85"/><circle cx="101.1" cy="247.31" r="0.85"/><circle cx="102.43" cy="248.67" r="0.85"/><circle cx="103.8" cy="250.01" r="0.85"/><circle cx="105.19" cy="251.33" r="0.85"/><circle cx="106.6" cy="252.61" r="0.85"/><circle cx="108.04" cy="253.88" r="0.85"/><circle cx="109.49" cy="255.11" r="0.85"/><circle cx="110.98" cy="256.32" r="0.85"/><circle cx="112.48" cy="257.5" r="0.85"/><circle cx="114.01" cy="258.65" r="0.85"/><circle cx="115.55" cy="259.78" r="0.85"/><circle cx="117.12" cy="260.87" r="0.85"/><circle cx="118.71" cy="261.94" r="0.85"/><circle cx="120.31" cy="262.97" r="0.85"/><circle cx="121.94" cy="263.98" r="0.85"/><circle cx="123.58" cy="264.95" r="0.85"/><circle cx="125.24" cy="265.9" r="0.85"/><circle cx="126.92" cy="266.81" r="0.85"/><circle cx="128.62" cy="267.7" r="0.85"/><circle cx="130.33" cy="268.55" r="0.85"/><circle cx="132.05" cy="269.37" r="0.85"/><circle cx="133.8" cy="270.16" r="0.85"/><circle cx="135.55" cy="270.91" r="0.85"/><circle cx="137.32" cy="271.64" r="0.85"/><circle cx="139.1" cy="272.33" r="0.85"/><circle cx="140.9" cy="272.98" r="0.85"/><circle cx="142.71" cy="273.61" r="0.85"/><circle cx="144.52" cy="274.2" r="0.85"/><circle cx="146.35" cy="274.75" r="0.85"/><circle cx="148.19" cy="275.28" r="0.85"/><circle cx="150.04" cy="275.76" r="0.85"/><circle cx="151.9" cy="276.22" r="0.85"/><circle cx="153.76" cy="276.64" r="0.85"/><circle cx="155.64" cy="277.02" r="0.85"/><circle cx="157.51" cy="277.37" r="0.85"/><circle cx="159.4" cy="277.69" r="0.85"/><circle cx="161.29" cy="277.97" r="0.85"/><circle cx="163.19" cy="278.21" r="0.85"/><circle cx="165.09" cy="278.42" r="0.85"/><circle cx="166.99" cy="278.6" r="0.85"/><circle cx="168.9" cy="278.74" r="0.85"/><circle cx="170.81" cy="278.84" r="0.85"/><circle cx="172.72" cy="278.91" r="0.85"/><circle cx="174.63" cy="278.95" r="0.85"/><circle cx="176.54" cy="278.94" r="0.85"/><circle cx="178.45" cy="278.91" r="0.85"/><circle cx="180.36" cy="278.84" r="0.85"/><circle cx="182.27" cy="278.73" r="0.85"/><circle cx="184.18" cy="278.59" r="0.85"/><circle cx="186.08" cy="278.41" r="0.85"/><circle cx="187.98" cy="278.19" r="0.85"/><circle cx="189.87" cy="277.95" r="0.85"/><circle cx="191.76" cy="277.66" r="0.85"/><circle cx="193.65" cy="277.34" r="0.85"/><circle cx="195.53" cy="276.99" r="0.85"/><circle cx="197.4" cy="276.6" r="0.85"/><circle cx="199.26" cy="276.18" r="0.85"/><circle cx="201.12" cy="275.72" r="0.85"/><circle cx="202.97" cy="275.23" r="0.85"/><circle cx="204.81" cy="274.71" r="0.85"/><circle cx="206.63" cy="274.15" r="0.85"/><circle cx="208.45" cy="273.55" r="0.85"/><circle cx="210.26" cy="272.93" r="0.85"/><circle cx="212.05" cy="272.27" r="0.85"/><circle cx="213.83" cy="271.57" r="0.85"/><circle cx="215.6" cy="270.85" r="0.85"/><circle cx="217.36" cy="270.09" r="0.85"/><circle cx="219.1" cy="269.3" r="0.85"/><circle cx="220.82" cy="268.48" r="0.85"/><circle cx="222.53" cy="267.62" r="0.85"/><circle cx="224.23" cy="266.74" r="0.85"/><circle cx="225.9" cy="265.82" r="0.85"/><circle cx="227.56" cy="264.87" r="0.85"/><circle cx="229.2" cy="263.89" r="0.85"/><circle cx="230.83" cy="262.88" r="0.85"/><circle cx="232.43" cy="261.84" r="0.85"/><circle cx="234.02" cy="260.78" r="0.85"/><circle cx="235.58" cy="259.68" r="0.85"/><circle cx="237.13" cy="258.55" r="0.85"/><circle cx="238.65" cy="257.4" r="0.85"/><circle cx="240.15" cy="256.22" r="0.85"/><circle cx="241.63" cy="255.01" r="0.85"/><circle cx="243.09" cy="253.77" r="0.85"/><circle cx="244.52" cy="252.5" r="0.85"/><circle cx="245.93" cy="251.21" r="0.85"/><circle cx="247.32" cy="249.9" r="0.85"/><circle cx="248.68" cy="248.56" r="0.85"/><circle cx="250.02" cy="247.19" r="0.85"/><circle cx="251.33" cy="245.8" r="0.85"/><circle cx="252.62" cy="244.38" r="0.85"/><circle cx="253.87" cy="242.94" r="0.85"/><circle cx="255.11" cy="241.48" r="0.85"/><circle cx="256.31" cy="240" r="0.85"/><circle cx="257.49" cy="238.49" r="0.85"/><circle cx="258.64" cy="236.96" r="0.85"/><circle cx="259.76" cy="235.41" r="0.85"/><circle cx="260.85" cy="233.84" r="0.85"/><circle cx="261.91" cy="232.26" r="0.85"/><circle cx="262.94" cy="230.65" r="0.85"/><circle cx="263.95" cy="229.02" r="0.85"/><circle cx="264.92" cy="227.37" r="0.85"/><circle cx="265.86" cy="225.71" r="0.85"/><circle cx="266.77" cy="224.03" r="0.85"/><circle cx="267.65" cy="222.33" r="0.85"/><circle cx="268.5" cy="220.62" r="0.85"/><circle cx="269.31" cy="218.89" r="0.85"/><circle cx="270.1" cy="217.15" r="0.85"/><circle cx="270.85" cy="215.39" r="0.85"/><circle cx="271.57" cy="213.62" r="0.85"/><circle cx="272.26" cy="211.83" r="0.85"/><circle cx="272.91" cy="210.04" r="0.85"/><circle cx="273.53" cy="208.23" r="0.85"/><circle cx="274.11" cy="206.41" r="0.85"/><circle cx="274.67" cy="204.58" r="0.85"/><circle cx="275.18" cy="202.74" r="0.85"/><circle cx="275.67" cy="200.89" r="0.85"/><circle cx="276.12" cy="199.03" r="0.85"/><circle cx="276.53" cy="197.17" r="0.85"/><circle cx="276.92" cy="195.29" r="0.85"/><circle cx="277.26" cy="193.41" r="0.85"/><circle cx="277.57" cy="191.53" r="0.85"/><circle cx="277.85" cy="189.64" r="0.85"/><circle cx="278.09" cy="187.74" r="0.85"/><circle cx="278.3" cy="185.84" r="0.85"/><circle cx="278.47" cy="183.93" r="0.85"/></g>
<g fill="#FFFF99"><circle cx="278.78" cy="173.38" r="0.85"/><circle cx="278.72" cy="171.47" r="0.85"/><circle cx="278.62" cy="169.56" r="0.85"/><circle cx="278.49" cy="167.65" r="0.85"/><circle cx="278.32" cy="165.75" r="0.85"/><circle cx="278.12" cy="163.85" r="0.85"/><circle cx="277.89" cy="161.95" r="0.85"/><circle cx="277.62" cy="160.06" r="0.85"/><circle cx="277.31" cy="158.17" r="0.85"/><circle cx="276.97" cy="156.29" r="0.85"/><circle cx="276.59" cy="154.41" r="0.85"/><circle cx="276.18" cy="152.55" r="0.85"/><circle cx="275.74" cy="150.69" r="0.85"/><circle cx="275.26" cy="148.84" r="0.85"/><circle cx="274.75" cy="147" r="0.85"/><circle cx="274.2" cy="145.16" r="0.85"/><circle cx="273.62" cy="143.34" r="0.85"/><circle cx="273" cy="141.53" r="0.85"/><circle cx="272.36" cy="139.73" r="0.85"/><circle cx="271.67" cy="137.95" r="0.85"/><circle cx="270.96" cy="136.17" r="0.85"/><circle cx="270.21" cy="134.42" r="0.85"/><circle cx="269.43" cy="132.67" r="0.85"/><circle cx="268.62" cy="130.94" r="0.85"/><circle cx="267.78" cy="129.22" r="0.85"/><circle cx="266.9" cy="127.52" r="0.85"/><circle cx="266" cy="125.84" r="0.85"/><circle cx="265.06" cy="124.17" r="0.85"/><circle cx="264.09" cy="122.53" r="0.85"/><circle cx="263.09" cy="120.9" r="0.85"/><circle cx="262.07" cy="119.28" r="0.85"/><circle cx="261.01" cy="117.69" r="0.85"/><circle cx="259.92" cy="116.12" r="0.85"/><circle cx="258.81" cy="114.57" r="0.85"/><circle cx="257.66" cy="113.04" r="0.85"/><circle cx="256.49" cy="111.53" r="0.85"/><circle cx="255.29" cy="110.04" r="0.85"/><circle cx="254.06" cy="108.57" r="0.85"/><circle cx="252.81" cy="107.13" r="0.85"/><circle cx="251.52" cy="105.71" r="0.85"/><circle cx="250.22" cy="104.32" r="0.85"/><circle cx="248.88" cy="102.95" r="0.85"/><circle cx="247.53" cy="101.6" r="0.85"/><circle cx="246.14" cy="100.28" r="0.85"/><circle cx="244.74" cy="98.99" r="0.85"/><circle cx="243.31" cy="97.72" r="0.85"/><circle cx="241.85" cy="96.48" r="0.85"/><circle cx="240.38" cy="95.26" r="0.85"/><circle cx="238.88" cy="94.08" r="0.85"/><circle cx="237.36" cy="92.92" r="0.85"/><circle cx="235.82" cy="91.79" r="0.85"/><circle cx="234.25" cy="90.69" r="0.85"/><circle cx="232.67" cy="89.61" r="0.85"/><circle cx="231.07" cy="88.57" r="0.85"/><circle cx="229.45" cy="87.56" r="0.85"/><circle cx="227.81" cy="86.57" r="0.85"/><circle cx="226.15" cy="85.62" r="0.85"/><circle cx="224.48" cy="84.7" r="0.85"/></g>
<g fill="#386CB0"><circle cx="222.79" cy="83.81" r="0.85"/><circle cx="221.08" cy="82.95" r="0.85"/><circle cx="219.36" cy="82.12" r="0.85"/><circle cx="217.62" cy="81.33" r="0.85"/><circle cx="215.86" cy="80.56" r="0.85"/><circle cx="214.1" cy="79.83" r="0.85"/><circle cx="212.32" cy="79.13" r="0.85"/><circle cx="210.53" cy="78.47" r="0.85"/><circle cx="208.72" cy="77.84" r="0.85"/><circle cx="206.91" cy="77.24" r="0.85"/><circle cx="205.08" cy="76.68" r="0.85"/><circle cx="203.24" cy="76.15" r="0.85"/><circle cx="201.4" cy="75.65" r="0.85"/><circle cx="199.54" cy="75.19" r="0.85"/><circle cx="197.68" cy="74.76" r="0.85"/><circle cx="195.81" cy="74.37" r="0.85"/><circle cx="193.93" cy="74.01" r="0.85"/><circle cx="192.05" cy="73.68" r="0.85"/><circle cx="190.16" cy="73.4" r="0.85"/><circle cx="188.26" cy="73.14" r="0.85"/><circle cx="186.36" cy="72.92" r="0.85"/><circle cx="184.46" cy="72.74" r="0.85"/><circle cx="182.55" cy="72.59" r="0.85"/><circle cx="180.65" cy="72.48" r="0.85"/><circle cx="178.74" cy="72.4" r="0.85"/><circle cx="176.82" cy="72.36" r="0.85"/><circle cx="174.91" cy="72.35" r="0.85"/><circle cx="173" cy="72.38" r="0.85"/><circle cx="171.09" cy="72.44" r="0.85"/><circle cx="169.18" cy="72.54" r="0.85"/><circle cx="167.28" cy="72.68" r="0.85"/><circle cx="165.37" cy="72.85" r="0.85"/><circle cx="163.47" cy="73.05" r="0.85"/><circle cx="161.57" cy="73.29" r="0.85"/><circle cx="159.68" cy="73.57" r="0.85"/><circle cx="157.8" cy="73.88" r="0.85"/><circle cx="155.92" cy="74.22" r="0.85"/><circle cx="154.04" cy="74.6" r="0.85"/><circle cx="152.18" cy="75.02" r="0.85"/><circle cx="150.32" cy="75.47" r="0.85"/><circle cx="148.47" cy="75.95" r="0.85"/><circle cx="146.63" cy="76.47" r="0.85"/><circle cx="144.8" cy="77.02" r="0.85"/><circle cx="142.98" cy="77.6" r="0.85"/><circle cx="141.17" cy="78.22" r="0.85"/><circle cx="139.37" cy="78.87" r="0.85"/><circle cx="137.59" cy="79.56" r="0.85"/><circle cx="135.82" cy="80.28" r="0.85"/><circle cx="134.06" cy="81.03" r="0.85"/><circle cx="132.31" cy="81.81" r="0.85"/></g>
<path fill="none" stroke="#3a3a3a" stroke-width="0.4" d="M175.5 175.65L265.04 170.26M265.16 172.85A89.7 89.7 0 0 0 264.84 167.67M265.16 172.85L275.35 172.53M275.38 173.45A99.9 99.9 0 0 0 275.32 171.6M275.38 173.45L278.78 173.38M275.32 171.6L278.72 171.47M264.84 167.67L268.23 167.37M268.38 169.3A93.1 93.1 0 0 0 268.04 165.44M268.38 169.3L275.17 168.84M275.23 169.76A99.9 99.9 0 0 0 275.1 167.91M275.23 169.76L278.62 169.56M275.1 167.91L278.49 167.65M268.04 165.44L271.42 165.07M271.56 166.4A96.5 96.5 0 0 0 271.26 163.74M271.56 166.4L278.32 165.75M271.26 163.74L274.64 163.32M274.75 164.23A99.9 99.9 0 0 0 274.52 162.4M274.75 164.23L278.12 163.85M274.52 162.4L277.89 161.95M175.5 175.65L176.96 174.71M177.19 175.28A1.73 1.73 0 0 0 176.54 174.26M177.19 175.28L253.14 158.55M254.09 163.65A79.5 79.5 0 0 0 251.86 153.53M254.09 163.65L277.62 160.06M251.86 153.53L255.13 152.59M257.07 160.87A82.9 82.9 0 0 0 252.34 144.55M257.07 160.87L273.8 157.83M273.96 158.74A99.9 99.9 0 0 0 273.63 156.93M273.96 158.74L277.31 158.17M273.63 156.93L276.97 156.29M252.34 144.55L255.5 143.27M258.52 152.1A86.3 86.3 0 0 0 251.53 134.83M258.52 152.1L261.79 151.17M262.97 155.79A89.7 89.7 0 0 0 260.37 146.61M262.97 155.79L266.29 155.04M266.61 156.51A93.1 93.1 0 0 0 265.94 153.57M266.61 156.51L276.59 154.41M265.94 153.57L269.25 152.76M269.56 154.07A96.5 96.5 0 0 0 268.92 151.47M269.56 154.07L276.18 152.55M268.92 151.47L272.21 150.61M272.44 151.51A99.9 99.9 0 0 0 271.98 149.72M272.44 151.51L275.74 150.69M271.98 149.72L275.26 148.84M260.37 146.61L263.59 145.51M264.58 148.59A93.1 93.1 0 0 0 262.49 142.47M264.58 148.59L267.83 147.6M268.21 148.88A96.5 96.5 0 0 0 267.43 146.32M268.21 148.88L274.75 147M267.43 146.32L270.67 145.29M270.95 146.17A99.9 99.9 0 0 0 270.39 144.41M270.95 146.17L274.2 145.16M270.39 144.41L273.62 143.34M262.49 142.47L265.67 141.26M266.29 142.94A96.5 96.5 0 0 0 265.01 139.6M266.29 142.94L269.48 141.78M269.79 142.66A99.9 99.9 0 0 0 269.17 140.92M269.79 142.66L273 141.53M269.17 140.92L272.36 139.73M265.01 139.6L268.17 138.33M268.51 139.19A99.9 99.9 0 0 0 267.82 137.47M268.51 139.19L271.67 137.95M267.82 137.47L270.96 136.17M251.53 134.83L254.53 133.22M256.89 137.95A89.7 89.7 0 0 0 251.89 128.63M256.89 137.95L259.98 136.52M260.86 138.49A93.1 93.1 0 0 0 259.05 134.58M260.86 138.49L270.21 134.42M259.05 134.58L262.1 133.08M262.88 134.69A96.5 96.5 0 0 0 261.3 131.48M262.88 134.69L265.95 133.25M266.34 134.08A99.9 99.9 0 0 0 265.56 132.41M266.34 134.08L269.43 132.67M265.56 132.41L268.62 130.94M261.3 131.48L264.32 129.93M264.74 130.75A99.9 99.9 0 0 0 263.9 129.11M264.74 130.75L267.78 129.22M263.9 129.11L266.9 127.52M251.89 128.63L254.79 126.85M256.43 129.63A93.1 93.1 0 0 0 253.05 124.13M256.43 129.63L259.39 127.95M260.04 129.12A96.5 96.5 0 0 0 258.72 126.79M260.04 129.12L266 125.84M258.72 126.79L261.65 125.07M262.11 125.87A99.9 99.9 0 0 0 261.18 124.27M262.11 125.87L265.06 124.17M261.18 124.27L264.09 122.53M253.05 124.13L255.88 122.25M256.85 123.75A96.5 96.5 0 0 0 254.88 120.77M256.85 123.75L259.72 121.92M260.21 122.7A99.9 99.9 0 0 0 259.22 121.14M260.21 122.7L263.09 120.9M259.22 121.14L262.07 119.28M254.88 120.77L257.67 118.84M258.19 119.6A99.9 99.9 0 0 0 257.14 118.08M258.19 119.6L261.01 117.69M257.14 118.08L259.92 116.12M176.54 174.26L177.56 172.91M178.03 173.34A3.43 3.43 0 0 0 177.01 172.57M178.03 173.34L234.23 122.06M237.77 126.23A79.5 79.5 0 0 0 230.4 118.15M237.77 126.23L245.76 119.89M247.34 121.94A89.7 89.7 0 0 0 244.12 117.88M247.34 121.94L255.51 115.84M256.06 116.58A99.9 99.9 0 0 0 254.96 115.1M256.06 116.58L258.81 114.57M254.96 115.1L257.66 113.04M244.12 117.88L246.72 115.69M247.95 117.19A93.1 93.1 0 0 0 245.46 114.22M247.95 117.19L253.25 112.92M253.82 113.64A99.9 99.9 0 0 0 252.66 112.2M253.82 113.64L256.49 111.53M252.66 112.2L255.29 110.04M245.46 114.22L248.01 111.98M248.89 112.99A96.5 96.5 0 0 0 247.12 110.98M248.89 112.99L254.06 108.57M247.12 110.98L249.64 108.7M250.26 109.39A99.9 99.9 0 0 0 249.02 108.01M250.26 109.39L252.81 107.13M249.02 108.01L251.52 105.71M230.4 118.15L232.75 115.69M234.66 117.58A82.9 82.9 0 0 0 230.78 113.87M234.66 117.58L244.37 108.05M245.3 109.01A96.5 96.5 0 0 0 243.42 107.1M245.3 109.01L250.22 104.32M243.42 107.1L245.82 104.69M246.47 105.34A99.9 99.9 0 0 0 245.16 104.04M246.47 105.34L248.88 102.95M245.16 104.04L247.53 101.6M230.78 113.87L233.05 111.34M234.52 112.69A86.3 86.3 0 0 0 231.54 110.02M234.52 112.69L246.14 100.28M231.54 110.02L233.75 107.44M235.62 109.08A89.7 89.7 0 0 0 231.84 105.85M235.62 109.08L244.74 98.99M231.84 105.85L233.97 103.2M235.96 104.85A93.1 93.1 0 0 0 231.94 101.61M235.96 104.85L240.37 99.68M241.07 100.28A99.9 99.9 0 0 0 239.67 99.08M241.07 100.28L243.31 97.72M239.67 99.08L241.85 96.48M231.94 101.61L234 98.9M235.41 100A96.5 96.5 0 0 0 232.57 97.83M235.41 100L237.52 97.33M238.24 97.91A99.9 99.9 0 0 0 236.79 96.76M238.24 97.91L240.38 95.26M236.79 96.76L238.88 94.08M232.57 97.83L234.58 95.09M235.32 95.64A99.9 99.9 0 0 0 233.83 94.55M235.32 95.64L237.36 92.92M233.83 94.55L235.82 91.79M177.01 172.57L177.64 171.28M178.13 171.55A4.87 4.87 0 0 0 177.13 171.06M178.13 171.55L223.93 100.15M225.83 101.4A89.7 89.7 0 0 0 221.99 98.94M225.83 101.4L231.56 92.96M232.32 93.48A99.9 99.9 0 0 0 230.79 92.45M232.32 93.48L234.25 90.69M230.79 92.45L232.67 89.61M221.99 98.94L223.75 96.03M225.58 97.17A93.1 93.1 0 0 0 221.9 94.94M225.58 97.17L231.07 88.57M221.9 94.94L223.59 91.99M225.13 92.89A96.5 96.5 0 0 0 222.04 91.11M225.13 92.89L226.88 89.98M227.67 90.46A99.9 99.9 0 0 0 226.09 89.51M227.67 90.46L229.45 87.56M226.09 89.51L227.81 86.57M222.04 91.11L223.68 88.13M224.49 88.58A99.9 99.9 0 0 0 222.87 87.69M224.49 88.58L226.15 85.62M222.87 87.69L224.48 84.7M177.13 171.06L177.62 169.68M178.3 169.96A6.34 6.34 0 0 0 176.91 169.47M178.3 169.96L215.17 95.2M216.56 95.9A89.7 89.7 0 0 0 213.77 94.52M216.56 95.9L222.79 83.81M213.77 94.52L215.22 91.45M216.58 92.1A93.1 93.1 0 0 0 213.85 90.82M216.58 92.1L221.08 82.95M213.85 90.82L215.25 87.72M216.47 88.28A96.5 96.5 0 0 0 214.03 87.17M216.47 88.28L219.36 82.12M214.03 87.17L215.39 84.06M216.23 84.43A99.9 99.9 0 0 0 214.54 83.69M216.23 84.43L217.62 81.33M214.54 83.69L215.86 80.56M176.91 169.47L177.24 168.01M178.12 168.26A7.84 7.84 0 0 0 176.33 167.85M178.12 168.26L205.52 91.12M208.25 92.14A89.7 89.7 0 0 0 202.77 90.2M208.25 92.14L211.97 82.64M212.83 82.99A99.9 99.9 0 0 0 211.11 82.31M212.83 82.99L214.1 79.83M211.11 82.31L212.32 79.13M202.77 90.2L203.81 86.96M206.26 87.78A93.1 93.1 0 0 0 201.33 86.21M206.26 87.78L208.5 81.36M209.37 81.67A99.9 99.9 0 0 0 207.63 81.06M209.37 81.67L210.53 78.47M207.63 81.06L208.72 77.84M201.33 86.21L202.28 82.94M203.99 83.45A96.5 96.5 0 0 0 200.56 82.46M203.99 83.45L204.99 80.2M205.87 80.48A99.9 99.9 0 0 0 204.11 79.93M205.87 80.48L206.91 77.24M204.11 79.93L205.08 76.68M200.56 82.46L201.44 79.18M202.33 79.42A99.9 99.9 0 0 0 200.54 78.94M202.33 79.42L203.24 76.15M200.54 78.94L201.4 75.65M176.33 167.85L176.49 166.36M177.52 166.53A9.34 9.34 0 0 0 175.45 166.31M177.52 166.53L194.86 88.06M196.38 88.41A89.7 89.7 0 0 0 193.34 87.74M196.38 88.41L199.54 75.19M193.34 87.74L194.01 84.41M195.49 84.72A93.1 93.1 0 0 0 192.53 84.12M195.49 84.72L197.68 74.76M192.53 84.12L193.16 80.78M194.47 81.03A96.5 96.5 0 0 0 191.84 80.54M194.47 81.03L195.81 74.37M191.84 80.54L192.41 77.19M193.32 77.35A99.9 99.9 0 0 0 191.5 77.04M193.32 77.35L193.93 74.01M191.5 77.04L192.05 73.68M175.45 166.31L175.45 164.88M176.51 164.93A10.77 10.77 0 0 0 174.39 164.94M176.51 164.93L184.22 82.96M187.43 83.32A93.1 93.1 0 0 0 181 82.71M187.43 83.32L187.86 79.95M189.19 80.13A96.5 96.5 0 0 0 186.54 79.78M189.19 80.13L190.16 73.4M186.54 79.78L186.92 76.41M187.84 76.52A99.9 99.9 0 0 0 186.01 76.3M187.84 76.52L188.26 73.14M186.01 76.3L186.36 72.92M181 82.71L181.2 79.32M182.98 79.44A96.5 96.5 0 0 0 179.42 79.23M182.98 79.44L183.24 76.05M184.17 76.13A99.9 99.9 0 0 0 182.32 75.98M184.17 76.13L184.46 72.74M182.32 75.98L182.55 72.59M179.42 79.23L179.55 75.83M180.48 75.87A99.9 99.9 0 0 0 178.63 75.8M180.48 75.87L180.65 72.48M178.63 75.8L178.74 72.4M174.39 164.94L174.26 163.75M175.4 163.69A11.96 11.96 0 0 0 173.14 163.92M175.4 163.69L174.76 89.35M176.61 89.36A86.3 86.3 0 0 0 172.91 89.39M176.61 89.36L176.82 72.36M172.91 89.39L172.81 85.99M174.99 85.95A89.7 89.7 0 0 0 170.64 86.08M174.99 85.95L174.91 72.35M170.64 86.08L170.45 82.69M172.39 82.6A93.1 93.1 0 0 0 168.52 82.81M172.39 82.6L172.16 75.81M173.08 75.78A99.9 99.9 0 0 0 171.24 75.84M173.08 75.78L173 72.38M171.24 75.84L171.09 72.44M168.52 82.81L168.26 79.42M169.6 79.33A96.5 96.5 0 0 0 166.93 79.53M169.6 79.33L169.18 72.54M166.93 79.53L166.63 76.14M167.55 76.07A99.9 99.9 0 0 0 165.7 76.23M167.55 76.07L167.28 72.68M165.7 76.23L165.37 72.85M173.14 163.92L172.94 162.93M173.81 162.79A12.97 12.97 0 0 0 172.08 163.14M173.81 162.79L162.93 79.97M164.26 79.81A96.5 96.5 0 0 0 161.61 80.16M164.26 79.81L163.47 73.05M161.61 80.16L161.12 76.79M162.03 76.66A99.9 99.9 0 0 0 160.2 76.93M162.03 76.66L161.57 73.29M160.2 76.93L159.68 73.57M172.08 163.14L171.89 162.43M172.93 162.19A13.7 13.7 0 0 0 170.86 162.76M172.93 162.19L158.06 84.2M159.54 83.93A93.1 93.1 0 0 0 156.58 84.49M159.54 83.93L157.8 73.88M156.58 84.49L155.89 81.16M157.21 80.9A96.5 96.5 0 0 0 154.58 81.44M157.21 80.9L155.92 74.22M154.58 81.44L153.85 78.13M154.75 77.93A99.9 99.9 0 0 0 152.94 78.33M154.75 77.93L154.04 74.6M152.94 78.33L152.18 75.02M170.86 162.76L170.58 161.97M171.76 161.6A14.54 14.54 0 0 0 169.43 162.44M171.76 161.6L150.68 82.4M151.98 82.06A96.5 96.5 0 0 0 149.39 82.75M151.98 82.06L150.32 75.47M149.39 82.75L148.47 79.48M149.36 79.23A99.9 99.9 0 0 0 147.58 79.73M149.36 79.23L148.47 75.95M147.58 79.73L146.63 76.47M169.43 162.44L169.05 161.61M170.67 160.98A15.45 15.45 0 0 0 167.52 162.43M170.67 160.98L146.39 87.22M147.83 86.76A93.1 93.1 0 0 0 144.97 87.7M147.83 86.76L144.8 77.02M144.97 87.7L143.85 84.49M145.12 84.06A96.5 96.5 0 0 0 142.59 84.94M145.12 84.06L142.98 77.6M142.59 84.94L141.43 81.74M142.3 81.43A99.9 99.9 0 0 0 140.56 82.06M142.3 81.43L141.17 78.22M140.56 82.06L139.37 78.87M167.52 162.43L166.9 161.4M168.82 160.4A16.65 16.65 0 0 0 165.11 162.64M168.82 160.4L140.88 96.6M143.83 95.37A86.3 86.3 0 0 0 137.98 97.93M143.83 95.37L137.59 79.56M137.98 97.93L136.5 94.87M140.28 93.16A89.7 89.7 0 0 0 132.8 96.76M140.28 93.16L136.27 83.77M137.12 83.42A99.9 99.9 0 0 0 135.42 84.14M137.12 83.42L135.82 80.28M135.42 84.14L134.06 81.03M132.8 96.76L131.19 93.77M134.25 92.19A93.1 93.1 0 0 0 128.19 95.47M134.25 92.19L132.74 89.14M134.35 88.36A96.5 96.5 0 0 0 131.15 89.95M134.35 88.36L132.9 85.29M133.74 84.9A99.9 99.9 0 0 0 132.06 85.69M133.74 84.9L132.31 81.81M132.06 85.69L130.59 82.63M131.15 89.95L129.58 86.93M130.41 86.51A99.9 99.9 0 0 0 128.76 87.36M130.41 86.51L128.87 83.47M128.76 87.36L127.17 84.35M128.19 95.47L126.46 92.54M128.01 91.65A96.5 96.5 0 0 0 124.93 93.46M128.01 91.65L126.33 88.69M127.14 88.24A99.9 99.9 0 0 0 125.53 89.15M127.14 88.24L125.49 85.26M125.53 89.15L123.83 86.2M124.93 93.46L123.15 90.57M123.94 90.09A99.9 99.9 0 0 0 122.36 91.05M123.94 90.09L122.18 87.17M122.36 91.05L120.55 88.18M165.11 162.64L164.25 161.55M165.38 160.72A18.04 18.04 0 0 0 163.18 162.47M165.38 160.72L123.27 98.58M124.53 97.74A93.1 93.1 0 0 0 122.03 99.43M124.53 97.74L118.94 89.21M122.03 99.43L120.08 96.65M121.18 95.89A96.5 96.5 0 0 0 118.99 97.43M121.18 95.89L117.35 90.27M118.99 97.43L117 94.67M117.75 94.13A99.9 99.9 0 0 0 116.25 95.22M117.75 94.13L115.78 91.36M116.25 95.22L114.24 92.48M163.18 162.47L162.61 161.87M163.79 160.85A18.87 18.87 0 0 0 161.52 162.97M163.79 160.85L117.72 102.65M118.91 101.73A93.1 93.1 0 0 0 116.54 103.6M118.91 101.73L112.71 93.63M116.54 103.6L114.39 100.97M115.43 100.12A96.5 96.5 0 0 0 113.36 101.82M115.43 100.12L111.2 94.8M113.36 101.82L111.17 99.22M111.88 98.63A99.9 99.9 0 0 0 110.47 99.82M111.88 98.63L109.71 96.01M110.47 99.82L108.25 97.24M161.52 162.97L160.8 162.32M162.05 161.06A19.84 19.84 0 0 0 159.67 163.68M162.05 161.06L114.7 109.7M115.86 108.65A89.7 89.7 0 0 0 113.57 110.76M115.86 108.65L106.81 98.49M113.57 110.76L111.22 108.3M112.32 107.27A93.1 93.1 0 0 0 110.14 109.35M112.32 107.27L105.4 99.78M110.14 109.35L107.75 106.93M108.71 106A96.5 96.5 0 0 0 106.8 107.88M108.71 106L104 101.09M106.8 107.88L104.38 105.49M105.04 104.84A99.9 99.9 0 0 0 103.74 106.15M105.04 104.84L102.64 102.42M103.74 106.15L101.29 103.79M159.67 163.68L158.42 162.73M159.61 161.29A21.42 21.42 0 0 0 157.36 164.27M159.61 161.29L106.42 113.24M107.43 112.13A93.1 93.1 0 0 0 105.41 114.37M107.43 112.13L99.98 105.17M105.41 114.37L102.85 112.13M103.74 111.13A96.5 96.5 0 0 0 101.98 113.14M103.74 111.13L98.69 106.58M101.98 113.14L99.39 110.94M99.99 110.24A99.9 99.9 0 0 0 98.79 111.65M99.99 110.24L97.42 108.01M98.79 111.65L96.18 109.47M157.36 164.27L156.06 163.45M157.36 161.59A22.95 22.95 0 0 0 154.95 165.44M157.36 161.59L104.61 120.69M105.57 119.47A89.7 89.7 0 0 0 103.67 121.93M105.57 119.47L94.97 110.95M103.67 121.93L100.94 119.89M101.86 118.69A93.1 93.1 0 0 0 100.05 121.11M101.86 118.69L93.79 112.45M100.05 121.11L97.3 119.11M98.09 118.03A96.5 96.5 0 0 0 96.52 120.2M98.09 118.03L92.63 113.97M96.52 120.2L93.74 118.25M94.27 117.5A99.9 99.9 0 0 0 93.21 119.01M94.27 117.5L91.51 115.52M93.21 119.01L90.41 117.08M154.95 165.44L153.38 164.66M154.66 162.38A24.7 24.7 0 0 0 152.34 167.06M154.66 162.38L99.83 127.47M100.68 126.17A89.7 89.7 0 0 0 99.01 128.79M100.68 126.17L89.34 118.67M99.01 128.79L96.11 127.02M96.91 125.74A93.1 93.1 0 0 0 95.33 128.31M96.91 125.74L88.3 120.27M95.33 128.31L92.41 126.58M93.1 125.43A96.5 96.5 0 0 0 91.73 127.74M93.1 125.43L87.29 121.89M91.73 127.74L88.78 126.05M89.24 125.25A99.9 99.9 0 0 0 88.33 126.86M89.24 125.25L86.31 123.54M88.33 126.86L85.36 125.19M152.34 167.06L150.59 166.41M151.86 163.53A26.57 26.57 0 0 0 149.68 169.42M151.86 163.53L98.71 136.27M99.43 134.9A86.3 86.3 0 0 0 98.02 137.65M99.43 134.9L84.44 126.87M98.02 137.65L94.96 136.16M95.66 134.76A89.7 89.7 0 0 0 94.29 137.56M95.66 134.76L83.55 128.56M94.29 137.56L91.21 136.11M91.86 134.75A93.1 93.1 0 0 0 90.58 137.48M91.86 134.75L82.7 130.27M90.58 137.48L87.48 136.09M88.04 134.87A96.5 96.5 0 0 0 86.94 137.32M88.04 134.87L81.88 132M86.94 137.32L83.82 135.97M84.19 135.12A99.9 99.9 0 0 0 83.46 136.82M84.19 135.12L81.08 133.74M83.46 136.82L80.32 135.49M149.68 169.42L146.93 168.75M147.89 165.55A29.4 29.4 0 0 0 146.33 172.04M147.89 165.55L88.07 143.67M88.75 141.85A93.1 93.1 0 0 0 87.42 145.49M88.75 141.85L82.41 139.38M82.75 138.53A99.9 99.9 0 0 0 82.08 140.25M82.75 138.53L79.6 137.26M82.08 140.25L78.9 139.04M87.42 145.49L84.2 144.39M84.65 143.13A96.5 96.5 0 0 0 83.78 145.66M84.65 143.13L78.24 140.84M83.78 145.66L80.55 144.61M80.84 143.73A99.9 99.9 0 0 0 80.26 145.49M80.84 143.73L77.62 142.64M80.26 145.49L77.02 144.46M146.33 172.04L142.94 171.62M143.89 166.87A32.81 32.81 0 0 0 142.7 176.46M143.89 166.87L89.07 151.65M89.5 150.15A89.7 89.7 0 0 0 88.67 153.15M89.5 150.15L76.46 146.29M88.67 153.15L85.38 152.3M85.77 150.84A93.1 93.1 0 0 0 85.01 153.76M85.77 150.84L75.93 148.12M85.01 153.76L81.71 152.96M82.03 151.66A96.5 96.5 0 0 0 81.4 154.27M82.03 151.66L75.44 149.97M81.4 154.27L78.08 153.51M78.29 152.61A99.9 99.9 0 0 0 77.88 154.41M78.29 152.61L74.98 151.83M77.88 154.41L74.56 153.69M142.7 176.46L138.36 176.57M138.94 169.06A37.15 37.15 0 0 0 139.31 184.05M138.94 169.06L87.22 159.74M87.51 158.21A89.7 89.7 0 0 0 86.96 161.27M87.51 158.21L74.17 155.56M86.96 161.27L83.6 160.73M83.86 159.24A93.1 93.1 0 0 0 83.37 162.22M83.86 159.24L73.82 157.44M83.37 162.22L80.01 161.73M80.21 160.4A96.5 96.5 0 0 0 79.83 163.05M80.21 160.4L73.5 159.33M79.83 163.05L76.45 162.61M76.58 161.69A99.9 99.9 0 0 0 76.34 163.52M76.58 161.69L73.21 161.22M76.34 163.52L72.96 163.11M139.31 184.05L134.13 185.25M133.14 172.55A42.47 42.47 0 0 0 138.84 197.09M133.14 172.55L82.65 168.85M82.81 166.92A93.1 93.1 0 0 0 82.53 170.79M82.81 166.92L76.04 166.28M76.13 165.36A99.9 99.9 0 0 0 75.96 167.2M76.13 165.36L72.75 165.01M75.96 167.2L72.57 166.91M82.53 170.79L79.13 170.61M79.21 169.27A96.5 96.5 0 0 0 79.07 171.95M79.21 169.27L72.43 168.82M79.07 171.95L75.67 171.82M75.71 170.89A99.9 99.9 0 0 0 75.64 172.74M75.71 170.89L72.32 170.73M75.64 172.74L72.24 172.64M138.84 197.09L135.74 198.9M129.59 179.31A46.06 46.06 0 0 0 149.79 213.86M129.59 179.31L113.2 180.61M113 175.85A62.5 62.5 0 0 0 113.76 185.34M113 175.85L79 175.96M79.01 174.62A96.5 96.5 0 0 0 79.01 177.3M79.01 174.62L72.21 174.55M79.01 177.3L75.61 177.36M75.6 176.44A99.9 99.9 0 0 0 75.63 178.28M75.6 176.44L72.2 176.46M75.63 178.28L72.24 178.37M113.76 185.34L110.4 185.87M109.89 181.8A65.9 65.9 0 0 0 111.16 189.9M109.89 181.8L82.81 184.34M82.56 181.12A93.1 93.1 0 0 0 83.16 187.55M82.56 181.12L79.17 181.32M79.1 179.98A96.5 96.5 0 0 0 79.25 182.65M79.1 179.98L72.3 180.28M79.25 182.65L75.86 182.9M75.8 181.98A99.9 99.9 0 0 0 75.93 183.82M75.8 181.98L72.41 182.19M75.93 183.82L72.55 184.1M83.16 187.55L79.79 187.98M79.58 186.21A96.5 96.5 0 0 0 80.04 189.75M79.58 186.21L76.2 186.58M76.1 185.66A99.9 99.9 0 0 0 76.31 187.5M76.1 185.66L72.72 186M76.31 187.5L72.93 187.9M80.04 189.75L76.67 190.25M76.54 189.33A99.9 99.9 0 0 0 76.81 191.16M76.54 189.33L73.17 189.8M76.81 191.16L73.45 191.69M111.16 189.9L107.84 190.64M107.37 188.31A69.3 69.3 0 0 0 108.39 192.95M107.37 188.31L77.28 193.9M77.12 192.99A99.9 99.9 0 0 0 77.45 194.8M77.12 192.99L73.77 193.58M77.45 194.8L74.12 195.46M108.39 192.95L105.1 193.8M104.56 191.56A72.7 72.7 0 0 0 105.71 196.01M104.56 191.56L78.02 197.52M77.82 196.61A99.9 99.9 0 0 0 78.23 198.42M77.82 196.61L74.5 197.33M78.23 198.42L74.92 199.19M105.71 196.01L102.45 196.96M101.91 195.04A76.1 76.1 0 0 0 103.03 198.87M101.91 195.04L78.9 201.11M78.67 200.21A99.9 99.9 0 0 0 79.14 202M78.67 200.21L75.37 201.05M79.14 202L75.86 202.9M103.03 198.87L99.79 199.9M99.22 198.04A79.5 79.5 0 0 0 100.41 201.76M99.22 198.04L76.38 204.74M100.41 201.76L97.2 202.87M96.4 200.46A82.9 82.9 0 0 0 98.07 205.26M96.4 200.46L76.94 206.57M98.07 205.26L94.89 206.48M93.65 203A86.3 86.3 0 0 0 96.29 209.9M93.65 203L77.52 208.39M96.29 209.9L93.16 211.24M91.39 206.82A89.7 89.7 0 0 0 95.17 215.57M91.39 206.82L85.01 209.18M84.56 207.92A96.5 96.5 0 0 0 85.49 210.43M84.56 207.92L78.15 210.19M85.49 210.43L82.31 211.66M81.99 210.79A99.9 99.9 0 0 0 82.65 212.52M81.99 210.79L78.8 211.99M82.65 212.52L79.49 213.77M95.17 215.57L92.13 217.09M90.65 213.97A93.1 93.1 0 0 0 93.72 220.14M90.65 213.97L87.55 215.37M86.83 213.74A96.5 96.5 0 0 0 88.3 216.99M86.83 213.74L83.71 215.08M83.35 214.23A99.9 99.9 0 0 0 84.08 215.93M83.35 214.23L80.21 215.54M84.08 215.93L80.97 217.3M88.3 216.99L85.23 218.45M84.84 217.61A99.9 99.9 0 0 0 85.63 219.28M84.84 217.61L81.76 219.04M85.63 219.28L82.57 220.77M93.72 220.14L90.73 221.77M89.89 220.19A96.5 96.5 0 0 0 91.6 223.33M89.89 220.19L86.88 221.76M86.46 220.94A99.9 99.9 0 0 0 87.31 222.58M86.46 220.94L83.42 222.48M87.31 222.58L84.31 224.18M91.6 223.33L88.65 225.01M88.19 224.2A99.9 99.9 0 0 0 89.11 225.81M88.19 224.2L85.22 225.86M89.11 225.81L86.17 227.52M149.79 213.86L147.27 217.62M133.62 204.02A50.58 50.58 0 0 0 165.01 225.13M133.62 204.02L123.75 210.7M122.04 208.03A62.5 62.5 0 0 0 125.6 213.29M122.04 208.03L87.14 229.16M125.6 213.29L122.89 215.33M120.27 211.59A65.9 65.9 0 0 0 125.76 218.88M120.27 211.59L94.62 228.29M93.9 227.16A96.5 96.5 0 0 0 95.36 229.4M93.9 227.16L88.15 230.79M95.36 229.4L92.53 231.3M92.02 230.53A99.9 99.9 0 0 0 93.05 232.06M92.02 230.53L89.18 232.39M93.05 232.06L90.25 233.98M125.76 218.88L123.2 221.11M119.84 216.94A69.3 69.3 0 0 0 126.87 225.02M119.84 216.94L106.19 227.06M105.19 225.69A86.3 86.3 0 0 0 107.21 228.42M105.19 225.69L91.34 235.55M107.21 228.42L104.52 230.5M103.39 229.01A89.7 89.7 0 0 0 105.68 231.96M103.39 229.01L92.46 237.1M105.68 231.96L103.03 234.1M101.7 232.4A93.1 93.1 0 0 0 104.4 235.76M101.7 232.4L93.61 238.62M104.4 235.76L101.81 237.95M100.67 236.58A96.5 96.5 0 0 0 102.97 239.31M100.67 236.58L98.03 238.72M97.45 238A99.9 99.9 0 0 0 98.62 239.44M97.45 238L94.79 240.13M98.62 239.44L96 241.61M102.97 239.31L100.42 241.55M99.81 240.85A99.9 99.9 0 0 0 101.03 242.24M99.81 240.85L97.23 243.07M101.03 242.24L98.5 244.51M126.87 225.02L124.48 227.44M122.21 225.1A72.7 72.7 0 0 0 126.85 229.68M122.21 225.1L99.78 245.92M126.85 229.68L124.58 232.2M121.92 229.69A76.1 76.1 0 0 0 127.35 234.58M121.92 229.69L109.95 241.77M108.44 240.23A93.1 93.1 0 0 0 111.5 243.26M108.44 240.23L101.1 247.31M111.5 243.26L109.16 245.73M107.88 244.49A96.5 96.5 0 0 0 110.47 246.95M107.88 244.49L105.5 246.92M104.84 246.27A99.9 99.9 0 0 0 106.16 247.56M104.84 246.27L102.43 248.67M106.16 247.56L103.8 250.01M110.47 246.95L108.18 249.46M107.5 248.84A99.9 99.9 0 0 0 108.87 250.08M107.5 248.84L105.19 251.33M108.87 250.08L106.6 252.61M127.35 234.58L125.2 237.21M123.58 235.85A79.5 79.5 0 0 0 126.85 238.53M123.58 235.85L108.04 253.88M126.85 238.53L124.77 241.22M122.53 239.42A82.9 82.9 0 0 0 127.08 242.94M122.53 239.42L109.49 255.11M127.08 242.94L125.09 245.7M122.22 243.54A86.3 86.3 0 0 0 128.05 247.74M122.22 243.54L113.82 254.24M113.1 253.66A99.9 99.9 0 0 0 114.55 254.81M113.1 253.66L110.98 256.32M114.55 254.81L112.48 257.5M128.05 247.74L126.18 250.58M123.11 248.46A89.7 89.7 0 0 0 129.34 252.56M123.11 248.46L119.13 253.98M118.05 253.19A96.5 96.5 0 0 0 120.23 254.75M118.05 253.19L114.01 258.65M120.23 254.75L118.28 257.54M117.52 257.01A99.9 99.9 0 0 0 119.04 258.07M117.52 257.01L115.55 259.78M119.04 258.07L117.12 260.87M129.34 252.56L127.59 255.48M125.4 254.12A93.1 93.1 0 0 0 129.83 256.78M125.4 254.12L123.57 256.98M122.44 256.26A96.5 96.5 0 0 0 124.7 257.7M122.44 256.26L118.71 261.94M124.7 257.7L122.91 260.59M122.13 260.1A99.9 99.9 0 0 0 123.7 261.07M122.13 260.1L120.31 262.97M123.7 261.07L121.94 263.98M129.83 256.78L128.16 259.74M127 259.08A96.5 96.5 0 0 0 129.33 260.39M127 259.08L123.58 264.95M129.33 260.39L127.71 263.38M126.9 262.93A99.9 99.9 0 0 0 128.52 263.81M126.9 262.93L125.24 265.9M128.52 263.81L126.92 266.81M165.01 225.13L163.95 230.12M152.38 226.3A55.68 55.68 0 0 0 176.08 231.32M152.38 226.3L139.66 254.15M136.33 252.55A86.3 86.3 0 0 0 143.05 255.62M136.33 252.55L128.62 267.7M143.05 255.62L141.77 258.77M137.4 256.86A89.7 89.7 0 0 0 146.24 260.44M137.4 256.86L134.51 263.01M133.3 262.43A96.5 96.5 0 0 0 135.73 263.57M133.3 262.43L130.33 268.55M135.73 263.57L134.32 266.67M133.48 266.28A99.9 99.9 0 0 0 135.17 267.05M133.48 266.28L132.05 269.37M135.17 267.05L133.8 270.16M146.24 260.44L145.13 263.66M141.89 262.47A93.1 93.1 0 0 0 148.41 264.72M141.89 262.47L140.67 265.64M139.01 264.98A96.5 96.5 0 0 0 142.34 266.27M139.01 264.98L137.72 268.13M136.87 267.78A99.9 99.9 0 0 0 138.58 268.48M136.87 267.78L135.55 270.91M138.58 268.48L137.32 271.64M142.34 266.27L141.17 269.47M140.3 269.14A99.9 99.9 0 0 0 142.04 269.78M140.3 269.14L139.1 272.33M142.04 269.78L140.9 272.98M148.41 264.72L147.42 267.97M145.71 267.44A96.5 96.5 0 0 0 149.13 268.48M145.71 267.44L144.66 270.67M143.79 270.38A99.9 99.9 0 0 0 145.54 270.95M143.79 270.38L142.71 273.61M145.54 270.95L144.52 274.2M149.13 268.48L148.2 271.75M147.31 271.49A99.9 99.9 0 0 0 149.09 272M147.31 271.49L146.35 274.75M149.09 272L148.19 275.28M176.08 231.32L176.12 235.98M163.62 234.81A60.34 60.34 0 0 0 188.6 234.55M163.62 234.81L158.51 260.26M155.01 259.48A86.3 86.3 0 0 0 162.05 260.9M155.01 259.48L151.78 272.69M150.88 272.47A99.9 99.9 0 0 0 152.67 272.91M150.88 272.47L150.04 275.76M152.67 272.91L151.9 276.22M162.05 260.9L161.52 264.25M157.84 263.6A89.7 89.7 0 0 0 165.22 264.76M157.84 263.6L156.5 270.26M155.19 269.99A96.5 96.5 0 0 0 157.82 270.52M155.19 269.99L153.76 276.64M157.82 270.52L157.2 273.86M156.29 273.69A99.9 99.9 0 0 0 158.11 274.02M156.29 273.69L155.64 277.02M158.11 274.02L157.51 277.37M165.22 264.76L164.83 268.14M162.27 267.8A93.1 93.1 0 0 0 167.4 268.4M162.27 267.8L161.78 271.17M160.46 270.97A96.5 96.5 0 0 0 163.11 271.35M160.46 270.97L159.4 277.69M163.11 271.35L162.67 274.72M161.76 274.6A99.9 99.9 0 0 0 163.59 274.84M161.76 274.6L161.29 277.97M163.59 274.84L163.19 278.21M167.4 268.4L167.11 271.78M165.77 271.66A96.5 96.5 0 0 0 168.44 271.89M165.77 271.66L165.09 278.42M168.44 271.89L168.19 275.28M167.27 275.21A99.9 99.9 0 0 0 169.11 275.35M167.27 275.21L166.99 278.6M169.11 275.35L168.9 278.74M188.6 234.55L189.47 238.46M176.26 239.99A64.35 64.35 0 0 0 202.08 234.25M176.26 239.99L176.48 258.54M172.88 258.51A82.9 82.9 0 0 0 180.07 258.42M172.88 258.51L172.45 272.1M171.11 272.05A96.5 96.5 0 0 0 173.79 272.13M171.11 272.05L170.81 278.84M173.79 272.13L173.73 275.53M172.81 275.51A99.9 99.9 0 0 0 174.66 275.55M172.81 275.51L172.72 278.91M174.66 275.55L174.63 278.95M180.07 258.42L180.26 261.82M177.57 261.93A86.3 86.3 0 0 0 182.95 261.63M177.57 261.93L177.81 272.12M176.47 272.15A96.5 96.5 0 0 0 179.15 272.08M176.47 272.15L176.54 278.94M179.15 272.08L179.28 275.48M178.35 275.51A99.9 99.9 0 0 0 180.2 275.44M178.35 275.51L178.45 278.91M180.2 275.44L180.36 278.84M182.95 261.63L183.24 265.02M181.38 265.16A89.7 89.7 0 0 0 185.1 264.83M181.38 265.16L182.27 278.73M185.1 264.83L185.46 268.22M183.32 268.42A93.1 93.1 0 0 0 187.6 267.96M183.32 268.42L184.18 278.59M187.6 267.96L188.04 271.33M186.27 271.55A96.5 96.5 0 0 0 189.81 271.08M186.27 271.55L186.65 274.93M185.73 275.02A99.9 99.9 0 0 0 187.57 274.82M185.73 275.02L186.08 278.41M187.57 274.82L187.98 278.19M189.81 271.08L190.32 274.45M189.4 274.58A99.9 99.9 0 0 0 191.23 274.3M189.4 274.58L189.87 277.95M191.23 274.3L191.76 277.66M202.08 234.25L203.66 237.73M191.53 241.9A68.16 68.16 0 0 0 214.79 231.35M191.53 241.9L195.79 259.53M192.04 260.35A86.3 86.3 0 0 0 199.5 258.54M192.04 260.35L193.34 267.03M191.86 267.3A93.1 93.1 0 0 0 194.82 266.72M191.86 267.3L193.65 277.34M194.82 266.72L195.52 270.05M194.21 270.32A96.5 96.5 0 0 0 196.83 269.76M194.21 270.32L195.53 276.99M196.83 269.76L197.58 273.08M196.68 273.28A99.9 99.9 0 0 0 198.48 272.87M196.68 273.28L197.4 276.6M198.48 272.87L199.26 276.18M199.5 258.54L200.45 261.81M198.55 262.34A89.7 89.7 0 0 0 202.34 261.24M198.55 262.34L201.17 272.2M200.28 272.43A99.9 99.9 0 0 0 202.06 271.95M200.28 272.43L201.12 275.72M202.06 271.95L202.97 275.23M202.34 261.24L203.35 264.49M201.91 264.93A93.1 93.1 0 0 0 204.79 264.02M201.91 264.93L204.81 274.71M204.79 264.02L205.86 267.25M204.58 267.66A96.5 96.5 0 0 0 207.13 266.82M204.58 267.66L206.63 274.15M207.13 266.82L208.24 270.03M207.37 270.33A99.9 99.9 0 0 0 209.11 269.73M207.37 270.33L208.45 273.55M209.11 269.73L210.26 272.93M214.79 231.35L216.13 233.25M204.1 240.08A70.49 70.49 0 0 0 226.6 224.2M204.1 240.08L210.51 254.53M206.78 256.08A86.3 86.3 0 0 0 214.17 252.8M206.78 256.08L211.71 268.76M210.85 269.09A99.9 99.9 0 0 0 212.57 268.42M210.85 269.09L212.05 272.27M212.57 268.42L213.83 271.57M214.17 252.8L215.69 255.84M212.6 257.32A89.7 89.7 0 0 0 218.72 254.25M212.6 257.32L215.41 263.51M213.78 264.23A96.5 96.5 0 0 0 217.03 262.75M213.78 264.23L215.13 267.35M214.28 267.72A99.9 99.9 0 0 0 215.98 266.98M214.28 267.72L215.6 270.85M215.98 266.98L217.36 270.09M217.03 262.75L218.5 265.82M217.66 266.22A99.9 99.9 0 0 0 219.33 265.42M217.66 266.22L219.1 269.3M219.33 265.42L220.82 268.48M218.72 254.25L220.36 257.23M218.65 258.15A93.1 93.1 0 0 0 222.05 256.28M218.65 258.15L221.8 264.17M220.98 264.6A99.9 99.9 0 0 0 222.62 263.74M220.98 264.6L222.53 267.62M222.62 263.74L224.23 266.74M222.05 256.28L223.75 259.22M222.58 259.88A96.5 96.5 0 0 0 224.9 258.54M222.58 259.88L225.9 265.82M224.9 258.54L226.65 261.46M225.85 261.93A99.9 99.9 0 0 0 227.44 260.99M225.85 261.93L227.56 264.87M227.44 260.99L229.2 263.89M226.6 224.2L228.09 225.61M217.18 235.02A72.54 72.54 0 0 0 236.92 214.24M217.18 235.02L225.08 246.28M222.4 248.1A86.3 86.3 0 0 0 227.7 244.37M222.4 248.1L229.79 259.51M229.01 260.01A99.9 99.9 0 0 0 230.56 259.01M229.01 260.01L230.83 262.88M230.56 259.01L232.43 261.84M227.7 244.37L229.76 247.08M227 249.1A89.7 89.7 0 0 0 232.45 244.95M227 249.1L232.85 257.45M232.09 257.97A99.9 99.9 0 0 0 233.61 256.91M232.09 257.97L234.02 260.78M233.61 256.91L235.58 259.68M232.45 244.95L234.61 247.58M232.07 249.59A93.1 93.1 0 0 0 237.07 245.49M232.07 249.59L234.14 252.29M233.07 253.1A96.5 96.5 0 0 0 235.2 251.47M233.07 253.1L237.13 258.55M235.2 251.47L237.3 254.14M236.57 254.71A99.9 99.9 0 0 0 238.03 253.56M236.57 254.71L238.65 257.4M238.03 253.56L240.15 256.22M237.07 245.49L239.31 248.04M237.96 249.21A96.5 96.5 0 0 0 240.64 246.85M237.96 249.21L240.16 251.8M239.46 252.39A99.9 99.9 0 0 0 240.87 251.2M239.46 252.39L241.63 255.01M240.87 251.2L243.09 253.77M240.64 246.85L242.94 249.35M242.25 249.97A99.9 99.9 0 0 0 243.62 248.73M242.25 249.97L244.52 252.5M243.62 248.73L245.93 251.21M236.92 214.24L239.94 216.13M230.56 228.18A76.1 76.1 0 0 0 246.72 202.46M230.56 228.18L233.02 230.52M230.77 232.79A79.5 79.5 0 0 0 235.18 228.17M230.77 232.79L247.32 249.9M235.18 228.17L237.74 230.41M235.04 233.34A82.9 82.9 0 0 0 240.29 227.36M235.04 233.34L244.8 242.8M243.87 243.76A96.5 96.5 0 0 0 245.73 241.83M243.87 243.76L248.68 248.56M245.73 241.83L248.2 244.16M247.57 244.83A99.9 99.9 0 0 0 248.83 243.49M247.57 244.83L250.02 247.19M248.83 243.49L251.33 245.8M240.29 227.36L242.95 229.49M239.92 233.07A86.3 86.3 0 0 0 245.77 225.74M239.92 233.07L252.62 244.38M245.77 225.74L248.54 227.72M244.89 232.49A89.7 89.7 0 0 0 251.87 222.7M244.89 232.49L247.52 234.65M246.14 236.3A93.1 93.1 0 0 0 248.86 232.97M246.14 236.3L253.87 242.94M248.86 232.97L251.54 235.06M250.43 236.46A96.5 96.5 0 0 0 252.63 233.64M250.43 236.46L253.07 238.6M252.49 239.32A99.9 99.9 0 0 0 253.65 237.88M252.49 239.32L255.11 241.48M253.65 237.88L256.31 240M252.63 233.64L255.35 235.69M254.79 236.42A99.9 99.9 0 0 0 255.9 234.95M254.79 236.42L257.49 238.49M255.9 234.95L258.64 236.96M251.87 222.7L254.76 224.49M252.9 227.38A93.1 93.1 0 0 0 256.52 221.52M252.9 227.38L255.73 229.27M254.72 230.75A96.5 96.5 0 0 0 256.71 227.78M254.72 230.75L257.51 232.69M256.98 233.45A99.9 99.9 0 0 0 258.04 231.93M256.98 233.45L259.76 235.41M258.04 231.93L260.85 233.84M256.71 227.78L259.57 229.62M259.07 230.39A99.9 99.9 0 0 0 260.06 228.84M259.07 230.39L261.91 232.26M260.06 228.84L262.94 230.65M256.52 221.52L259.48 223.19M258.58 224.74A96.5 96.5 0 0 0 260.34 221.63M258.58 224.74L261.51 226.47M261.03 227.26A99.9 99.9 0 0 0 261.97 225.67M261.03 227.26L263.95 229.02M261.97 225.67L264.92 227.37M260.34 221.63L263.33 223.25M262.89 224.06A99.9 99.9 0 0 0 263.77 222.44M262.89 224.06L265.86 225.71M263.77 222.44L266.77 224.03M246.72 202.46L249.9 203.66M247.64 209.05A79.5 79.5 0 0 0 251.76 198.11M247.64 209.05L253.81 211.91M252.84 213.94A86.3 86.3 0 0 0 254.73 209.86M252.84 213.94L265.03 219.97M264.62 220.8A99.9 99.9 0 0 0 265.44 219.14M264.62 220.8L267.65 222.33M265.44 219.14L268.5 220.62M254.73 209.86L257.85 211.21M256.96 213.2A89.7 89.7 0 0 0 258.69 209.2M256.96 213.2L269.31 218.89M258.69 209.2L261.84 210.47M261.1 212.26A93.1 93.1 0 0 0 262.55 208.66M261.1 212.26L267.35 214.93M266.98 215.78A99.9 99.9 0 0 0 267.71 214.08M266.98 215.78L270.1 217.15M267.71 214.08L270.85 215.39M262.55 208.66L265.73 209.87M265.25 211.12A96.5 96.5 0 0 0 266.2 208.61M265.25 211.12L271.57 213.62M266.2 208.61L269.39 209.78M269.07 210.64A99.9 99.9 0 0 0 269.7 208.91M269.07 210.64L272.26 211.83M269.7 208.91L272.91 210.04M251.76 198.11L255.02 199.07M254.17 201.8A82.9 82.9 0 0 0 255.78 196.32M254.17 201.8L273.53 208.23M255.78 196.32L259.07 197.17M257.89 201.35A86.3 86.3 0 0 0 260.05 192.94M257.89 201.35L274.11 206.41M260.05 192.94L263.38 193.62M262.17 198.77A89.7 89.7 0 0 0 264.29 188.41M262.17 198.77L265.45 199.65M264.87 201.72A93.1 93.1 0 0 0 265.98 197.56M264.87 201.72L274.67 204.58M265.98 197.56L269.29 198.36M268.85 200.09A96.5 96.5 0 0 0 269.69 196.62M268.85 200.09L272.14 200.95M271.9 201.85A99.9 99.9 0 0 0 272.37 200.06M271.9 201.85L275.18 202.74M272.37 200.06L275.67 200.89M269.69 196.62L273.01 197.36M272.81 198.26A99.9 99.9 0 0 0 273.21 196.46M272.81 198.26L276.12 199.03M273.21 196.46L276.53 197.17M264.29 188.41L267.65 188.89M267.14 192.08A93.1 93.1 0 0 0 268.06 185.69M267.14 192.08L270.48 192.68M270.24 194A96.5 96.5 0 0 0 270.71 191.36M270.24 194L276.92 195.29M270.71 191.36L274.07 191.92M273.91 192.83A99.9 99.9 0 0 0 274.21 191M273.91 192.83L277.26 193.41M274.21 191L277.57 191.53M268.06 185.69L271.44 186.06M271.23 187.83A96.5 96.5 0 0 0 271.61 184.28M271.23 187.83L274.6 188.26M274.48 189.17A99.9 99.9 0 0 0 274.71 187.34M274.48 189.17L277.85 189.64M274.71 187.34L278.09 187.74M271.61 184.28L275 184.58M274.91 185.5A99.9 99.9 0 0 0 275.08 183.66M274.91 185.5L278.3 185.84M275.08 183.66L278.47 183.93"/>
<text x="62.5" y="20.3" font-size="2.6" fill="#333">100</text>
<g class="lg">
<text x="418.7" y="36" font-size="7.2" fill="#000">Admixture</text>
<rect x="418.7" y="40.9" width="11.36" height="11.41" fill="#1C86EE"/><text x="433.6" y="48.68" font-size="6" fill="#000">Q1</text><rect x="418.7" y="52.26" width="11.36" height="11.41" fill="#E31A1C"/><text x="433.6" y="60.04" font-size="6" fill="#000">Q2</text><rect x="418.7" y="63.62" width="11.36" height="11.41" fill="#008B00"/><text x="433.6" y="71.4" font-size="6" fill="#000">Q3</text><rect x="418.7" y="74.98" width="11.36" height="11.41" fill="#6A3D9A"/><text x="433.6" y="82.76" font-size="6" fill="#000">Q4</text><rect x="418.7" y="86.34" width="11.36" height="11.41" fill="#FF7F00"/><text x="433.6" y="94.12" font-size="6" fill="#000">Q5</text><rect x="418.7" y="97.7" width="11.36" height="11.41" fill="#000000"/><text x="433.6" y="105.48" font-size="6" fill="#000">Q6</text><rect x="418.7" y="109.06" width="11.36" height="11.41" fill="#FFD700"/><text x="433.6" y="116.84" font-size="6" fill="#000">Q7</text><rect x="418.7" y="120.42" width="11.36" height="11.41" fill="#7EC0EE"/><text x="433.6" y="128.2" font-size="6" fill="#000">Q8</text><rect x="418.7" y="131.78" width="11.36" height="11.41" fill="#FB9A99"/><text x="433.6" y="139.56" font-size="6" fill="#000">Q9</text><rect x="418.7" y="143.14" width="11.36" height="11.41" fill="#90EE90"/><text x="433.6" y="150.92" font-size="6" fill="#000">Q10</text><rect x="418.7" y="154.5" width="11.36" height="11.41" fill="#CAB2D6"/><text x="433.6" y="162.28" font-size="6" fill="#000">Q11</text><rect x="418.7" y="165.86" width="11.36" height="11.41" fill="#FDBF6F"/><text x="433.6" y="173.64" font-size="6" fill="#000">Q12</text><rect x="418.7" y="177.22" width="11.36" height="11.41" fill="#B3B3B3"/><text x="433.6" y="185" font-size="6" fill="#000">admix</text>
<line x1="358.5" x2="371.5" y1="58.2" y2="58.2" stroke="#F8766D" stroke-width="0.5" opacity="0.18"/>
<circle cx="365" cy="58.2" r="1.15" fill="#F8766D"/>
<text x="376.4" y="60.6" font-size="7.4" fill="#000">cherry</text>
<line x1="358.5" x2="371.5" y1="72.65" y2="72.65" stroke="#00BFC4" stroke-width="0.5" opacity="0.18"/>
<circle cx="365" cy="72.65" r="1.15" fill="#00BFC4"/>
<text x="376.4" y="75.05" font-size="7.4" fill="#000">table</text>
<text x="367.6" y="99.6" font-size="8.4" fill="#000">group</text>
<circle cx="374.2" cy="111.4" r="1.6" fill="#7FC97F"/>
<text x="386.4" y="113.9" font-size="7.4" fill="#000">1</text>
<circle cx="374.2" cy="125.2" r="1.6" fill="#BEAED4"/>
<text x="386.4" y="127.7" font-size="7.4" fill="#000">2</text>
<circle cx="374.2" cy="139" r="1.6" fill="#FDC086"/>
<text x="386.4" y="141.5" font-size="7.4" fill="#000">3</text>
<circle cx="374.2" cy="152.8" r="1.6" fill="#FFFF99"/>
<text x="386.4" y="155.3" font-size="7.4" fill="#000">4</text>
<circle cx="374.2" cy="166.6" r="1.6" fill="#386CB0"/>
<text x="386.4" y="169.1" font-size="7.4" fill="#000">5</text>
<text x="371.8" y="204.6" font-size="7.4" fill="#000">Source</text>
<rect x="371.8" y="209.6" width="11.6" height="11.65" fill="#1C86EE"/><text x="387.6" y="217.5" font-size="6" fill="#000">INT</text><rect x="371.8" y="221.2" width="11.6" height="11.65" fill="#E31A1C"/><text x="387.6" y="229.1" font-size="6" fill="#000">TH</text>
<text x="414.4" y="204.6" font-size="7.4" fill="#000">Origin</text>
<rect x="414.9" y="209.6" width="11.36" height="11.41" fill="#1C86EE"/><text x="430.5" y="217.38" font-size="6" fill="#000">Australia</text><rect x="414.9" y="220.96" width="11.36" height="11.41" fill="#E31A1C"/><text x="430.5" y="228.74" font-size="6" fill="#000">Canada</text><rect x="414.9" y="232.32" width="11.36" height="11.41" fill="#008B00"/><text x="430.5" y="240.1" font-size="6" fill="#000">China</text><rect x="414.9" y="243.68" width="11.36" height="11.41" fill="#6A3D9A"/><text x="430.5" y="251.46" font-size="6" fill="#000">El Salvador</text><rect x="414.9" y="255.04" width="11.36" height="11.41" fill="#FF7F00"/><text x="430.5" y="262.82" font-size="6" fill="#000">Guatemala</text><rect x="414.9" y="266.4" width="11.36" height="11.41" fill="#000000"/><text x="430.5" y="274.18" font-size="6" fill="#000">Hungary</text><rect x="414.9" y="277.76" width="11.36" height="11.41" fill="#FFD700"/><text x="430.5" y="285.54" font-size="6" fill="#000">Indonesia</text><rect x="414.9" y="289.12" width="11.36" height="11.41" fill="#7EC0EE"/><text x="430.5" y="296.9" font-size="6" fill="#000">Italy</text><rect x="414.9" y="300.48" width="11.36" height="11.41" fill="#FB9A99"/><text x="430.5" y="308.26" font-size="6" fill="#000">Japan</text><rect x="414.9" y="311.84" width="11.36" height="11.41" fill="#90EE90"/><text x="430.5" y="319.62" font-size="6" fill="#000">Laos</text><rect x="414.9" y="323.2" width="11.36" height="11.41" fill="#CAB2D6"/><text x="430.5" y="330.98" font-size="6" fill="#000">Malaysia</text>
<rect x="464.4" y="209.6" width="11.36" height="11.41" fill="#FDBF6F"/><text x="480.2" y="217.38" font-size="6" fill="#000">Netherlands</text><rect x="464.4" y="220.96" width="11.36" height="11.41" fill="#B3B3B3"/><text x="480.2" y="228.74" font-size="6" fill="#000">Pakistan</text><rect x="464.4" y="232.32" width="11.36" height="11.41" fill="#EEE685"/><text x="480.2" y="240.1" font-size="6" fill="#000">Peru</text><rect x="464.4" y="243.68" width="11.36" height="11.41" fill="#B03060"/><text x="480.2" y="251.46" font-size="6" fill="#000">Philippines</text><rect x="464.4" y="255.04" width="11.36" height="11.41" fill="#FF83FA"/><text x="480.2" y="262.82" font-size="6" fill="#000">Sri Lanka</text><rect x="464.4" y="266.4" width="11.36" height="11.41" fill="#FF1493"/><text x="480.2" y="274.18" font-size="6" fill="#000">Taiwan</text><rect x="464.4" y="277.76" width="11.36" height="11.41" fill="#0000FF"/><text x="480.2" y="285.54" font-size="6" fill="#000">Thailand</text><rect x="464.4" y="289.12" width="11.36" height="11.41" fill="#36648B"/><text x="480.2" y="296.9" font-size="6" fill="#000">United States of America</text><rect x="464.4" y="300.48" width="11.36" height="11.41" fill="#00CED1"/><text x="480.2" y="308.26" font-size="6" fill="#000">Unknown</text><rect x="464.4" y="311.84" width="11.36" height="11.41" fill="#00FF00"/><text x="480.2" y="319.62" font-size="6" fill="#000">Vietnam</text>
</g>
</svg>
</body></html>
